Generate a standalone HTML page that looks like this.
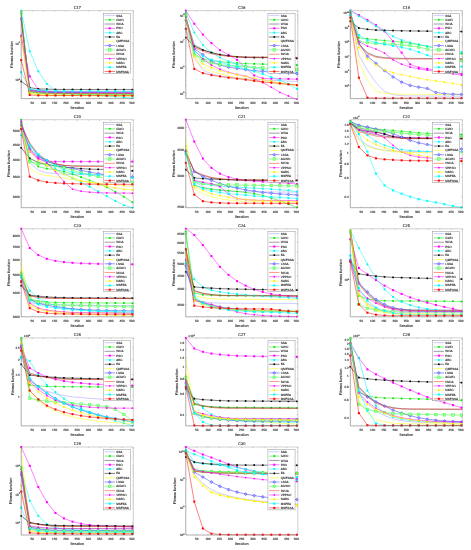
<!DOCTYPE html>
<html lang="en"><head><meta charset="utf-8"><title>Convergence curves C17-C30</title>
<style>html,body{margin:0;padding:0;background:#fff}svg{display:block}text{font-family:"Liberation Sans",sans-serif;stroke:#3a3a3a;stroke-width:0.13px;paint-order:stroke}</style></head>
<body>
<svg width="471" height="550" viewBox="0 0 471 550" font-family="Liberation Sans, sans-serif" text-rendering="geometricPrecision">
<rect width="471" height="550" fill="#fff"/>
<defs><marker id="mGWO" markerUnits="userSpaceOnUse" markerWidth="5" markerHeight="5" refX="2.5" refY="2.5" viewBox="0 0 5 5"><circle cx="2.5" cy="2.5" r="1.01" fill="#00e800"/></marker><marker id="mPSO" markerUnits="userSpaceOnUse" markerWidth="5" markerHeight="5" refX="2.5" refY="2.5" viewBox="0 0 5 5"><rect x="1.49" y="1.49" width="2.02" height="2.02" fill="#ff00ff"/></marker><marker id="mABC" markerUnits="userSpaceOnUse" markerWidth="5" markerHeight="5" refX="2.5" refY="2.5" viewBox="0 0 5 5"><circle cx="2.5" cy="2.5" r="1.06" fill="#00f4f4"/></marker><marker id="mFA" markerUnits="userSpaceOnUse" markerWidth="5" markerHeight="5" refX="2.5" refY="2.5" viewBox="0 0 5 5"><rect x="1.66" y="1.66" width="1.67" height="1.67" fill="#000000"/></marker><marker id="mLSSA" markerUnits="userSpaceOnUse" markerWidth="5" markerHeight="5" refX="2.5" refY="2.5" viewBox="0 0 5 5"><path d="M0.96 2.5L2.5 0.96L4.04 2.5L2.5 4.04Z" fill="#9a9aff" stroke="#3535ff" stroke-width="0.4"/></marker><marker id="mAGWO" markerUnits="userSpaceOnUse" markerWidth="5" markerHeight="5" refX="2.5" refY="2.5" viewBox="0 0 5 5"><rect x="1.22" y="1.22" width="2.55" height="2.55" fill="#9dff9d" stroke="#2cff2c" stroke-width="0.4"/></marker><marker id="mVPPSO" markerUnits="userSpaceOnUse" markerWidth="5" markerHeight="5" refX="2.5" refY="2.5" viewBox="0 0 5 5"><circle cx="2.5" cy="2.5" r="0.88" fill="#ff00ff"/></marker><marker id="mNABC" markerUnits="userSpaceOnUse" markerWidth="5" markerHeight="5" refX="2.5" refY="2.5" viewBox="0 0 5 5"><circle cx="2.5" cy="2.5" r="1.01" fill="#ffee00"/></marker><marker id="mMSEFA" markerUnits="userSpaceOnUse" markerWidth="5" markerHeight="5" refX="2.5" refY="2.5" viewBox="0 0 5 5"><rect x="1.44" y="1.44" width="2.11" height="2.11" fill="#00ffff"/></marker><marker id="mMSESSA" markerUnits="userSpaceOnUse" markerWidth="5" markerHeight="5" refX="2.5" refY="2.5" viewBox="0 0 5 5"><rect x="1.49" y="1.49" width="2.02" height="2.02" fill="#ff0000"/></marker></defs>
<g>
<clipPath id="c0"><rect x="19.9" y="9.3" width="114.7" height="90.6"/></clipPath>
<g clip-path="url(#c0)" fill="none" stroke-width="0.5" stroke-linejoin="round"><path d="M21.2 17.53L29.75 90.18L38.31 91.68L46.86 92.18L55.42 92.44L63.97 92.52L72.52 92.6L81.08 92.69L89.63 92.77L98.18 92.85L106.74 92.94L115.29 93.02L123.85 93.1L132.4 93.19L133.3 93.2" stroke="#9a9aff"/><path d="M21.2 13.77L29.75 91.43L38.31 92.69L46.86 93.19L55.42 93.44L63.97 93.52L72.52 93.6L81.08 93.69L89.63 93.77L98.18 93.85L106.74 93.94L115.29 94.02L123.85 94.11L132.4 94.19L133.3 94.2" stroke="#00e800"/><path d="M21.2 13.77L29.75 91.43L38.31 92.69L46.86 93.19L55.42 93.44L63.97 93.52L72.52 93.6L81.08 93.69L89.63 93.77L98.18 93.85L106.74 93.94L115.29 94.02L123.85 94.11L132.4 94.19" stroke="none" marker-start="url(#mGWO)" marker-mid="url(#mGWO)" marker-end="url(#mGWO)"/><path d="M21.2 16.27L29.75 89.68L38.31 90.93L46.86 91.43L55.42 91.68L63.97 91.74L72.52 91.79L81.08 91.85L89.63 91.91L98.18 91.96L106.74 92.02L115.29 92.07L123.85 92.13L132.4 92.18L133.3 92.19" stroke="#3a3a4a"/><path d="M21.2 37.07L29.75 76.4L38.31 89.68L46.86 91.68L55.42 92.44L63.97 92.55L72.52 92.66L81.08 92.77L89.63 92.88L98.18 92.99L106.74 93.1L115.29 93.21L123.85 93.33L132.4 93.44L133.3 93.45" stroke="#ff00ff"/><path d="M21.2 37.07L29.75 76.4L38.31 89.68L46.86 91.68L55.42 92.44L63.97 92.55L72.52 92.66L81.08 92.77L89.63 92.88L98.18 92.99L106.74 93.1L115.29 93.21L123.85 93.33L132.4 93.44" stroke="none" marker-start="url(#mPSO)" marker-mid="url(#mPSO)" marker-end="url(#mPSO)"/><path d="M21.2 10.51L29.75 51.35L38.31 71.39L46.86 83.92L55.42 90.18L63.97 92.69L72.52 93.94L81.08 94.69L89.63 95.19L98.18 95.69L106.74 96.19L115.29 96.69L123.85 97.2L132.4 98.2L133.3 98.3" stroke="#00f4f4"/><path d="M21.2 10.51L29.75 51.35L38.31 71.39L46.86 83.92L55.42 90.18L63.97 92.69L72.52 93.94L81.08 94.69L89.63 95.19L98.18 95.69L106.74 96.19L115.29 96.69L123.85 97.2L132.4 98.2" stroke="none" marker-start="url(#mABC)" marker-mid="url(#mABC)" marker-end="url(#mABC)"/><path d="M21.2 81.41L29.75 87.68L38.31 88.93L46.86 89.18L55.42 89.43L63.97 89.46L72.52 89.48L81.08 89.51L89.63 89.54L98.18 89.57L106.74 89.6L115.29 89.62L123.85 89.65L132.4 89.68L133.3 89.68" stroke="#000000"/><path d="M21.2 81.41L29.75 87.68L38.31 88.93L46.86 89.18L55.42 89.43L63.97 89.46L72.52 89.48L81.08 89.51L89.63 89.54L98.18 89.57L106.74 89.6L115.29 89.62L123.85 89.65L132.4 89.68" stroke="none" marker-start="url(#mFA)" marker-mid="url(#mFA)" marker-end="url(#mFA)"/><path d="M21.2 36.32L29.75 92.69L38.31 94.44L46.86 94.94L55.42 95.19L63.97 95.22L72.52 95.25L81.08 95.27L89.63 95.3L98.18 95.33L106.74 95.36L115.29 95.39L123.85 95.41L132.4 95.44L133.3 95.44" stroke="#ffff00"/><path d="M21.2 18.78L29.75 90.68L38.31 91.93L46.86 92.44L55.42 92.69L63.97 92.74L72.52 92.8L81.08 92.85L89.63 92.91L98.18 92.96L106.74 93.02L115.29 93.08L123.85 93.13L132.4 93.19L133.3 93.19" stroke="#3535ff"/><path d="M21.2 18.78L29.75 90.68L38.31 91.93L46.86 92.44L55.42 92.69L63.97 92.74L72.52 92.8L81.08 92.85L89.63 92.91L98.18 92.96L106.74 93.02L115.29 93.08L123.85 93.13L132.4 93.19" stroke="none" marker-start="url(#mLSSA)" marker-mid="url(#mLSSA)" marker-end="url(#mLSSA)"/><path d="M21.2 12.52L29.75 92.18L38.31 93.19L46.86 93.69L55.42 93.94L63.97 94.02L72.52 94.11L81.08 94.19L89.63 94.27L98.18 94.36L106.74 94.44L115.29 94.52L123.85 94.61L132.4 94.69L133.3 94.7" stroke="#2cff2c"/><path d="M21.2 12.52L29.75 92.18L38.31 93.19L46.86 93.69L55.42 93.94L63.97 94.02L72.52 94.11L81.08 94.19L89.63 94.27L98.18 94.36L106.74 94.44L115.29 94.52L123.85 94.61L132.4 94.69" stroke="none" marker-start="url(#mAGWO)" marker-mid="url(#mAGWO)" marker-end="url(#mAGWO)"/><path d="M21.2 20.03L29.75 91.43L38.31 92.69L46.86 93.19L55.42 93.44L63.97 93.47L72.52 93.49L81.08 93.52L89.63 93.55L98.18 93.58L106.74 93.6L115.29 93.63L123.85 93.66L132.4 93.69L133.3 93.69" stroke="#ff3010"/><path d="M21.2 35.06L29.75 89.68L38.31 90.93L46.86 91.43L55.42 91.68L63.97 91.74L72.52 91.79L81.08 91.85L89.63 91.91L98.18 91.96L106.74 92.02L115.29 92.07L123.85 92.13L132.4 92.18L133.3 92.19" stroke="#ff00ff"/><path d="M21.2 35.06L29.75 89.68L38.31 90.93L46.86 91.43L55.42 91.68L63.97 91.74L72.52 91.79L81.08 91.85L89.63 91.91L98.18 91.96L106.74 92.02L115.29 92.07L123.85 92.13L132.4 92.18" stroke="none" marker-start="url(#mVPPSO)" marker-mid="url(#mVPPSO)" marker-end="url(#mVPPSO)"/><path d="M21.2 37.57L29.75 93.19L38.31 94.69L46.86 95.19L55.42 95.44L63.97 95.5L72.52 95.55L81.08 95.61L89.63 95.66L98.18 95.72L106.74 95.78L115.29 95.83L123.85 95.89L132.4 95.94L133.3 95.95" stroke="#ffee00"/><path d="M21.2 37.57L29.75 93.19L38.31 94.69L46.86 95.19L55.42 95.44L63.97 95.5L72.52 95.55L81.08 95.61L89.63 95.66L98.18 95.72L106.74 95.78L115.29 95.83L123.85 95.89L132.4 95.94" stroke="none" marker-start="url(#mNABC)" marker-mid="url(#mNABC)" marker-end="url(#mNABC)"/><path d="M21.2 72.14L29.75 88.93L38.31 90.18L46.86 90.68L55.42 90.93L63.97 90.99L72.52 91.04L81.08 91.1L89.63 91.15L98.18 91.21L106.74 91.27L115.29 91.32L123.85 91.38L132.4 91.43L133.3 91.44" stroke="#00ffff"/><path d="M21.2 72.14L29.75 88.93L38.31 90.18L46.86 90.68L55.42 90.93L63.97 90.99L72.52 91.04L81.08 91.1L89.63 91.15L98.18 91.21L106.74 91.27L115.29 91.32L123.85 91.38L132.4 91.43" stroke="none" marker-start="url(#mMSEFA)" marker-mid="url(#mMSEFA)" marker-end="url(#mMSEFA)"/><path d="M21.2 60.12L29.75 94.94L38.31 95.44L46.86 95.44L55.42 95.44L63.97 95.47L72.52 95.5L81.08 95.53L89.63 95.55L98.18 95.58L106.74 95.61L115.29 95.64L123.85 95.66L132.4 95.69L133.3 95.69" stroke="#ff0000"/><path d="M21.2 60.12L29.75 94.94L38.31 95.44L46.86 95.44L55.42 95.44L63.97 95.47L72.52 95.5L81.08 95.53L89.63 95.55L98.18 95.58L106.74 95.61L115.29 95.64L123.85 95.66L132.4 95.69" stroke="none" marker-start="url(#mMSESSA)" marker-mid="url(#mMSESSA)" marker-end="url(#mMSESSA)"/></g>
<path d="M21.2 10.6V98.6H133.3" fill="none" stroke="#6a6a6a" stroke-width="0.55"/>
<path d="M21.2 10.6H133.3V98.6" fill="none" stroke="#999" stroke-width="0.45"/>
<path d="M32.21 98.6v-1.1M32.21 10.6v1.1M43.44 98.6v-1.1M43.44 10.6v1.1M54.67 98.6v-1.1M54.67 10.6v1.1M65.91 98.6v-1.1M65.91 10.6v1.1M77.14 98.6v-1.1M77.14 10.6v1.1M88.37 98.6v-1.1M88.37 10.6v1.1M99.6 98.6v-1.1M99.6 10.6v1.1M110.84 98.6v-1.1M110.84 10.6v1.1M122.07 98.6v-1.1M122.07 10.6v1.1M133.3 98.6v-1.1M133.3 10.6v1.1M21.2 43.2h1.1M133.3 43.2h-1.1M21.2 79.5h1.1M133.3 79.5h-1.1M21.2 32.27h0.6M133.3 32.27h-0.6M21.2 25.88h0.6M133.3 25.88h-0.6M21.2 21.35h0.6M133.3 21.35h-0.6M21.2 17.83h0.6M133.3 17.83h-0.6M21.2 14.95h0.6M133.3 14.95h-0.6M21.2 12.52h0.6M133.3 12.52h-0.6M21.2 68.57h0.6M133.3 68.57h-0.6M21.2 62.18h0.6M133.3 62.18h-0.6M21.2 57.65h0.6M133.3 57.65h-0.6M21.2 54.13h0.6M133.3 54.13h-0.6M21.2 51.25h0.6M133.3 51.25h-0.6M21.2 48.82h0.6M133.3 48.82h-0.6M21.2 46.72h0.6M133.3 46.72h-0.6M21.2 44.86h0.6M133.3 44.86h-0.6M21.2 93.95h0.6M133.3 93.95h-0.6M21.2 90.43h0.6M133.3 90.43h-0.6M21.2 87.55h0.6M133.3 87.55h-0.6M21.2 85.12h0.6M133.3 85.12h-0.6M21.2 83.02h0.6M133.3 83.02h-0.6M21.2 81.16h0.6M133.3 81.16h-0.6" stroke="#777" stroke-width="0.35" fill="none"/>
<g font-size="3.1" fill="#333" text-anchor="middle"><text x="32.21" y="103.7">50</text><text x="43.44" y="103.7">100</text><text x="54.67" y="103.7">150</text><text x="65.91" y="103.7">200</text><text x="77.14" y="103.7">250</text><text x="88.37" y="103.7">300</text><text x="99.6" y="103.7">350</text><text x="110.84" y="103.7">400</text><text x="122.07" y="103.7">450</text><text x="131.8" y="103.7">500</text></g>
<g font-size="3.1" fill="#333" text-anchor="end"><text x="20" y="44.7">10<tspan font-size="2.2" dy="-1.3">5</tspan></text><text x="20" y="81">10<tspan font-size="2.2" dy="-1.3">4</tspan></text></g>
<text x="77.25" y="109" font-size="3.75" fill="#333" text-anchor="middle">Iteration</text>
<text transform="translate(12.5 54.6) rotate(-90)" font-size="3.8" fill="#333" text-anchor="middle">Fitness function</text>
<text x="77.25" y="8.6" font-size="3.9" fill="#333" text-anchor="middle">C17</text>
<rect x="103.4" y="13.4" width="27.1" height="60.1" fill="#fff" stroke="#777" stroke-width="0.4"/><g font-size="3.05" fill="#333"><path d="M104.5 15.4h10.5" stroke="#9a9aff" stroke-width="0.5"/><text x="116.2" y="16.5">SSA</text><path d="M104.5 19.72h10.5" stroke="#00e800" stroke-width="0.5"/><circle cx="109.75" cy="19.72" r="1.01" fill="#00e800"/><text x="116.2" y="20.82">GWO</text><path d="M104.5 24.03h10.5" stroke="#3a3a4a" stroke-width="0.5"/><text x="116.2" y="25.13">WOA</text><path d="M104.5 28.35h10.5" stroke="#ff00ff" stroke-width="0.5"/><rect x="108.74" y="27.33" width="2.02" height="2.02" fill="#ff00ff"/><text x="116.2" y="29.45">PSO</text><path d="M104.5 32.66h10.5" stroke="#00f4f4" stroke-width="0.5"/><circle cx="109.75" cy="32.66" r="1.06" fill="#00f4f4"/><text x="116.2" y="33.76">ABC</text><path d="M104.5 36.98h10.5" stroke="#000000" stroke-width="0.5"/><rect x="108.91" y="36.14" width="1.67" height="1.67" fill="#000000"/><text x="116.2" y="38.08">FA</text><path d="M104.5 41.29h10.5" stroke="#ffff00" stroke-width="0.5"/><text x="116.2" y="42.39">QMESSA</text><path d="M104.5 45.61h10.5" stroke="#3535ff" stroke-width="0.5"/><path d="M108.21 45.61L109.75 44.07L111.29 45.61L109.75 47.15Z" fill="#9a9aff" stroke="#3535ff" stroke-width="0.4"/><text x="116.2" y="46.71">LSSA</text><path d="M104.5 49.92h10.5" stroke="#2cff2c" stroke-width="0.5"/><rect x="108.47" y="48.65" width="2.55" height="2.55" fill="#9dff9d" stroke="#2cff2c" stroke-width="0.4"/><text x="116.2" y="51.02">AGWO</text><path d="M104.5 54.24h10.5" stroke="#ff3010" stroke-width="0.5"/><text x="116.2" y="55.34">IWOA</text><path d="M104.5 58.55h10.5" stroke="#ff00ff" stroke-width="0.5"/><circle cx="109.75" cy="58.55" r="0.88" fill="#ff00ff"/><text x="116.2" y="59.65">VPPSO</text><path d="M104.5 62.87h10.5" stroke="#ffee00" stroke-width="0.5"/><circle cx="109.75" cy="62.87" r="1.01" fill="#ffee00"/><text x="116.2" y="63.97">NABC</text><path d="M104.5 67.18h10.5" stroke="#00ffff" stroke-width="0.5"/><rect x="108.69" y="66.13" width="2.11" height="2.11" fill="#00ffff"/><text x="116.2" y="68.28">MSEFA</text><path d="M104.5 71.5h10.5" stroke="#ff0000" stroke-width="0.5"/><rect x="108.74" y="70.49" width="2.02" height="2.02" fill="#ff0000"/><text x="116.2" y="72.6">MSESSA</text></g>
</g>
<g>
<clipPath id="c1"><rect x="184.45" y="9.3" width="114.7" height="90.6"/></clipPath>
<g clip-path="url(#c1)" fill="none" stroke-width="0.5" stroke-linejoin="round"><path d="M185.75 20.03L194.3 57.61L202.86 70.14L211.41 73.9L219.97 75.9L228.52 77.15L237.07 78.15L245.63 78.91L254.18 79.41L262.73 79.91L271.29 80.41L279.84 80.66L288.4 81.16L296.95 81.41L297.85 81.44" stroke="#9a9aff"/><path d="M185.75 16.27L194.3 53.85L202.86 58.86L211.41 60.62L219.97 61.62L228.52 62.62L237.07 63.12L245.63 63.62L254.18 63.87L262.73 64.13L271.29 64.38L279.84 64.63L288.4 64.88L296.95 65.13L297.85 65.15" stroke="#00e800"/><path d="M185.75 16.27L194.3 53.85L202.86 58.86L211.41 60.62L219.97 61.62L228.52 62.62L237.07 63.12L245.63 63.62L254.18 63.87L262.73 64.13L271.29 64.38L279.84 64.63L288.4 64.88L296.95 65.13" stroke="none" marker-start="url(#mGWO)" marker-mid="url(#mGWO)" marker-end="url(#mGWO)"/><path d="M185.75 17.53L194.3 45.08L202.86 49.59L211.41 52.6L219.97 54.61L228.52 55.86L237.07 56.61L245.63 57.11L254.18 57.15L262.73 57.19L271.29 57.24L279.84 57.28L288.4 57.32L296.95 57.36L297.85 57.37" stroke="#3a3a4a"/><path d="M185.75 10.51L194.3 23.79L202.86 34.56L211.41 43.08L219.97 50.1L228.52 54.86L237.07 59.87L245.63 67.63L254.18 75.4L262.73 78.41L271.29 78.66L279.84 78.91L288.4 78.91L296.95 79.16L297.85 79.18" stroke="#ff00ff"/><path d="M185.75 10.51L194.3 23.79L202.86 34.56L211.41 43.08L219.97 50.1L228.52 54.86L237.07 59.87L245.63 67.63L254.18 75.4L262.73 78.41L271.29 78.66L279.84 78.91L288.4 78.91L296.95 79.16" stroke="none" marker-start="url(#mPSO)" marker-mid="url(#mPSO)" marker-end="url(#mPSO)"/><path d="M185.75 12.52L194.3 32.56L202.86 45.08L211.41 52.6L219.97 57.61L228.52 61.37L237.07 64.38L245.63 66.38L254.18 68.13L262.73 69.64L271.29 70.64L279.84 71.39L288.4 71.89L296.95 72.64L297.85 72.72" stroke="#00f4f4"/><path d="M185.75 12.52L194.3 32.56L202.86 45.08L211.41 52.6L219.97 57.61L228.52 61.37L237.07 64.38L245.63 66.38L254.18 68.13L262.73 69.64L271.29 70.64L279.84 71.39L288.4 71.89L296.95 72.64" stroke="none" marker-start="url(#mABC)" marker-mid="url(#mABC)" marker-end="url(#mABC)"/><path d="M185.75 37.57L194.3 46.34L202.86 50.1L211.41 52.6L219.97 54.61L228.52 55.86L237.07 56.86L245.63 57.36L254.18 57.61L262.73 57.61L271.29 57.61L279.84 57.61L288.4 57.61L296.95 58.36L297.85 58.44" stroke="#000000"/><path d="M185.75 37.57L194.3 46.34L202.86 50.1L211.41 52.6L219.97 54.61L228.52 55.86L237.07 56.86L245.63 57.36L254.18 57.61L262.73 57.61L271.29 57.61L279.84 57.61L288.4 57.61L296.95 58.36" stroke="none" marker-start="url(#mFA)" marker-mid="url(#mFA)" marker-end="url(#mFA)"/><path d="M185.75 17.53L194.3 58.86L202.86 67.63L211.41 71.39L219.97 73.9L228.52 75.9L237.07 77.65L245.63 79.16L254.18 80.41L262.73 81.66L271.29 82.66L279.84 83.67L288.4 84.42L296.95 85.17L297.85 85.25" stroke="#ffff00"/><path d="M185.75 20.03L194.3 48.84L202.86 54.61L211.41 61.37L219.97 65.13L228.52 67.13L237.07 68.38L245.63 69.64L254.18 70.64L262.73 71.39L271.29 72.14L279.84 72.64L288.4 73.14L296.95 73.65L297.85 73.7" stroke="#3535ff"/><path d="M185.75 20.03L194.3 48.84L202.86 54.61L211.41 61.37L219.97 65.13L228.52 67.13L237.07 68.38L245.63 69.64L254.18 70.64L262.73 71.39L271.29 72.14L279.84 72.64L288.4 73.14L296.95 73.65" stroke="none" marker-start="url(#mLSSA)" marker-mid="url(#mLSSA)" marker-end="url(#mLSSA)"/><path d="M185.75 15.02L194.3 55.11L202.86 60.62L211.41 63.12L219.97 64.63L228.52 65.63L237.07 66.38L245.63 66.88L254.18 67.38L262.73 67.88L271.29 68.38L279.84 68.89L288.4 69.39L296.95 69.64L297.85 69.66" stroke="#2cff2c"/><path d="M185.75 15.02L194.3 55.11L202.86 60.62L211.41 63.12L219.97 64.63L228.52 65.63L237.07 66.38L245.63 66.88L254.18 67.38L262.73 67.88L271.29 68.38L279.84 68.89L288.4 69.39L296.95 69.64" stroke="none" marker-start="url(#mAGWO)" marker-mid="url(#mAGWO)" marker-end="url(#mAGWO)"/><path d="M185.75 20.03L194.3 47.59L202.86 51.35L211.41 53.85L219.97 55.36L228.52 56.36L237.07 56.86L245.63 57.11L254.18 57.19L262.73 57.28L271.29 57.36L279.84 57.44L288.4 57.53L296.95 57.61L297.85 57.62" stroke="#ff3010"/><path d="M185.75 17.53L194.3 50.1L202.86 58.86L211.41 65.13L219.97 69.14L228.52 72.39L237.07 74.4L245.63 76.15L254.18 78.91L262.73 82.66L271.29 87.17L279.84 92.44L288.4 95.94L296.95 99.7L297.85 100.08" stroke="#ff00ff"/><path d="M185.75 17.53L194.3 50.1L202.86 58.86L211.41 65.13L219.97 69.14L228.52 72.39L237.07 74.4L245.63 76.15L254.18 78.91L262.73 82.66L271.29 87.17L279.84 92.44L288.4 95.94L296.95 99.7" stroke="none" marker-start="url(#mVPPSO)" marker-mid="url(#mVPPSO)" marker-end="url(#mVPPSO)"/><path d="M185.75 18.78L194.3 56.36L202.86 63.87L211.41 67.63L219.97 70.64L228.52 72.64L237.07 74.65L245.63 76.4L254.18 78.15L262.73 79.66L271.29 81.16L279.84 82.66L288.4 83.92L296.95 85.17L297.85 85.3" stroke="#ffee00"/><path d="M185.75 18.78L194.3 56.36L202.86 63.87L211.41 67.63L219.97 70.64L228.52 72.64L237.07 74.65L245.63 76.4L254.18 78.15L262.73 79.66L271.29 81.16L279.84 82.66L288.4 83.92L296.95 85.17" stroke="none" marker-start="url(#mNABC)" marker-mid="url(#mNABC)" marker-end="url(#mNABC)"/><path d="M185.75 28.8L194.3 51.35L202.86 56.36L211.41 59.62L219.97 62.12L228.52 64.63L237.07 66.88L245.63 69.14L254.18 71.39L262.73 73.9L271.29 77.15L279.84 80.16L288.4 83.92L296.95 88.93L297.85 89.43" stroke="#00ffff"/><path d="M185.75 28.8L194.3 51.35L202.86 56.36L211.41 59.62L219.97 62.12L228.52 64.63L237.07 66.88L245.63 69.14L254.18 71.39L262.73 73.9L271.29 77.15L279.84 80.16L288.4 83.92L296.95 88.93" stroke="none" marker-start="url(#mMSEFA)" marker-mid="url(#mMSEFA)" marker-end="url(#mMSEFA)"/><path d="M185.75 28.8L194.3 68.89L202.86 73.14L211.41 75.15L219.97 76.4L228.52 77.65L237.07 78.66L245.63 79.66L254.18 80.91L262.73 81.91L271.29 82.66L279.84 83.42L288.4 84.42L296.95 85.17L297.85 85.25" stroke="#ff0000"/><path d="M185.75 28.8L194.3 68.89L202.86 73.14L211.41 75.15L219.97 76.4L228.52 77.65L237.07 78.66L245.63 79.66L254.18 80.91L262.73 81.91L271.29 82.66L279.84 83.42L288.4 84.42L296.95 85.17" stroke="none" marker-start="url(#mMSESSA)" marker-mid="url(#mMSESSA)" marker-end="url(#mMSESSA)"/></g>
<path d="M185.75 10.6V98.6H297.85" fill="none" stroke="#6a6a6a" stroke-width="0.55"/>
<path d="M185.75 10.6H297.85V98.6" fill="none" stroke="#999" stroke-width="0.45"/>
<path d="M196.76 98.6v-1.1M196.76 10.6v1.1M207.99 98.6v-1.1M207.99 10.6v1.1M219.22 98.6v-1.1M219.22 10.6v1.1M230.46 98.6v-1.1M230.46 10.6v1.1M241.69 98.6v-1.1M241.69 10.6v1.1M252.92 98.6v-1.1M252.92 10.6v1.1M264.15 98.6v-1.1M264.15 10.6v1.1M275.39 98.6v-1.1M275.39 10.6v1.1M286.62 98.6v-1.1M286.62 10.6v1.1M297.85 98.6v-1.1M297.85 10.6v1.1M185.75 15h1.1M297.85 15h-1.1M185.75 41h1.1M297.85 41h-1.1M185.75 67h1.1M297.85 67h-1.1M185.75 93h1.1M297.85 93h-1.1M185.75 33.17h0.6M297.85 33.17h-0.6M185.75 28.59h0.6M297.85 28.59h-0.6M185.75 25.35h0.6M297.85 25.35h-0.6M185.75 22.83h0.6M297.85 22.83h-0.6M185.75 20.77h0.6M297.85 20.77h-0.6M185.75 19.03h0.6M297.85 19.03h-0.6M185.75 17.52h0.6M297.85 17.52h-0.6M185.75 16.19h0.6M297.85 16.19h-0.6M185.75 59.17h0.6M297.85 59.17h-0.6M185.75 54.59h0.6M297.85 54.59h-0.6M185.75 51.35h0.6M297.85 51.35h-0.6M185.75 48.83h0.6M297.85 48.83h-0.6M185.75 46.77h0.6M297.85 46.77h-0.6M185.75 45.03h0.6M297.85 45.03h-0.6M185.75 43.52h0.6M297.85 43.52h-0.6M185.75 42.19h0.6M297.85 42.19h-0.6M185.75 85.17h0.6M297.85 85.17h-0.6M185.75 80.59h0.6M297.85 80.59h-0.6M185.75 77.35h0.6M297.85 77.35h-0.6M185.75 74.83h0.6M297.85 74.83h-0.6M185.75 72.77h0.6M297.85 72.77h-0.6M185.75 71.03h0.6M297.85 71.03h-0.6M185.75 69.52h0.6M297.85 69.52h-0.6M185.75 68.19h0.6M297.85 68.19h-0.6M185.75 97.03h0.6M297.85 97.03h-0.6M185.75 95.52h0.6M297.85 95.52h-0.6M185.75 94.19h0.6M297.85 94.19h-0.6" stroke="#777" stroke-width="0.35" fill="none"/>
<g font-size="3.1" fill="#333" text-anchor="middle"><text x="196.76" y="103.7">50</text><text x="207.99" y="103.7">100</text><text x="219.22" y="103.7">150</text><text x="230.46" y="103.7">200</text><text x="241.69" y="103.7">250</text><text x="252.92" y="103.7">300</text><text x="264.15" y="103.7">350</text><text x="275.39" y="103.7">400</text><text x="286.62" y="103.7">450</text><text x="296.35" y="103.7">500</text></g>
<g font-size="3.1" fill="#333" text-anchor="end"><text x="184.55" y="16.5">10<tspan font-size="2.2" dy="-1.3">8</tspan></text><text x="184.55" y="42.5">10<tspan font-size="2.2" dy="-1.3">7</tspan></text><text x="184.55" y="68.5">10<tspan font-size="2.2" dy="-1.3">6</tspan></text><text x="184.55" y="94.5">10<tspan font-size="2.2" dy="-1.3">5</tspan></text></g>
<text x="241.8" y="109" font-size="3.75" fill="#333" text-anchor="middle">Iteration</text>
<text transform="translate(174.95 54.6) rotate(-90)" font-size="3.8" fill="#333" text-anchor="middle">Fitness function</text>
<text x="241.8" y="8.6" font-size="3.9" fill="#333" text-anchor="middle">C18</text>
<rect x="267.95" y="13.4" width="27.1" height="60.1" fill="#fff" stroke="#777" stroke-width="0.4"/><g font-size="3.05" fill="#333"><path d="M269.05 15.4h10.5" stroke="#9a9aff" stroke-width="0.5"/><text x="280.75" y="16.5">SSA</text><path d="M269.05 19.72h10.5" stroke="#00e800" stroke-width="0.5"/><circle cx="274.3" cy="19.72" r="1.01" fill="#00e800"/><text x="280.75" y="20.82">GWO</text><path d="M269.05 24.03h10.5" stroke="#3a3a4a" stroke-width="0.5"/><text x="280.75" y="25.13">WOA</text><path d="M269.05 28.35h10.5" stroke="#ff00ff" stroke-width="0.5"/><rect x="273.29" y="27.33" width="2.02" height="2.02" fill="#ff00ff"/><text x="280.75" y="29.45">PSO</text><path d="M269.05 32.66h10.5" stroke="#00f4f4" stroke-width="0.5"/><circle cx="274.3" cy="32.66" r="1.06" fill="#00f4f4"/><text x="280.75" y="33.76">ABC</text><path d="M269.05 36.98h10.5" stroke="#000000" stroke-width="0.5"/><rect x="273.46" y="36.14" width="1.67" height="1.67" fill="#000000"/><text x="280.75" y="38.08">FA</text><path d="M269.05 41.29h10.5" stroke="#ffff00" stroke-width="0.5"/><text x="280.75" y="42.39">QMESSA</text><path d="M269.05 45.61h10.5" stroke="#3535ff" stroke-width="0.5"/><path d="M272.76 45.61L274.3 44.07L275.84 45.61L274.3 47.15Z" fill="#9a9aff" stroke="#3535ff" stroke-width="0.4"/><text x="280.75" y="46.71">LSSA</text><path d="M269.05 49.92h10.5" stroke="#2cff2c" stroke-width="0.5"/><rect x="273.02" y="48.65" width="2.55" height="2.55" fill="#9dff9d" stroke="#2cff2c" stroke-width="0.4"/><text x="280.75" y="51.02">AGWO</text><path d="M269.05 54.24h10.5" stroke="#ff3010" stroke-width="0.5"/><text x="280.75" y="55.34">IWOA</text><path d="M269.05 58.55h10.5" stroke="#ff00ff" stroke-width="0.5"/><circle cx="274.3" cy="58.55" r="0.88" fill="#ff00ff"/><text x="280.75" y="59.65">VPPSO</text><path d="M269.05 62.87h10.5" stroke="#ffee00" stroke-width="0.5"/><circle cx="274.3" cy="62.87" r="1.01" fill="#ffee00"/><text x="280.75" y="63.97">NABC</text><path d="M269.05 67.18h10.5" stroke="#00ffff" stroke-width="0.5"/><rect x="273.24" y="66.13" width="2.11" height="2.11" fill="#00ffff"/><text x="280.75" y="68.28">MSEFA</text><path d="M269.05 71.5h10.5" stroke="#ff0000" stroke-width="0.5"/><rect x="273.29" y="70.49" width="2.02" height="2.02" fill="#ff0000"/><text x="280.75" y="72.6">MSESSA</text></g>
</g>
<g>
<clipPath id="c2"><rect x="349" y="9.3" width="114.7" height="90.6"/></clipPath>
<g clip-path="url(#c2)" fill="none" stroke-width="0.5" stroke-linejoin="round"><path d="M350.3 15.02L358.85 55.11L367.41 70.14L375.96 82.66L384.52 91.43L393.07 94.69L401.62 95.69L410.18 95.94L418.73 95.98L427.28 96.03L435.84 96.07L444.39 96.11L452.95 96.15L461.5 96.19L462.4 96.2" stroke="#9a9aff"/><path d="M350.3 12.52L358.85 37.82L367.41 38.82L375.96 39.82L384.52 40.58L393.07 41.33L401.62 42.08L410.18 43.08L418.73 44.58L427.28 46.34L435.84 48.09L444.39 50.1L452.95 52.1L461.5 53.85L462.4 54.03" stroke="#00e800"/><path d="M350.3 12.52L358.85 37.82L367.41 38.82L375.96 39.82L384.52 40.58L393.07 41.33L401.62 42.08L410.18 43.08L418.73 44.58L427.28 46.34L435.84 48.09L444.39 50.1L452.95 52.1L461.5 53.85" stroke="none" marker-start="url(#mGWO)" marker-mid="url(#mGWO)" marker-end="url(#mGWO)"/><path d="M350.3 15.02L358.85 43.83L367.41 52.6L375.96 56.36L384.52 57.61L393.07 58.11L401.62 58.36L410.18 58.4L418.73 58.43L427.28 58.47L435.84 58.51L444.39 58.54L452.95 58.58L461.5 58.61L462.4 58.62" stroke="#3a3a4a"/><path d="M350.3 10.51L358.85 15.02L367.41 20.03L375.96 25.04L384.52 31.31L393.07 41.33L401.62 52.6L410.18 64.38L418.73 67.63L427.28 68.89L435.84 69.89L444.39 70.89L452.95 72.14L461.5 73.9L462.4 74.07" stroke="#ff00ff"/><path d="M350.3 10.51L358.85 15.02L367.41 20.03L375.96 25.04L384.52 31.31L393.07 41.33L401.62 52.6L410.18 64.38L418.73 67.63L427.28 68.89L435.84 69.89L444.39 70.89L452.95 72.14L461.5 73.9" stroke="none" marker-start="url(#mPSO)" marker-mid="url(#mPSO)" marker-end="url(#mPSO)"/><path d="M350.3 10.51L358.85 16.27L367.41 21.28L375.96 26.3L384.52 31.31L393.07 36.32L401.62 40.07L410.18 42.58L418.73 44.58L427.28 46.34L435.84 48.09L444.39 49.59L452.95 50.85L461.5 52.1L462.4 52.23" stroke="#00f4f4"/><path d="M350.3 10.51L358.85 16.27L367.41 21.28L375.96 26.3L384.52 31.31L393.07 36.32L401.62 40.07L410.18 42.58L418.73 44.58L427.28 46.34L435.84 48.09L444.39 49.59L452.95 50.85L461.5 52.1" stroke="none" marker-start="url(#mABC)" marker-mid="url(#mABC)" marker-end="url(#mABC)"/><path d="M350.3 21.28L358.85 28.05L367.41 29.3L375.96 30.05L384.52 30.3L393.07 30.55L401.62 30.8L410.18 30.91L418.73 31.02L427.28 31.13L435.84 31.23L444.39 31.34L452.95 31.45L461.5 31.56L462.4 31.57" stroke="#000000"/><path d="M350.3 21.28L358.85 28.05L367.41 29.3L375.96 30.05L384.52 30.3L393.07 30.55L401.62 30.8L410.18 30.91L418.73 31.02L427.28 31.13L435.84 31.23L444.39 31.34L452.95 31.45L461.5 31.56" stroke="none" marker-start="url(#mFA)" marker-mid="url(#mFA)" marker-end="url(#mFA)"/><path d="M350.3 15.02L358.85 62.62L367.41 80.16L375.96 91.43L384.52 93.19L393.07 93.94L401.62 94.19L410.18 94.26L418.73 94.33L427.28 94.4L435.84 94.48L444.39 94.55L452.95 94.62L461.5 94.69L462.4 94.7" stroke="#ffff00"/><path d="M350.3 13.77L358.85 42.58L367.41 56.36L375.96 63.37L384.52 70.64L393.07 76.9L401.62 82.16L410.18 85.42L418.73 87.17L427.28 88.43L435.84 92.44L444.39 93.69L452.95 94.19L461.5 94.44L462.4 94.46" stroke="#3535ff"/><path d="M350.3 13.77L358.85 42.58L367.41 56.36L375.96 63.37L384.52 70.64L393.07 76.9L401.62 82.16L410.18 85.42L418.73 87.17L427.28 88.43L435.84 92.44L444.39 93.69L452.95 94.19L461.5 94.44" stroke="none" marker-start="url(#mLSSA)" marker-mid="url(#mLSSA)" marker-end="url(#mLSSA)"/><path d="M350.3 12.52L358.85 41.58L367.41 42.58L375.96 43.33L384.52 43.83L393.07 44.33L401.62 44.83L410.18 45.59L418.73 47.09L427.28 49.09L435.84 51.6L444.39 54.61L452.95 57.61L461.5 60.62L462.4 60.92" stroke="#2cff2c"/><path d="M350.3 12.52L358.85 41.58L367.41 42.58L375.96 43.33L384.52 43.83L393.07 44.33L401.62 44.83L410.18 45.59L418.73 47.09L427.28 49.09L435.84 51.6L444.39 54.61L452.95 57.61L461.5 60.62" stroke="none" marker-start="url(#mAGWO)" marker-mid="url(#mAGWO)" marker-end="url(#mAGWO)"/><path d="M350.3 15.02L358.85 45.08L367.41 53.85L375.96 57.11L384.52 58.36L393.07 58.86L401.62 58.93L410.18 58.99L418.73 59.05L427.28 59.11L435.84 59.18L444.39 59.24L452.95 59.3L461.5 59.37L462.4 59.37" stroke="#ff3010"/><path d="M350.3 12.52L358.85 41.58L367.41 46.09L375.96 49.09L384.52 53.1L393.07 59.87L401.62 64.13L410.18 67.13L418.73 68.89L427.28 70.14L435.84 71.39L444.39 72.64L452.95 73.9L461.5 75.15L462.4 75.27" stroke="#ff00ff"/><path d="M350.3 12.52L358.85 41.58L367.41 46.09L375.96 49.09L384.52 53.1L393.07 59.87L401.62 64.13L410.18 67.13L418.73 68.89L427.28 70.14L435.84 71.39L444.39 72.64L452.95 73.9L461.5 75.15" stroke="none" marker-start="url(#mVPPSO)" marker-mid="url(#mVPPSO)" marker-end="url(#mVPPSO)"/><path d="M350.3 15.02L358.85 47.59L367.41 58.86L375.96 65.13L384.52 70.14L393.07 72.64L401.62 74.65L410.18 76.4L418.73 78.15L427.28 79.66L435.84 80.91L444.39 82.16L452.95 83.42L461.5 84.67L462.4 84.79" stroke="#ffee00"/><path d="M350.3 15.02L358.85 47.59L367.41 58.86L375.96 65.13L384.52 70.14L393.07 72.64L401.62 74.65L410.18 76.4L418.73 78.15L427.28 79.66L435.84 80.91L444.39 82.16L452.95 83.42L461.5 84.67" stroke="none" marker-start="url(#mNABC)" marker-mid="url(#mNABC)" marker-end="url(#mNABC)"/><path d="M350.3 15.02L358.85 35.06L367.41 40.07L375.96 42.58L384.52 44.33L393.07 45.84L401.62 47.34L410.18 49.34L418.73 52.1L427.28 55.11L435.84 58.11L444.39 61.12L452.95 63.87L461.5 66.63L462.4 66.91" stroke="#00ffff"/><path d="M350.3 15.02L358.85 35.06L367.41 40.07L375.96 42.58L384.52 44.33L393.07 45.84L401.62 47.34L410.18 49.34L418.73 52.1L427.28 55.11L435.84 58.11L444.39 61.12L452.95 63.87L461.5 66.63" stroke="none" marker-start="url(#mMSEFA)" marker-mid="url(#mMSEFA)" marker-end="url(#mMSEFA)"/><path d="M350.3 17.53L358.85 77.65L367.41 97.7L375.96 98.2L384.52 98.2L393.07 98.2L401.62 98.2L410.18 98.2L418.73 98.2L427.28 98.2L435.84 98.2L444.39 98.2L452.95 98.2L461.5 98.2L462.4 98.2" stroke="#ff0000"/><path d="M350.3 17.53L358.85 77.65L367.41 97.7L375.96 98.2L384.52 98.2L393.07 98.2L401.62 98.2L410.18 98.2L418.73 98.2L427.28 98.2L435.84 98.2L444.39 98.2L452.95 98.2L461.5 98.2" stroke="none" marker-start="url(#mMSESSA)" marker-mid="url(#mMSESSA)" marker-end="url(#mMSESSA)"/></g>
<path d="M350.3 10.6V98.6H462.4" fill="none" stroke="#6a6a6a" stroke-width="0.55"/>
<path d="M350.3 10.6H462.4V98.6" fill="none" stroke="#999" stroke-width="0.45"/>
<path d="M361.31 98.6v-1.1M361.31 10.6v1.1M372.54 98.6v-1.1M372.54 10.6v1.1M383.77 98.6v-1.1M383.77 10.6v1.1M395.01 98.6v-1.1M395.01 10.6v1.1M406.24 98.6v-1.1M406.24 10.6v1.1M417.47 98.6v-1.1M417.47 10.6v1.1M428.7 98.6v-1.1M428.7 10.6v1.1M439.94 98.6v-1.1M439.94 10.6v1.1M451.17 98.6v-1.1M451.17 10.6v1.1M462.4 98.6v-1.1M462.4 10.6v1.1M350.3 12.6h1.1M462.4 12.6h-1.1M350.3 27.2h1.1M462.4 27.2h-1.1M350.3 41.8h1.1M462.4 41.8h-1.1M350.3 56.4h1.1M462.4 56.4h-1.1M350.3 71h1.1M462.4 71h-1.1M350.3 85.6h1.1M462.4 85.6h-1.1M350.3 22.8h0.6M462.4 22.8h-0.6M350.3 20.23h0.6M462.4 20.23h-0.6M350.3 18.41h0.6M462.4 18.41h-0.6M350.3 17h0.6M462.4 17h-0.6M350.3 15.84h0.6M462.4 15.84h-0.6M350.3 14.86h0.6M462.4 14.86h-0.6M350.3 14.01h0.6M462.4 14.01h-0.6M350.3 13.27h0.6M462.4 13.27h-0.6M350.3 37.4h0.6M462.4 37.4h-0.6M350.3 34.83h0.6M462.4 34.83h-0.6M350.3 33.01h0.6M462.4 33.01h-0.6M350.3 31.6h0.6M462.4 31.6h-0.6M350.3 30.44h0.6M462.4 30.44h-0.6M350.3 29.46h0.6M462.4 29.46h-0.6M350.3 28.61h0.6M462.4 28.61h-0.6M350.3 27.87h0.6M462.4 27.87h-0.6M350.3 52h0.6M462.4 52h-0.6M350.3 49.43h0.6M462.4 49.43h-0.6M350.3 47.61h0.6M462.4 47.61h-0.6M350.3 46.2h0.6M462.4 46.2h-0.6M350.3 45.04h0.6M462.4 45.04h-0.6M350.3 44.06h0.6M462.4 44.06h-0.6M350.3 43.21h0.6M462.4 43.21h-0.6M350.3 42.47h0.6M462.4 42.47h-0.6M350.3 66.6h0.6M462.4 66.6h-0.6M350.3 64.03h0.6M462.4 64.03h-0.6M350.3 62.21h0.6M462.4 62.21h-0.6M350.3 60.8h0.6M462.4 60.8h-0.6M350.3 59.64h0.6M462.4 59.64h-0.6M350.3 58.66h0.6M462.4 58.66h-0.6M350.3 57.81h0.6M462.4 57.81h-0.6M350.3 57.07h0.6M462.4 57.07h-0.6M350.3 81.2h0.6M462.4 81.2h-0.6M350.3 78.63h0.6M462.4 78.63h-0.6M350.3 76.81h0.6M462.4 76.81h-0.6M350.3 75.4h0.6M462.4 75.4h-0.6M350.3 74.24h0.6M462.4 74.24h-0.6M350.3 73.26h0.6M462.4 73.26h-0.6M350.3 72.41h0.6M462.4 72.41h-0.6M350.3 71.67h0.6M462.4 71.67h-0.6M350.3 95.8h0.6M462.4 95.8h-0.6M350.3 93.23h0.6M462.4 93.23h-0.6M350.3 91.41h0.6M462.4 91.41h-0.6M350.3 90h0.6M462.4 90h-0.6M350.3 88.84h0.6M462.4 88.84h-0.6M350.3 87.86h0.6M462.4 87.86h-0.6M350.3 87.01h0.6M462.4 87.01h-0.6M350.3 86.27h0.6M462.4 86.27h-0.6" stroke="#777" stroke-width="0.35" fill="none"/>
<g font-size="3.1" fill="#333" text-anchor="middle"><text x="361.31" y="103.7">50</text><text x="372.54" y="103.7">100</text><text x="383.77" y="103.7">150</text><text x="395.01" y="103.7">200</text><text x="406.24" y="103.7">250</text><text x="417.47" y="103.7">300</text><text x="428.7" y="103.7">350</text><text x="439.94" y="103.7">400</text><text x="451.17" y="103.7">450</text><text x="460.9" y="103.7">500</text></g>
<g font-size="3.1" fill="#333" text-anchor="end"><text x="349.1" y="14.1">10<tspan font-size="2.2" dy="-1.3">10</tspan></text><text x="349.1" y="28.7">10<tspan font-size="2.2" dy="-1.3">9</tspan></text><text x="349.1" y="43.3">10<tspan font-size="2.2" dy="-1.3">8</tspan></text><text x="349.1" y="57.9">10<tspan font-size="2.2" dy="-1.3">7</tspan></text><text x="349.1" y="72.5">10<tspan font-size="2.2" dy="-1.3">6</tspan></text><text x="349.1" y="87.1">10<tspan font-size="2.2" dy="-1.3">5</tspan></text></g>
<text x="406.35" y="109" font-size="3.75" fill="#333" text-anchor="middle">Iteration</text>
<text transform="translate(339.9 54.6) rotate(-90)" font-size="3.8" fill="#333" text-anchor="middle">Fitness function</text>
<text x="406.35" y="8.6" font-size="3.9" fill="#333" text-anchor="middle">C19</text>
<rect x="432.5" y="13.4" width="27.1" height="60.1" fill="#fff" stroke="#777" stroke-width="0.4"/><g font-size="3.05" fill="#333"><path d="M433.6 15.4h10.5" stroke="#9a9aff" stroke-width="0.5"/><text x="445.3" y="16.5">SSA</text><path d="M433.6 19.72h10.5" stroke="#00e800" stroke-width="0.5"/><circle cx="438.85" cy="19.72" r="1.01" fill="#00e800"/><text x="445.3" y="20.82">GWO</text><path d="M433.6 24.03h10.5" stroke="#3a3a4a" stroke-width="0.5"/><text x="445.3" y="25.13">WOA</text><path d="M433.6 28.35h10.5" stroke="#ff00ff" stroke-width="0.5"/><rect x="437.84" y="27.33" width="2.02" height="2.02" fill="#ff00ff"/><text x="445.3" y="29.45">PSO</text><path d="M433.6 32.66h10.5" stroke="#00f4f4" stroke-width="0.5"/><circle cx="438.85" cy="32.66" r="1.06" fill="#00f4f4"/><text x="445.3" y="33.76">ABC</text><path d="M433.6 36.98h10.5" stroke="#000000" stroke-width="0.5"/><rect x="438.01" y="36.14" width="1.67" height="1.67" fill="#000000"/><text x="445.3" y="38.08">FA</text><path d="M433.6 41.29h10.5" stroke="#ffff00" stroke-width="0.5"/><text x="445.3" y="42.39">QMESSA</text><path d="M433.6 45.61h10.5" stroke="#3535ff" stroke-width="0.5"/><path d="M437.31 45.61L438.85 44.07L440.39 45.61L438.85 47.15Z" fill="#9a9aff" stroke="#3535ff" stroke-width="0.4"/><text x="445.3" y="46.71">LSSA</text><path d="M433.6 49.92h10.5" stroke="#2cff2c" stroke-width="0.5"/><rect x="437.57" y="48.65" width="2.55" height="2.55" fill="#9dff9d" stroke="#2cff2c" stroke-width="0.4"/><text x="445.3" y="51.02">AGWO</text><path d="M433.6 54.24h10.5" stroke="#ff3010" stroke-width="0.5"/><text x="445.3" y="55.34">IWOA</text><path d="M433.6 58.55h10.5" stroke="#ff00ff" stroke-width="0.5"/><circle cx="438.85" cy="58.55" r="0.88" fill="#ff00ff"/><text x="445.3" y="59.65">VPPSO</text><path d="M433.6 62.87h10.5" stroke="#ffee00" stroke-width="0.5"/><circle cx="438.85" cy="62.87" r="1.01" fill="#ffee00"/><text x="445.3" y="63.97">NABC</text><path d="M433.6 67.18h10.5" stroke="#00ffff" stroke-width="0.5"/><rect x="437.79" y="66.13" width="2.11" height="2.11" fill="#00ffff"/><text x="445.3" y="68.28">MSEFA</text><path d="M433.6 71.5h10.5" stroke="#ff0000" stroke-width="0.5"/><rect x="437.84" y="70.49" width="2.02" height="2.02" fill="#ff0000"/><text x="445.3" y="72.6">MSESSA</text></g>
</g>
<g>
<clipPath id="c3"><rect x="19.9" y="118.4" width="114.7" height="90.6"/></clipPath>
<g clip-path="url(#c3)" fill="none" stroke-width="0.5" stroke-linejoin="round"><path d="M21.2 126.53L29.75 162.85L38.31 170.37L46.86 172.87L55.42 173.63L63.97 174.13L72.52 174.38L81.08 174.45L89.63 174.52L98.18 174.59L106.74 174.66L115.29 174.74L123.85 174.81L132.4 174.88L133.3 174.89" stroke="#9a9aff"/><path d="M21.2 119.51L29.75 160.35L38.31 166.61L46.86 168.62L55.42 169.62L63.97 171.62L72.52 174.13L81.08 177.13L89.63 180.39L98.18 183.65L106.74 187.15L115.29 191.66L123.85 196.68L132.4 202.19L133.3 202.74" stroke="#00e800"/><path d="M21.2 119.51L29.75 160.35L38.31 166.61L46.86 168.62L55.42 169.62L63.97 171.62L72.52 174.13L81.08 177.13L89.63 180.39L98.18 183.65L106.74 187.15L115.29 191.66L123.85 196.68L132.4 202.19" stroke="none" marker-start="url(#mGWO)" marker-mid="url(#mGWO)" marker-end="url(#mGWO)"/><path d="M21.2 124.02L29.75 144.06L38.31 155.34L46.86 161.6L55.42 164.11L63.97 165.36L72.52 165.86L81.08 165.9L89.63 165.93L98.18 165.97L106.74 166L115.29 166.04L123.85 166.07L132.4 166.11L133.3 166.11" stroke="#3a3a4a"/><path d="M21.2 121.52L29.75 151.58L38.31 159.1L46.86 161.1L55.42 161.6L63.97 161.6L72.52 161.6L81.08 161.6L89.63 161.6L98.18 161.6L106.74 161.6L115.29 161.6L123.85 161.6L132.4 161.6L133.3 161.6" stroke="#ff00ff"/><path d="M21.2 121.52L29.75 151.58L38.31 159.1L46.86 161.1L55.42 161.6L63.97 161.6L72.52 161.6L81.08 161.6L89.63 161.6L98.18 161.6L106.74 161.6L115.29 161.6L123.85 161.6L132.4 161.6" stroke="none" marker-start="url(#mPSO)" marker-mid="url(#mPSO)" marker-end="url(#mPSO)"/><path d="M21.2 135.3L29.75 146.57L38.31 155.34L46.86 163.35L55.42 169.12L63.97 173.88L72.52 178.14L81.08 182.39L89.63 186.65L98.18 191.41L106.74 196.17L115.29 200.93L123.85 205.19L132.4 207.7L133.3 207.95" stroke="#00f4f4"/><path d="M21.2 135.3L29.75 146.57L38.31 155.34L46.86 163.35L55.42 169.12L63.97 173.88L72.52 178.14L81.08 182.39L89.63 186.65L98.18 191.41L106.74 196.17L115.29 200.93L123.85 205.19L132.4 207.7" stroke="none" marker-start="url(#mABC)" marker-mid="url(#mABC)" marker-end="url(#mABC)"/><path d="M21.2 147.82L29.75 158.34L38.31 162.6L46.86 164.36L55.42 165.86L63.97 167.11L72.52 167.86L81.08 168.62L89.63 169.12L98.18 169.37L106.74 169.37L115.29 169.62L123.85 169.87L132.4 170.87L133.3 170.97" stroke="#000000"/><path d="M21.2 147.82L29.75 158.34L38.31 162.6L46.86 164.36L55.42 165.86L63.97 167.11L72.52 167.86L81.08 168.62L89.63 169.12L98.18 169.37L106.74 169.37L115.29 169.62L123.85 169.87L132.4 170.87" stroke="none" marker-start="url(#mFA)" marker-mid="url(#mFA)" marker-end="url(#mFA)"/><path d="M21.2 126.53L29.75 167.86L38.31 174.13L46.86 175.38L55.42 176.63L63.97 177.89L72.52 179.64L81.08 181.14L89.63 182.14L98.18 183.15L106.74 184.15L115.29 184.9L123.85 185.65L132.4 186.65L133.3 186.75" stroke="#ffff00"/><path d="M21.2 125.27L29.75 149.07L38.31 156.59L46.86 160.35L55.42 164.11L63.97 166.61L72.52 168.62L81.08 170.37L89.63 172.12L98.18 173.63L106.74 174.88L115.29 175.63L123.85 176.38L132.4 177.13L133.3 177.21" stroke="#3535ff"/><path d="M21.2 125.27L29.75 149.07L38.31 156.59L46.86 160.35L55.42 164.11L63.97 166.61L72.52 168.62L81.08 170.37L89.63 172.12L98.18 173.63L106.74 174.88L115.29 175.63L123.85 176.38L132.4 177.13" stroke="none" marker-start="url(#mLSSA)" marker-mid="url(#mLSSA)" marker-end="url(#mLSSA)"/><path d="M21.2 124.02L29.75 161.6L38.31 163.61L46.86 164.86L55.42 166.11L63.97 167.86L72.52 170.37L81.08 172.87L89.63 174.88L98.18 176.63L106.74 178.14L115.29 179.64L123.85 181.14L132.4 182.14L133.3 182.24" stroke="#2cff2c"/><path d="M21.2 124.02L29.75 161.6L38.31 163.61L46.86 164.86L55.42 166.11L63.97 167.86L72.52 170.37L81.08 172.87L89.63 174.88L98.18 176.63L106.74 178.14L115.29 179.64L123.85 181.14L132.4 182.14" stroke="none" marker-start="url(#mAGWO)" marker-mid="url(#mAGWO)" marker-end="url(#mAGWO)"/><path d="M21.2 126.53L29.75 142.81L38.31 154.08L46.86 160.35L55.42 163.61L63.97 165.36L72.52 166.11L81.08 166.36L89.63 166.4L98.18 166.44L106.74 166.49L115.29 166.53L123.85 166.57L132.4 166.61L133.3 166.62" stroke="#ff3010"/><path d="M21.2 124.02L29.75 150.33L38.31 157.84L46.86 162.85L55.42 171.62L63.97 181.64L72.52 189.16L81.08 191.16L89.63 192.17L98.18 192.67L106.74 192.92L115.29 193L123.85 193.08L132.4 193.17L133.3 193.18" stroke="#ff00ff"/><path d="M21.2 124.02L29.75 150.33L38.31 157.84L46.86 162.85L55.42 171.62L63.97 181.64L72.52 189.16L81.08 191.16L89.63 192.17L98.18 192.67L106.74 192.92L115.29 193L123.85 193.08L132.4 193.17" stroke="none" marker-start="url(#mVPPSO)" marker-mid="url(#mVPPSO)" marker-end="url(#mVPPSO)"/><path d="M21.2 127.78L29.75 151.58L38.31 160.35L46.86 165.36L55.42 170.37L63.97 174.38L72.52 177.63L81.08 180.64L89.63 182.39L98.18 184.4L106.74 186.15L115.29 187.91L123.85 189.16L132.4 189.91L133.3 189.99" stroke="#ffee00"/><path d="M21.2 127.78L29.75 151.58L38.31 160.35L46.86 165.36L55.42 170.37L63.97 174.38L72.52 177.63L81.08 180.64L89.63 182.39L98.18 184.4L106.74 186.15L115.29 187.91L123.85 189.16L132.4 189.91" stroke="none" marker-start="url(#mNABC)" marker-mid="url(#mNABC)" marker-end="url(#mNABC)"/><path d="M21.2 129.03L29.75 145.32L38.31 154.08L46.86 160.35L55.42 165.36L63.97 169.62L72.52 172.37L81.08 173.63L89.63 174.38L98.18 175.13L106.74 175.88L115.29 176.63L123.85 177.13L132.4 177.63L133.3 177.68" stroke="#00ffff"/><path d="M21.2 129.03L29.75 145.32L38.31 154.08L46.86 160.35L55.42 165.36L63.97 169.62L72.52 172.37L81.08 173.63L89.63 174.38L98.18 175.13L106.74 175.88L115.29 176.63L123.85 177.13L132.4 177.63" stroke="none" marker-start="url(#mMSEFA)" marker-mid="url(#mMSEFA)" marker-end="url(#mMSEFA)"/><path d="M21.2 129.03L29.75 176.63L38.31 180.39L46.86 182.14L55.42 182.9L63.97 183.4L72.52 183.65L81.08 183.9L89.63 184.15L98.18 184.2L106.74 184.25L115.29 184.3L123.85 184.35L132.4 184.4L133.3 184.4" stroke="#ff0000"/><path d="M21.2 129.03L29.75 176.63L38.31 180.39L46.86 182.14L55.42 182.9L63.97 183.4L72.52 183.65L81.08 183.9L89.63 184.15L98.18 184.2L106.74 184.25L115.29 184.3L123.85 184.35L132.4 184.4" stroke="none" marker-start="url(#mMSESSA)" marker-mid="url(#mMSESSA)" marker-end="url(#mMSESSA)"/></g>
<path d="M21.2 119.7V207.7H133.3" fill="none" stroke="#6a6a6a" stroke-width="0.55"/>
<path d="M21.2 119.7H133.3V207.7" fill="none" stroke="#999" stroke-width="0.45"/>
<path d="M32.21 207.7v-1.1M32.21 119.7v1.1M43.44 207.7v-1.1M43.44 119.7v1.1M54.67 207.7v-1.1M54.67 119.7v1.1M65.91 207.7v-1.1M65.91 119.7v1.1M77.14 207.7v-1.1M77.14 119.7v1.1M88.37 207.7v-1.1M88.37 119.7v1.1M99.6 207.7v-1.1M99.6 119.7v1.1M110.84 207.7v-1.1M110.84 119.7v1.1M122.07 207.7v-1.1M122.07 119.7v1.1M133.3 207.7v-1.1M133.3 119.7v1.1M21.2 130.2h1.1M133.3 130.2h-1.1M21.2 144.2h1.1M133.3 144.2h-1.1M21.2 159.2h1.1M133.3 159.2h-1.1M21.2 176.5h1.1M133.3 176.5h-1.1M21.2 196.3h1.1M133.3 196.3h-1.1" stroke="#777" stroke-width="0.35" fill="none"/>
<g font-size="3.1" fill="#333" text-anchor="middle"><text x="32.21" y="212.8">50</text><text x="43.44" y="212.8">100</text><text x="54.67" y="212.8">150</text><text x="65.91" y="212.8">200</text><text x="77.14" y="212.8">250</text><text x="88.37" y="212.8">300</text><text x="99.6" y="212.8">350</text><text x="110.84" y="212.8">400</text><text x="122.07" y="212.8">450</text><text x="131.8" y="212.8">500</text></g>
<g font-size="3.1" fill="#333" text-anchor="end"><text x="19.7" y="131.65">5000</text><text x="19.7" y="145.65">4500</text><text x="19.7" y="160.65">4000</text><text x="19.7" y="177.95">3500</text><text x="19.7" y="197.75">3000</text></g>
<text x="77.25" y="218.1" font-size="3.75" fill="#333" text-anchor="middle">Iteration</text>
<text transform="translate(10.3 163.7) rotate(-90)" font-size="3.8" fill="#333" text-anchor="middle">Fitness function</text>
<text x="77.25" y="117.7" font-size="3.9" fill="#333" text-anchor="middle">C20</text>
<rect x="103.4" y="122.5" width="27.1" height="60.1" fill="#fff" stroke="#777" stroke-width="0.4"/><g font-size="3.05" fill="#333"><path d="M104.5 124.5h10.5" stroke="#9a9aff" stroke-width="0.5"/><text x="116.2" y="125.6">SSA</text><path d="M104.5 128.82h10.5" stroke="#00e800" stroke-width="0.5"/><circle cx="109.75" cy="128.82" r="1.01" fill="#00e800"/><text x="116.2" y="129.92">GWO</text><path d="M104.5 133.13h10.5" stroke="#3a3a4a" stroke-width="0.5"/><text x="116.2" y="134.23">WOA</text><path d="M104.5 137.45h10.5" stroke="#ff00ff" stroke-width="0.5"/><rect x="108.74" y="136.43" width="2.02" height="2.02" fill="#ff00ff"/><text x="116.2" y="138.55">PSO</text><path d="M104.5 141.76h10.5" stroke="#00f4f4" stroke-width="0.5"/><circle cx="109.75" cy="141.76" r="1.06" fill="#00f4f4"/><text x="116.2" y="142.86">ABC</text><path d="M104.5 146.08h10.5" stroke="#000000" stroke-width="0.5"/><rect x="108.91" y="145.24" width="1.67" height="1.67" fill="#000000"/><text x="116.2" y="147.18">FA</text><path d="M104.5 150.39h10.5" stroke="#ffff00" stroke-width="0.5"/><text x="116.2" y="151.49">QMESSA</text><path d="M104.5 154.71h10.5" stroke="#3535ff" stroke-width="0.5"/><path d="M108.21 154.71L109.75 153.17L111.29 154.71L109.75 156.25Z" fill="#9a9aff" stroke="#3535ff" stroke-width="0.4"/><text x="116.2" y="155.81">LSSA</text><path d="M104.5 159.02h10.5" stroke="#2cff2c" stroke-width="0.5"/><rect x="108.47" y="157.75" width="2.55" height="2.55" fill="#9dff9d" stroke="#2cff2c" stroke-width="0.4"/><text x="116.2" y="160.12">AGWO</text><path d="M104.5 163.34h10.5" stroke="#ff3010" stroke-width="0.5"/><text x="116.2" y="164.44">IWOA</text><path d="M104.5 167.65h10.5" stroke="#ff00ff" stroke-width="0.5"/><circle cx="109.75" cy="167.65" r="0.88" fill="#ff00ff"/><text x="116.2" y="168.75">VPPSO</text><path d="M104.5 171.97h10.5" stroke="#ffee00" stroke-width="0.5"/><circle cx="109.75" cy="171.97" r="1.01" fill="#ffee00"/><text x="116.2" y="173.07">NABC</text><path d="M104.5 176.28h10.5" stroke="#00ffff" stroke-width="0.5"/><rect x="108.69" y="175.23" width="2.11" height="2.11" fill="#00ffff"/><text x="116.2" y="177.38">MSEFA</text><path d="M104.5 180.6h10.5" stroke="#ff0000" stroke-width="0.5"/><rect x="108.74" y="179.59" width="2.02" height="2.02" fill="#ff0000"/><text x="116.2" y="181.7">MSESSA</text></g>
</g>
<g>
<clipPath id="c4"><rect x="184.45" y="118.4" width="114.7" height="90.6"/></clipPath>
<g clip-path="url(#c4)" fill="none" stroke-width="0.5" stroke-linejoin="round"><path d="M185.75 151.58L194.3 181.64L202.86 186.65L211.41 189.16L219.97 190.41L228.52 191.16L237.07 191.66L245.63 191.74L254.18 191.81L262.73 191.88L271.29 191.95L279.84 192.02L288.4 192.09L296.95 192.17L297.85 192.17" stroke="#9a9aff"/><path d="M185.75 150.33L194.3 185.4L202.86 187.91L211.41 189.16L219.97 189.91L228.52 190.66L237.07 191.41L245.63 192.42L254.18 193.67L262.73 195.42L271.29 197.93L279.84 200.68L288.4 204.19L296.95 207.45L297.85 207.77" stroke="#00e800"/><path d="M185.75 150.33L194.3 185.4L202.86 187.91L211.41 189.16L219.97 189.91L228.52 190.66L237.07 191.41L245.63 192.42L254.18 193.67L262.73 195.42L271.29 197.93L279.84 200.68L288.4 204.19L296.95 207.45" stroke="none" marker-start="url(#mGWO)" marker-mid="url(#mGWO)" marker-end="url(#mGWO)"/><path d="M185.75 151.58L194.3 171.62L202.86 175.38L211.41 177.89L219.97 179.14L228.52 179.64L237.07 180.14L245.63 180.39L254.18 180.43L262.73 180.47L271.29 180.52L279.84 180.56L288.4 180.6L296.95 180.64L297.85 180.65" stroke="#3a3a4a"/><path d="M185.75 119.51L194.3 141.56L202.86 158.59L211.41 167.86L219.97 173.63L228.52 177.13L237.07 179.14L245.63 180.39L254.18 181.14L262.73 181.64L271.29 182.14L279.84 182.65L288.4 183.15L296.95 184.15L297.85 184.25" stroke="#ff00ff"/><path d="M185.75 119.51L194.3 141.56L202.86 158.59L211.41 167.86L219.97 173.63L228.52 177.13L237.07 179.14L245.63 180.39L254.18 181.14L262.73 181.64L271.29 182.14L279.84 182.65L288.4 183.15L296.95 184.15" stroke="none" marker-start="url(#mPSO)" marker-mid="url(#mPSO)" marker-end="url(#mPSO)"/><path d="M185.75 151.58L194.3 180.39L202.86 183.65L211.41 185.4L219.97 186.15L228.52 186.65L237.07 187.15L245.63 187.66L254.18 188.16L262.73 188.66L271.29 189.16L279.84 189.66L288.4 190.41L296.95 191.66L297.85 191.79" stroke="#00f4f4"/><path d="M185.75 151.58L194.3 180.39L202.86 183.65L211.41 185.4L219.97 186.15L228.52 186.65L237.07 187.15L245.63 187.66L254.18 188.16L262.73 188.66L271.29 189.16L279.84 189.66L288.4 190.41L296.95 191.66" stroke="none" marker-start="url(#mABC)" marker-mid="url(#mABC)" marker-end="url(#mABC)"/><path d="M185.75 169.62L194.3 177.89L202.86 178.64L211.41 179.14L219.97 179.39L228.52 179.64L237.07 179.89L245.63 179.96L254.18 180.03L262.73 180.1L271.29 180.18L279.84 180.25L288.4 180.32L296.95 180.39L297.85 180.4" stroke="#000000"/><path d="M185.75 169.62L194.3 177.89L202.86 178.64L211.41 179.14L219.97 179.39L228.52 179.64L237.07 179.89L245.63 179.96L254.18 180.03L262.73 180.1L271.29 180.18L279.84 180.25L288.4 180.32L296.95 180.39" stroke="none" marker-start="url(#mFA)" marker-mid="url(#mFA)" marker-end="url(#mFA)"/><path d="M185.75 139.05L194.3 189.16L202.86 193.67L211.41 196.68L219.97 198.68L228.52 199.93L237.07 200.93L245.63 201.69L254.18 201.77L262.73 201.85L271.29 201.94L279.84 202.02L288.4 202.1L296.95 202.19L297.85 202.2" stroke="#ffff00"/><path d="M185.75 151.58L194.3 171.62L202.86 176.63L211.41 180.39L219.97 183.65L228.52 186.15L237.07 188.16L245.63 189.91L254.18 191.16L262.73 192.42L271.29 193.17L279.84 193.92L288.4 194.42L296.95 194.92L297.85 194.97" stroke="#3535ff"/><path d="M185.75 151.58L194.3 171.62L202.86 176.63L211.41 180.39L219.97 183.65L228.52 186.15L237.07 188.16L245.63 189.91L254.18 191.16L262.73 192.42L271.29 193.17L279.84 193.92L288.4 194.42L296.95 194.92" stroke="none" marker-start="url(#mLSSA)" marker-mid="url(#mLSSA)" marker-end="url(#mLSSA)"/><path d="M185.75 152.83L194.3 182.14L202.86 183.65L211.41 184.4L219.97 184.65L228.52 184.9L237.07 185.03L245.63 185.15L254.18 185.28L262.73 185.4L271.29 185.53L279.84 185.65L288.4 185.78L296.95 185.9L297.85 185.91" stroke="#2cff2c"/><path d="M185.75 152.83L194.3 182.14L202.86 183.65L211.41 184.4L219.97 184.65L228.52 184.9L237.07 185.03L245.63 185.15L254.18 185.28L262.73 185.4L271.29 185.53L279.84 185.65L288.4 185.78L296.95 185.9" stroke="none" marker-start="url(#mAGWO)" marker-mid="url(#mAGWO)" marker-end="url(#mAGWO)"/><path d="M185.75 152.83L194.3 171.12L202.86 174.88L211.41 177.38L219.97 178.64L228.52 179.39L237.07 179.89L245.63 179.93L254.18 179.96L262.73 180L271.29 180.03L279.84 180.07L288.4 180.1L296.95 180.14L297.85 180.14" stroke="#ff3010"/><path d="M185.75 151.58L194.3 180.39L202.86 182.14L211.41 183.65L219.97 186.65L228.52 194.17L237.07 198.68L245.63 199.68L254.18 200.18L262.73 200.43L271.29 200.5L279.84 200.56L288.4 200.62L296.95 200.68L297.85 200.69" stroke="#ff00ff"/><path d="M185.75 151.58L194.3 180.39L202.86 182.14L211.41 183.65L219.97 186.65L228.52 194.17L237.07 198.68L245.63 199.68L254.18 200.18L262.73 200.43L271.29 200.5L279.84 200.56L288.4 200.62L296.95 200.68" stroke="none" marker-start="url(#mVPPSO)" marker-mid="url(#mVPPSO)" marker-end="url(#mVPPSO)"/><path d="M185.75 146.57L194.3 186.65L202.86 190.41L211.41 193.67L219.97 195.67L228.52 197.18L237.07 198.43L245.63 199.43L254.18 200.18L262.73 200.68L271.29 200.93L279.84 201.18L288.4 201.44L296.95 201.69L297.85 201.71" stroke="#ffee00"/><path d="M185.75 146.57L194.3 186.65L202.86 190.41L211.41 193.67L219.97 195.67L228.52 197.18L237.07 198.43L245.63 199.43L254.18 200.18L262.73 200.68L271.29 200.93L279.84 201.18L288.4 201.44L296.95 201.69" stroke="none" marker-start="url(#mNABC)" marker-mid="url(#mNABC)" marker-end="url(#mNABC)"/><path d="M185.75 154.08L194.3 184.15L202.86 188.66L211.41 191.16L219.97 192.42L228.52 193.67L237.07 194.42L245.63 195.17L254.18 195.92L262.73 196.42L271.29 196.93L279.84 197.43L288.4 197.93L296.95 198.68L297.85 198.75" stroke="#00ffff"/><path d="M185.75 154.08L194.3 184.15L202.86 188.66L211.41 191.16L219.97 192.42L228.52 193.67L237.07 194.42L245.63 195.17L254.18 195.92L262.73 196.42L271.29 196.93L279.84 197.43L288.4 197.93L296.95 198.68" stroke="none" marker-start="url(#mMSEFA)" marker-mid="url(#mMSEFA)" marker-end="url(#mMSEFA)"/><path d="M185.75 162.85L194.3 194.67L202.86 201.18L211.41 202.44L219.97 202.94L228.52 203.19L237.07 203.22L245.63 203.25L254.18 203.28L262.73 203.31L271.29 203.35L279.84 203.38L288.4 203.41L296.95 203.44L297.85 203.44" stroke="#ff0000"/><path d="M185.75 162.85L194.3 194.67L202.86 201.18L211.41 202.44L219.97 202.94L228.52 203.19L237.07 203.22L245.63 203.25L254.18 203.28L262.73 203.31L271.29 203.35L279.84 203.38L288.4 203.41L296.95 203.44" stroke="none" marker-start="url(#mMSESSA)" marker-mid="url(#mMSESSA)" marker-end="url(#mMSESSA)"/></g>
<path d="M185.75 119.7V207.7H297.85" fill="none" stroke="#6a6a6a" stroke-width="0.55"/>
<path d="M185.75 119.7H297.85V207.7" fill="none" stroke="#999" stroke-width="0.45"/>
<path d="M196.76 207.7v-1.1M196.76 119.7v1.1M207.99 207.7v-1.1M207.99 119.7v1.1M219.22 207.7v-1.1M219.22 119.7v1.1M230.46 207.7v-1.1M230.46 119.7v1.1M241.69 207.7v-1.1M241.69 119.7v1.1M252.92 207.7v-1.1M252.92 119.7v1.1M264.15 207.7v-1.1M264.15 119.7v1.1M275.39 207.7v-1.1M275.39 119.7v1.1M286.62 207.7v-1.1M286.62 119.7v1.1M297.85 207.7v-1.1M297.85 119.7v1.1M185.75 127.4h1.1M297.85 127.4h-1.1M185.75 149.8h1.1M297.85 149.8h-1.1M185.75 175.8h1.1M297.85 175.8h-1.1M185.75 206.6h1.1M297.85 206.6h-1.1" stroke="#777" stroke-width="0.35" fill="none"/>
<g font-size="3.1" fill="#333" text-anchor="middle"><text x="196.76" y="212.8">50</text><text x="207.99" y="212.8">100</text><text x="219.22" y="212.8">150</text><text x="230.46" y="212.8">200</text><text x="241.69" y="212.8">250</text><text x="252.92" y="212.8">300</text><text x="264.15" y="212.8">350</text><text x="275.39" y="212.8">400</text><text x="286.62" y="212.8">450</text><text x="296.35" y="212.8">500</text></g>
<g font-size="3.1" fill="#333" text-anchor="end"><text x="184.25" y="128.85">4000</text><text x="184.25" y="151.25">3500</text><text x="184.25" y="177.25">3000</text><text x="184.25" y="208.05">2500</text></g>
<text x="241.8" y="218.1" font-size="3.75" fill="#333" text-anchor="middle">Iteration</text>
<text transform="translate(174.9 163.7) rotate(-90)" font-size="3.8" fill="#333" text-anchor="middle">Fitness function</text>
<text x="241.8" y="117.7" font-size="3.9" fill="#333" text-anchor="middle">C21</text>
<rect x="267.95" y="122.5" width="27.1" height="60.1" fill="#fff" stroke="#777" stroke-width="0.4"/><g font-size="3.05" fill="#333"><path d="M269.05 124.5h10.5" stroke="#9a9aff" stroke-width="0.5"/><text x="280.75" y="125.6">SSA</text><path d="M269.05 128.82h10.5" stroke="#00e800" stroke-width="0.5"/><circle cx="274.3" cy="128.82" r="1.01" fill="#00e800"/><text x="280.75" y="129.92">GWO</text><path d="M269.05 133.13h10.5" stroke="#3a3a4a" stroke-width="0.5"/><text x="280.75" y="134.23">WOA</text><path d="M269.05 137.45h10.5" stroke="#ff00ff" stroke-width="0.5"/><rect x="273.29" y="136.43" width="2.02" height="2.02" fill="#ff00ff"/><text x="280.75" y="138.55">PSO</text><path d="M269.05 141.76h10.5" stroke="#00f4f4" stroke-width="0.5"/><circle cx="274.3" cy="141.76" r="1.06" fill="#00f4f4"/><text x="280.75" y="142.86">ABC</text><path d="M269.05 146.08h10.5" stroke="#000000" stroke-width="0.5"/><rect x="273.46" y="145.24" width="1.67" height="1.67" fill="#000000"/><text x="280.75" y="147.18">FA</text><path d="M269.05 150.39h10.5" stroke="#ffff00" stroke-width="0.5"/><text x="280.75" y="151.49">QMESSA</text><path d="M269.05 154.71h10.5" stroke="#3535ff" stroke-width="0.5"/><path d="M272.76 154.71L274.3 153.17L275.84 154.71L274.3 156.25Z" fill="#9a9aff" stroke="#3535ff" stroke-width="0.4"/><text x="280.75" y="155.81">LSSA</text><path d="M269.05 159.02h10.5" stroke="#2cff2c" stroke-width="0.5"/><rect x="273.02" y="157.75" width="2.55" height="2.55" fill="#9dff9d" stroke="#2cff2c" stroke-width="0.4"/><text x="280.75" y="160.12">AGWO</text><path d="M269.05 163.34h10.5" stroke="#ff3010" stroke-width="0.5"/><text x="280.75" y="164.44">IWOA</text><path d="M269.05 167.65h10.5" stroke="#ff00ff" stroke-width="0.5"/><circle cx="274.3" cy="167.65" r="0.88" fill="#ff00ff"/><text x="280.75" y="168.75">VPPSO</text><path d="M269.05 171.97h10.5" stroke="#ffee00" stroke-width="0.5"/><circle cx="274.3" cy="171.97" r="1.01" fill="#ffee00"/><text x="280.75" y="173.07">NABC</text><path d="M269.05 176.28h10.5" stroke="#00ffff" stroke-width="0.5"/><rect x="273.24" y="175.23" width="2.11" height="2.11" fill="#00ffff"/><text x="280.75" y="177.38">MSEFA</text><path d="M269.05 180.6h10.5" stroke="#ff0000" stroke-width="0.5"/><rect x="273.29" y="179.59" width="2.02" height="2.02" fill="#ff0000"/><text x="280.75" y="181.7">MSESSA</text></g>
</g>
<g>
<clipPath id="c5"><rect x="349" y="118.4" width="114.7" height="90.6"/></clipPath>
<g clip-path="url(#c5)" fill="none" stroke-width="0.5" stroke-linejoin="round"><path d="M350.3 124.02L358.85 139.05L367.41 145.32L375.96 148.57L384.52 150.33L393.07 151.08L401.62 151.58L410.18 151.62L418.73 151.65L427.28 151.69L435.84 151.72L444.39 151.76L452.95 151.79L461.5 151.83L462.4 151.83" stroke="#9a9aff"/><path d="M350.3 121.52L358.85 126.03L367.41 127.78L375.96 129.03L384.52 129.78L393.07 130.54L401.62 131.29L410.18 132.04L418.73 132.79L427.28 133.29L435.84 133.54L444.39 133.79L452.95 134.04L461.5 134.54L462.4 134.59" stroke="#00e800"/><path d="M350.3 121.52L358.85 126.03L367.41 127.78L375.96 129.03L384.52 129.78L393.07 130.54L401.62 131.29L410.18 132.04L418.73 132.79L427.28 133.29L435.84 133.54L444.39 133.79L452.95 134.04L461.5 134.54" stroke="none" marker-start="url(#mGWO)" marker-mid="url(#mGWO)" marker-end="url(#mGWO)"/><path d="M350.3 122.77L358.85 130.28L367.41 132.79L375.96 134.54L384.52 136.05L393.07 137.05L401.62 137.8L410.18 138.3L418.73 138.34L427.28 138.38L435.84 138.43L444.39 138.47L452.95 138.51L461.5 138.55L462.4 138.56" stroke="#3a3a4a"/><path d="M350.3 122.77L358.85 127.78L367.41 129.78L375.96 131.54L384.52 134.04L393.07 136.55L401.62 137.3L410.18 137.8L418.73 137.84L427.28 137.88L435.84 137.93L444.39 137.97L452.95 138.01L461.5 138.05L462.4 138.06" stroke="#ff00ff"/><path d="M350.3 122.77L358.85 127.78L367.41 129.78L375.96 131.54L384.52 134.04L393.07 136.55L401.62 137.3L410.18 137.8L418.73 137.84L427.28 137.88L435.84 137.93L444.39 137.97L452.95 138.01L461.5 138.05" stroke="none" marker-start="url(#mPSO)" marker-mid="url(#mPSO)" marker-end="url(#mPSO)"/><path d="M350.3 121.52L358.85 129.03L367.41 135.3L375.96 141.56L384.52 145.32L393.07 147.82L401.62 149.58L410.18 150.58L418.73 151.08L427.28 151.58L435.84 151.64L444.39 151.7L452.95 151.77L461.5 151.83L462.4 151.84" stroke="#00f4f4"/><path d="M350.3 121.52L358.85 129.03L367.41 135.3L375.96 141.56L384.52 145.32L393.07 147.82L401.62 149.58L410.18 150.58L418.73 151.08L427.28 151.58L435.84 151.64L444.39 151.7L452.95 151.77L461.5 151.83" stroke="none" marker-start="url(#mABC)" marker-mid="url(#mABC)" marker-end="url(#mABC)"/><path d="M350.3 122.77L358.85 129.53L367.41 131.04L375.96 132.29L384.52 134.04L393.07 136.55L401.62 137.55L410.18 138.05L418.73 138.3L427.28 138.35L435.84 138.4L444.39 138.45L452.95 138.5L461.5 138.55L462.4 138.56" stroke="#000000"/><path d="M350.3 122.77L358.85 129.53L367.41 131.04L375.96 132.29L384.52 134.04L393.07 136.55L401.62 137.55L410.18 138.05L418.73 138.3L427.28 138.35L435.84 138.4L444.39 138.45L452.95 138.5L461.5 138.55" stroke="none" marker-start="url(#mFA)" marker-mid="url(#mFA)" marker-end="url(#mFA)"/><path d="M350.3 124.02L358.85 141.56L367.41 146.57L375.96 149.07L384.52 150.58L393.07 151.58L401.62 152.33L410.18 152.44L418.73 152.55L427.28 152.65L435.84 152.76L444.39 152.87L452.95 152.98L461.5 153.08L462.4 153.09" stroke="#ffff00"/><path d="M350.3 121.52L358.85 125.27L367.41 127.03L375.96 129.03L384.52 131.04L393.07 133.54L401.62 137.05L410.18 140.31L418.73 142.81L427.28 144.56L435.84 146.07L444.39 147.32L452.95 148.32L461.5 149.07L462.4 149.15" stroke="#3535ff"/><path d="M350.3 121.52L358.85 125.27L367.41 127.03L375.96 129.03L384.52 131.04L393.07 133.54L401.62 137.05L410.18 140.31L418.73 142.81L427.28 144.56L435.84 146.07L444.39 147.32L452.95 148.32L461.5 149.07" stroke="none" marker-start="url(#mLSSA)" marker-mid="url(#mLSSA)" marker-end="url(#mLSSA)"/><path d="M350.3 122.02L358.85 127.78L367.41 129.53L375.96 130.54L384.52 131.54L393.07 132.29L401.62 133.04L410.18 133.79L418.73 134.54L427.28 135.04L435.84 135.55L444.39 135.8L452.95 136.05L461.5 136.55L462.4 136.6" stroke="#2cff2c"/><path d="M350.3 122.02L358.85 127.78L367.41 129.53L375.96 130.54L384.52 131.54L393.07 132.29L401.62 133.04L410.18 133.79L418.73 134.54L427.28 135.04L435.84 135.55L444.39 135.8L452.95 136.05L461.5 136.55" stroke="none" marker-start="url(#mAGWO)" marker-mid="url(#mAGWO)" marker-end="url(#mAGWO)"/><path d="M350.3 123.52L358.85 131.54L367.41 134.04L375.96 136.05L384.52 137.05L393.07 137.8L401.62 138.55L410.18 138.59L418.73 138.62L427.28 138.66L435.84 138.7L444.39 138.73L452.95 138.77L461.5 138.8L462.4 138.81" stroke="#ff3010"/><path d="M350.3 124.02L358.85 129.53L367.41 131.54L375.96 133.54L384.52 137.8L393.07 145.32L401.62 152.08L410.18 155.34L418.73 157.09L427.28 157.84L435.84 158.34L444.39 158.43L452.95 158.51L461.5 158.59L462.4 158.6" stroke="#ff00ff"/><path d="M350.3 124.02L358.85 129.53L367.41 131.54L375.96 133.54L384.52 137.8L393.07 145.32L401.62 152.08L410.18 155.34L418.73 157.09L427.28 157.84L435.84 158.34L444.39 158.43L452.95 158.51L461.5 158.59" stroke="none" marker-start="url(#mVPPSO)" marker-mid="url(#mVPPSO)" marker-end="url(#mVPPSO)"/><path d="M350.3 122.77L358.85 132.79L367.41 140.31L375.96 144.56L384.52 147.82L393.07 150.33L401.62 152.08L410.18 153.58L418.73 155.34L427.28 156.59L435.84 157.84L444.39 159.1L452.95 159.85L461.5 160.6L462.4 160.67" stroke="#ffee00"/><path d="M350.3 122.77L358.85 132.79L367.41 140.31L375.96 144.56L384.52 147.82L393.07 150.33L401.62 152.08L410.18 153.58L418.73 155.34L427.28 156.59L435.84 157.84L444.39 159.1L452.95 159.85L461.5 160.6" stroke="none" marker-start="url(#mNABC)" marker-mid="url(#mNABC)" marker-end="url(#mNABC)"/><path d="M350.3 122.77L358.85 134.04L367.41 151.58L375.96 173.63L384.52 185.4L393.07 190.41L401.62 193.67L410.18 196.68L418.73 199.18L427.28 200.93L435.84 202.44L444.39 204.19L452.95 205.94L461.5 207.45L462.4 207.6" stroke="#00ffff"/><path d="M350.3 122.77L358.85 134.04L367.41 151.58L375.96 173.63L384.52 185.4L393.07 190.41L401.62 193.67L410.18 196.68L418.73 199.18L427.28 200.93L435.84 202.44L444.39 204.19L452.95 205.94L461.5 207.45" stroke="none" marker-start="url(#mMSEFA)" marker-mid="url(#mMSEFA)" marker-end="url(#mMSEFA)"/><path d="M350.3 124.02L358.85 147.07L367.41 155.34L375.96 158.34L384.52 159.35L393.07 159.85L401.62 160.35L410.18 160.6L418.73 160.68L427.28 160.77L435.84 160.85L444.39 160.93L452.95 161.02L461.5 161.1L462.4 161.11" stroke="#ff0000"/><path d="M350.3 124.02L358.85 147.07L367.41 155.34L375.96 158.34L384.52 159.35L393.07 159.85L401.62 160.35L410.18 160.6L418.73 160.68L427.28 160.77L435.84 160.85L444.39 160.93L452.95 161.02L461.5 161.1" stroke="none" marker-start="url(#mMSESSA)" marker-mid="url(#mMSESSA)" marker-end="url(#mMSESSA)"/></g>
<path d="M350.3 119.7V207.7H462.4" fill="none" stroke="#6a6a6a" stroke-width="0.55"/>
<path d="M350.3 119.7H462.4V207.7" fill="none" stroke="#999" stroke-width="0.45"/>
<path d="M361.31 207.7v-1.1M361.31 119.7v1.1M372.54 207.7v-1.1M372.54 119.7v1.1M383.77 207.7v-1.1M383.77 119.7v1.1M395.01 207.7v-1.1M395.01 119.7v1.1M406.24 207.7v-1.1M406.24 119.7v1.1M417.47 207.7v-1.1M417.47 119.7v1.1M428.7 207.7v-1.1M428.7 119.7v1.1M439.94 207.7v-1.1M439.94 119.7v1.1M451.17 207.7v-1.1M451.17 119.7v1.1M462.4 207.7v-1.1M462.4 119.7v1.1M350.3 124.8h1.1M462.4 124.8h-1.1M350.3 130.2h1.1M462.4 130.2h-1.1M350.3 136.4h1.1M462.4 136.4h-1.1M350.3 143.8h1.1M462.4 143.8h-1.1M350.3 152.4h1.1M462.4 152.4h-1.1M350.3 163.4h1.1M462.4 163.4h-1.1M350.3 177.2h1.1M462.4 177.2h-1.1M350.3 196.8h1.1M462.4 196.8h-1.1" stroke="#777" stroke-width="0.35" fill="none"/>
<g font-size="3.1" fill="#333" text-anchor="middle"><text x="361.31" y="212.8">50</text><text x="372.54" y="212.8">100</text><text x="383.77" y="212.8">150</text><text x="395.01" y="212.8">200</text><text x="406.24" y="212.8">250</text><text x="417.47" y="212.8">300</text><text x="428.7" y="212.8">350</text><text x="439.94" y="212.8">400</text><text x="451.17" y="212.8">450</text><text x="460.9" y="212.8">500</text></g>
<g font-size="3.1" fill="#333" text-anchor="end"><text x="348.8" y="126.25">1.8</text><text x="348.8" y="131.65">1.6</text><text x="348.8" y="137.85">1.4</text><text x="348.8" y="145.25">1.2</text><text x="348.8" y="153.85">1</text><text x="348.8" y="164.85">0.8</text><text x="348.8" y="178.65">0.6</text><text x="348.8" y="198.25">0.4</text></g>
<text x="352.9" y="118.7" font-size="3.1" fill="#333">×10<tspan font-size="2.2" dy="-1.3">4</tspan></text>
<text x="406.35" y="218.1" font-size="3.75" fill="#333" text-anchor="middle">Iteration</text>
<text transform="translate(341.9 163.7) rotate(-90)" font-size="3.8" fill="#333" text-anchor="middle">Fitness function</text>
<text x="406.35" y="117.7" font-size="3.9" fill="#333" text-anchor="middle">C22</text>
<rect x="432.5" y="122.5" width="27.1" height="60.1" fill="#fff" stroke="#777" stroke-width="0.4"/><g font-size="3.05" fill="#333"><path d="M433.6 124.5h10.5" stroke="#9a9aff" stroke-width="0.5"/><text x="445.3" y="125.6">SSA</text><path d="M433.6 128.82h10.5" stroke="#00e800" stroke-width="0.5"/><circle cx="438.85" cy="128.82" r="1.01" fill="#00e800"/><text x="445.3" y="129.92">GWO</text><path d="M433.6 133.13h10.5" stroke="#3a3a4a" stroke-width="0.5"/><text x="445.3" y="134.23">WOA</text><path d="M433.6 137.45h10.5" stroke="#ff00ff" stroke-width="0.5"/><rect x="437.84" y="136.43" width="2.02" height="2.02" fill="#ff00ff"/><text x="445.3" y="138.55">PSO</text><path d="M433.6 141.76h10.5" stroke="#00f4f4" stroke-width="0.5"/><circle cx="438.85" cy="141.76" r="1.06" fill="#00f4f4"/><text x="445.3" y="142.86">ABC</text><path d="M433.6 146.08h10.5" stroke="#000000" stroke-width="0.5"/><rect x="438.01" y="145.24" width="1.67" height="1.67" fill="#000000"/><text x="445.3" y="147.18">FA</text><path d="M433.6 150.39h10.5" stroke="#ffff00" stroke-width="0.5"/><text x="445.3" y="151.49">QMESSA</text><path d="M433.6 154.71h10.5" stroke="#3535ff" stroke-width="0.5"/><path d="M437.31 154.71L438.85 153.17L440.39 154.71L438.85 156.25Z" fill="#9a9aff" stroke="#3535ff" stroke-width="0.4"/><text x="445.3" y="155.81">LSSA</text><path d="M433.6 159.02h10.5" stroke="#2cff2c" stroke-width="0.5"/><rect x="437.57" y="157.75" width="2.55" height="2.55" fill="#9dff9d" stroke="#2cff2c" stroke-width="0.4"/><text x="445.3" y="160.12">AGWO</text><path d="M433.6 163.34h10.5" stroke="#ff3010" stroke-width="0.5"/><text x="445.3" y="164.44">IWOA</text><path d="M433.6 167.65h10.5" stroke="#ff00ff" stroke-width="0.5"/><circle cx="438.85" cy="167.65" r="0.88" fill="#ff00ff"/><text x="445.3" y="168.75">VPPSO</text><path d="M433.6 171.97h10.5" stroke="#ffee00" stroke-width="0.5"/><circle cx="438.85" cy="171.97" r="1.01" fill="#ffee00"/><text x="445.3" y="173.07">NABC</text><path d="M433.6 176.28h10.5" stroke="#00ffff" stroke-width="0.5"/><rect x="437.79" y="175.23" width="2.11" height="2.11" fill="#00ffff"/><text x="445.3" y="177.38">MSEFA</text><path d="M433.6 180.6h10.5" stroke="#ff0000" stroke-width="0.5"/><rect x="437.84" y="179.59" width="2.02" height="2.02" fill="#ff0000"/><text x="445.3" y="181.7">MSESSA</text></g>
</g>
<g>
<clipPath id="c6"><rect x="19.9" y="227.5" width="114.7" height="90.6"/></clipPath>
<g clip-path="url(#c6)" fill="none" stroke-width="0.5" stroke-linejoin="round"><path d="M21.2 276.86L29.75 302.67L38.31 303.67L46.86 304.42L55.42 304.92L63.97 305.01L72.52 305.09L81.08 305.17L89.63 305.26L98.18 305.34L106.74 305.42L115.29 305.51L123.85 305.59L132.4 305.68L133.3 305.68" stroke="#9a9aff"/><path d="M21.2 273.11L29.75 299.41L38.31 301.17L46.86 301.92L55.42 302.42L63.97 302.67L72.52 302.73L81.08 302.79L89.63 302.86L98.18 302.92L106.74 302.98L115.29 303.04L123.85 303.11L132.4 303.17L133.3 303.18" stroke="#00e800"/><path d="M21.2 273.11L29.75 299.41L38.31 301.17L46.86 301.92L55.42 302.42L63.97 302.67L72.52 302.73L81.08 302.79L89.63 302.86L98.18 302.92L106.74 302.98L115.29 303.04L123.85 303.11L132.4 303.17" stroke="none" marker-start="url(#mGWO)" marker-mid="url(#mGWO)" marker-end="url(#mGWO)"/><path d="M21.2 276.86L29.75 295.65L38.31 297.16L46.86 297.91L55.42 298.16L63.97 298.19L72.52 298.21L81.08 298.24L89.63 298.27L98.18 298.3L106.74 298.33L115.29 298.35L123.85 298.38L132.4 298.41L133.3 298.41" stroke="#3a3a4a"/><path d="M21.2 228.51L29.75 248.05L38.31 255.07L46.86 258.83L55.42 260.83L63.97 262.08L72.52 262.83L81.08 263.34L89.63 263.59L98.18 263.84L106.74 264.09L115.29 264.17L123.85 264.25L132.4 264.34L133.3 264.35" stroke="#ff00ff"/><path d="M21.2 228.51L29.75 248.05L38.31 255.07L46.86 258.83L55.42 260.83L63.97 262.08L72.52 262.83L81.08 263.34L89.63 263.59L98.18 263.84L106.74 264.09L115.29 264.17L123.85 264.25L132.4 264.34" stroke="none" marker-start="url(#mPSO)" marker-mid="url(#mPSO)" marker-end="url(#mPSO)"/><path d="M21.2 273.11L29.75 290.64L38.31 298.16L46.86 302.67L55.42 305.68L63.97 307.68L72.52 308.93L81.08 309.93L89.63 310.69L98.18 311.19L106.74 311.69L115.29 312.19L123.85 312.69L132.4 313.19L133.3 313.24" stroke="#00f4f4"/><path d="M21.2 273.11L29.75 290.64L38.31 298.16L46.86 302.67L55.42 305.68L63.97 307.68L72.52 308.93L81.08 309.93L89.63 310.69L98.18 311.19L106.74 311.69L115.29 312.19L123.85 312.69L132.4 313.19" stroke="none" marker-start="url(#mABC)" marker-mid="url(#mABC)" marker-end="url(#mABC)"/><path d="M21.2 285.63L29.75 295.15L38.31 296.15L46.86 296.91L55.42 297.41L63.97 297.66L72.52 297.91L81.08 297.94L89.63 297.98L98.18 298.02L106.74 298.05L115.29 298.09L123.85 298.12L132.4 298.16L133.3 298.16" stroke="#000000"/><path d="M21.2 285.63L29.75 295.15L38.31 296.15L46.86 296.91L55.42 297.41L63.97 297.66L72.52 297.91L81.08 297.94L89.63 297.98L98.18 298.02L106.74 298.05L115.29 298.09L123.85 298.12L132.4 298.16" stroke="none" marker-start="url(#mFA)" marker-mid="url(#mFA)" marker-end="url(#mFA)"/><path d="M21.2 260.58L29.75 304.42L38.31 308.18L46.86 310.18L55.42 311.19L63.97 311.94L72.52 312.44L81.08 312.51L89.63 312.58L98.18 312.65L106.74 312.73L115.29 312.8L123.85 312.87L132.4 312.94L133.3 312.95" stroke="#ffff00"/><path d="M21.2 275.61L29.75 299.41L38.31 303.17L46.86 305.17L55.42 306.93L63.97 308.18L72.52 308.93L81.08 309.43L89.63 309.93L98.18 310.18L106.74 310.44L115.29 310.69L123.85 310.69L132.4 310.94L133.3 310.96" stroke="#3535ff"/><path d="M21.2 275.61L29.75 299.41L38.31 303.17L46.86 305.17L55.42 306.93L63.97 308.18L72.52 308.93L81.08 309.43L89.63 309.93L98.18 310.18L106.74 310.44L115.29 310.69L123.85 310.69L132.4 310.94" stroke="none" marker-start="url(#mLSSA)" marker-mid="url(#mLSSA)" marker-end="url(#mLSSA)"/><path d="M21.2 274.36L29.75 298.16L38.31 301.92L46.86 303.67L55.42 304.67L63.97 305.17L72.52 305.39L81.08 305.61L89.63 305.83L98.18 306.05L106.74 306.27L115.29 306.49L123.85 306.71L132.4 306.93L133.3 306.95" stroke="#2cff2c"/><path d="M21.2 274.36L29.75 298.16L38.31 301.92L46.86 303.67L55.42 304.67L63.97 305.17L72.52 305.39L81.08 305.61L89.63 305.83L98.18 306.05L106.74 306.27L115.29 306.49L123.85 306.71L132.4 306.93" stroke="none" marker-start="url(#mAGWO)" marker-mid="url(#mAGWO)" marker-end="url(#mAGWO)"/><path d="M21.2 278.12L29.75 296.15L38.31 297.41L46.86 298.16L55.42 298.41L63.97 298.44L72.52 298.47L81.08 298.49L89.63 298.52L98.18 298.55L106.74 298.58L115.29 298.6L123.85 298.63L132.4 298.66L133.3 298.66" stroke="#ff3010"/><path d="M21.2 280.62L29.75 303.17L38.31 308.18L46.86 310.18L55.42 311.19L63.97 311.94L72.52 312.44L81.08 312.55L89.63 312.65L98.18 312.76L106.74 312.87L115.29 312.98L123.85 313.08L132.4 313.19L133.3 313.2" stroke="#ff00ff"/><path d="M21.2 280.62L29.75 303.17L38.31 308.18L46.86 310.18L55.42 311.19L63.97 311.94L72.52 312.44L81.08 312.55L89.63 312.65L98.18 312.76L106.74 312.87L115.29 312.98L123.85 313.08L132.4 313.19" stroke="none" marker-start="url(#mVPPSO)" marker-mid="url(#mVPPSO)" marker-end="url(#mVPPSO)"/><path d="M21.2 271.85L29.75 305.68L38.31 309.43L46.86 311.19L55.42 312.19L63.97 313.19L72.52 313.69L81.08 314.19L89.63 314.44L98.18 314.69L106.74 314.94L115.29 315.2L123.85 315.7L132.4 316.2L133.3 316.25" stroke="#ffee00"/><path d="M21.2 271.85L29.75 305.68L38.31 309.43L46.86 311.19L55.42 312.19L63.97 313.19L72.52 313.69L81.08 314.19L89.63 314.44L98.18 314.69L106.74 314.94L115.29 315.2L123.85 315.7L132.4 316.2" stroke="none" marker-start="url(#mNABC)" marker-mid="url(#mNABC)" marker-end="url(#mNABC)"/><path d="M21.2 276.86L29.75 300.66L38.31 304.42L46.86 306.93L55.42 308.18L63.97 309.18L72.52 309.93L81.08 310.44L89.63 310.69L98.18 310.94L106.74 311.19L115.29 311.44L123.85 311.69L132.4 311.94L133.3 311.96" stroke="#00ffff"/><path d="M21.2 276.86L29.75 300.66L38.31 304.42L46.86 306.93L55.42 308.18L63.97 309.18L72.52 309.93L81.08 310.44L89.63 310.69L98.18 310.94L106.74 311.19L115.29 311.44L123.85 311.69L132.4 311.94" stroke="none" marker-start="url(#mMSEFA)" marker-mid="url(#mMSEFA)" marker-end="url(#mMSEFA)"/><path d="M21.2 281.87L29.75 308.18L38.31 311.94L46.86 313.19L55.42 313.69L63.97 313.94L72.52 314.01L81.08 314.07L89.63 314.13L98.18 314.19L106.74 314.26L115.29 314.32L123.85 314.38L132.4 314.44L133.3 314.45" stroke="#ff0000"/><path d="M21.2 281.87L29.75 308.18L38.31 311.94L46.86 313.19L55.42 313.69L63.97 313.94L72.52 314.01L81.08 314.07L89.63 314.13L98.18 314.19L106.74 314.26L115.29 314.32L123.85 314.38L132.4 314.44" stroke="none" marker-start="url(#mMSESSA)" marker-mid="url(#mMSESSA)" marker-end="url(#mMSESSA)"/></g>
<path d="M21.2 228.8V316.8H133.3" fill="none" stroke="#6a6a6a" stroke-width="0.55"/>
<path d="M21.2 228.8H133.3V316.8" fill="none" stroke="#999" stroke-width="0.45"/>
<path d="M32.21 316.8v-1.1M32.21 228.8v1.1M43.44 316.8v-1.1M43.44 228.8v1.1M54.67 316.8v-1.1M54.67 228.8v1.1M65.91 316.8v-1.1M65.91 228.8v1.1M77.14 316.8v-1.1M77.14 228.8v1.1M88.37 316.8v-1.1M88.37 228.8v1.1M99.6 316.8v-1.1M99.6 228.8v1.1M110.84 316.8v-1.1M110.84 228.8v1.1M122.07 316.8v-1.1M122.07 228.8v1.1M133.3 316.8v-1.1M133.3 228.8v1.1M21.2 235.4h1.1M133.3 235.4h-1.1M21.2 246.4h1.1M133.3 246.4h-1.1M21.2 259.2h1.1M133.3 259.2h-1.1M21.2 274.2h1.1M133.3 274.2h-1.1M21.2 292.8h1.1M133.3 292.8h-1.1M21.2 316.4h1.1M133.3 316.4h-1.1" stroke="#777" stroke-width="0.35" fill="none"/>
<g font-size="3.1" fill="#333" text-anchor="middle"><text x="32.21" y="321.9">50</text><text x="43.44" y="321.9">100</text><text x="54.67" y="321.9">150</text><text x="65.91" y="321.9">200</text><text x="77.14" y="321.9">250</text><text x="88.37" y="321.9">300</text><text x="99.6" y="321.9">350</text><text x="110.84" y="321.9">400</text><text x="122.07" y="321.9">450</text><text x="131.8" y="321.9">500</text></g>
<g font-size="3.1" fill="#333" text-anchor="end"><text x="19.7" y="236.85">8000</text><text x="19.7" y="247.85">7000</text><text x="19.7" y="260.65">6000</text><text x="19.7" y="275.65">5000</text><text x="19.7" y="294.25">4000</text><text x="19.7" y="317.85">3000</text></g>
<text x="77.25" y="327.2" font-size="3.75" fill="#333" text-anchor="middle">Iteration</text>
<text transform="translate(10.3 272.8) rotate(-90)" font-size="3.8" fill="#333" text-anchor="middle">Fitness function</text>
<text x="77.25" y="226.8" font-size="3.9" fill="#333" text-anchor="middle">C23</text>
<rect x="103.4" y="231.6" width="27.1" height="60.1" fill="#fff" stroke="#777" stroke-width="0.4"/><g font-size="3.05" fill="#333"><path d="M104.5 233.6h10.5" stroke="#9a9aff" stroke-width="0.5"/><text x="116.2" y="234.7">SSA</text><path d="M104.5 237.92h10.5" stroke="#00e800" stroke-width="0.5"/><circle cx="109.75" cy="237.92" r="1.01" fill="#00e800"/><text x="116.2" y="239.02">GWO</text><path d="M104.5 242.23h10.5" stroke="#3a3a4a" stroke-width="0.5"/><text x="116.2" y="243.33">WOA</text><path d="M104.5 246.55h10.5" stroke="#ff00ff" stroke-width="0.5"/><rect x="108.74" y="245.53" width="2.02" height="2.02" fill="#ff00ff"/><text x="116.2" y="247.65">PSO</text><path d="M104.5 250.86h10.5" stroke="#00f4f4" stroke-width="0.5"/><circle cx="109.75" cy="250.86" r="1.06" fill="#00f4f4"/><text x="116.2" y="251.96">ABC</text><path d="M104.5 255.18h10.5" stroke="#000000" stroke-width="0.5"/><rect x="108.91" y="254.34" width="1.67" height="1.67" fill="#000000"/><text x="116.2" y="256.28">FA</text><path d="M104.5 259.49h10.5" stroke="#ffff00" stroke-width="0.5"/><text x="116.2" y="260.59">QMESSA</text><path d="M104.5 263.81h10.5" stroke="#3535ff" stroke-width="0.5"/><path d="M108.21 263.81L109.75 262.27L111.29 263.81L109.75 265.35Z" fill="#9a9aff" stroke="#3535ff" stroke-width="0.4"/><text x="116.2" y="264.91">LSSA</text><path d="M104.5 268.12h10.5" stroke="#2cff2c" stroke-width="0.5"/><rect x="108.47" y="266.85" width="2.55" height="2.55" fill="#9dff9d" stroke="#2cff2c" stroke-width="0.4"/><text x="116.2" y="269.22">AGWO</text><path d="M104.5 272.44h10.5" stroke="#ff3010" stroke-width="0.5"/><text x="116.2" y="273.54">IWOA</text><path d="M104.5 276.75h10.5" stroke="#ff00ff" stroke-width="0.5"/><circle cx="109.75" cy="276.75" r="0.88" fill="#ff00ff"/><text x="116.2" y="277.85">VPPSO</text><path d="M104.5 281.07h10.5" stroke="#ffee00" stroke-width="0.5"/><circle cx="109.75" cy="281.07" r="1.01" fill="#ffee00"/><text x="116.2" y="282.17">NABC</text><path d="M104.5 285.38h10.5" stroke="#00ffff" stroke-width="0.5"/><rect x="108.69" y="284.33" width="2.11" height="2.11" fill="#00ffff"/><text x="116.2" y="286.48">MSEFA</text><path d="M104.5 289.7h10.5" stroke="#ff0000" stroke-width="0.5"/><rect x="108.74" y="288.69" width="2.02" height="2.02" fill="#ff0000"/><text x="116.2" y="290.8">MSESSA</text></g>
</g>
<g>
<clipPath id="c7"><rect x="184.45" y="227.5" width="114.7" height="90.6"/></clipPath>
<g clip-path="url(#c7)" fill="none" stroke-width="0.5" stroke-linejoin="round"><path d="M185.75 266.84L194.3 299.41L202.86 301.92L211.41 302.67L219.97 303.17L228.52 303.2L237.07 303.23L245.63 303.25L254.18 303.28L262.73 303.31L271.29 303.34L279.84 303.36L288.4 303.39L296.95 303.42L297.85 303.42" stroke="#9a9aff"/><path d="M185.75 231.77L194.3 293.15L202.86 294.65L211.41 295.15L219.97 295.4L228.52 295.65L237.07 295.72L245.63 295.78L254.18 295.84L262.73 295.9L271.29 295.97L279.84 296.03L288.4 296.09L296.95 296.15L297.85 296.16" stroke="#00e800"/><path d="M185.75 231.77L194.3 293.15L202.86 294.65L211.41 295.15L219.97 295.4L228.52 295.65L237.07 295.72L245.63 295.78L254.18 295.84L262.73 295.9L271.29 295.97L279.84 296.03L288.4 296.09L296.95 296.15" stroke="none" marker-start="url(#mGWO)" marker-mid="url(#mGWO)" marker-end="url(#mGWO)"/><path d="M185.75 248.05L194.3 290.64L202.86 293.15L211.41 294.4L219.97 295.15L228.52 295.4L237.07 295.43L245.63 295.47L254.18 295.5L262.73 295.53L271.29 295.56L279.84 295.59L288.4 295.62L296.95 295.65L297.85 295.66" stroke="#3a3a4a"/><path d="M185.75 228.51L194.3 235.03L202.86 245.05L211.41 256.07L219.97 266.84L228.52 274.86L237.07 281.12L245.63 285.63L254.18 289.39L262.73 291.9L271.29 293.9L279.84 295.15L288.4 296.15L296.95 297.16L297.85 297.26" stroke="#ff00ff"/><path d="M185.75 228.51L194.3 235.03L202.86 245.05L211.41 256.07L219.97 266.84L228.52 274.86L237.07 281.12L245.63 285.63L254.18 289.39L262.73 291.9L271.29 293.9L279.84 295.15L288.4 296.15L296.95 297.16" stroke="none" marker-start="url(#mPSO)" marker-mid="url(#mPSO)" marker-end="url(#mPSO)"/><path d="M185.75 260.58L194.3 279.37L202.86 286.89L211.41 290.14L219.97 291.9L228.52 293.15L237.07 294.15L245.63 294.9L254.18 295.65L262.73 296.15L271.29 296.66L279.84 297.16L288.4 297.66L296.95 298.16L297.85 298.21" stroke="#00f4f4"/><path d="M185.75 260.58L194.3 279.37L202.86 286.89L211.41 290.14L219.97 291.9L228.52 293.15L237.07 294.15L245.63 294.9L254.18 295.65L262.73 296.15L271.29 296.66L279.84 297.16L288.4 297.66L296.95 298.16" stroke="none" marker-start="url(#mABC)" marker-mid="url(#mABC)" marker-end="url(#mABC)"/><path d="M185.75 271.85L194.3 286.89L202.86 287.64L211.41 288.14L219.97 288.64L228.52 288.89L237.07 289.14L245.63 289.28L254.18 289.43L262.73 289.57L271.29 289.71L279.84 289.86L288.4 290L296.95 290.14L297.85 290.16" stroke="#000000"/><path d="M185.75 271.85L194.3 286.89L202.86 287.64L211.41 288.14L219.97 288.64L228.52 288.89L237.07 289.14L245.63 289.28L254.18 289.43L262.73 289.57L271.29 289.71L279.84 289.86L288.4 290L296.95 290.14" stroke="none" marker-start="url(#mFA)" marker-mid="url(#mFA)" marker-end="url(#mFA)"/><path d="M185.75 253.06L194.3 295.65L202.86 297.66L211.41 298.66L219.97 299.16L228.52 299.22L237.07 299.27L245.63 299.33L254.18 299.38L262.73 299.44L271.29 299.5L279.84 299.55L288.4 299.61L296.95 299.66L297.85 299.67" stroke="#ffff00"/><path d="M185.75 265.59L194.3 299.41L202.86 302.67L211.41 305.17L219.97 306.93L228.52 308.18L237.07 309.18L245.63 309.93L254.18 310.44L262.73 310.69L271.29 310.94L279.84 311.19L288.4 311.19L296.95 311.44L297.85 311.46" stroke="#3535ff"/><path d="M185.75 265.59L194.3 299.41L202.86 302.67L211.41 305.17L219.97 306.93L228.52 308.18L237.07 309.18L245.63 309.93L254.18 310.44L262.73 310.69L271.29 310.94L279.84 311.19L288.4 311.19L296.95 311.44" stroke="none" marker-start="url(#mLSSA)" marker-mid="url(#mLSSA)" marker-end="url(#mLSSA)"/><path d="M185.75 233.02L194.3 298.16L202.86 303.17L211.41 305.68L219.97 307.68L228.52 308.93L237.07 309.93L245.63 310.69L254.18 310.94L262.73 311.04L271.29 311.14L279.84 311.24L288.4 311.34L296.95 311.44L297.85 311.45" stroke="#2cff2c"/><path d="M185.75 233.02L194.3 298.16L202.86 303.17L211.41 305.68L219.97 307.68L228.52 308.93L237.07 309.93L245.63 310.69L254.18 310.94L262.73 311.04L271.29 311.14L279.84 311.24L288.4 311.34L296.95 311.44" stroke="none" marker-start="url(#mAGWO)" marker-mid="url(#mAGWO)" marker-end="url(#mAGWO)"/><path d="M185.75 249.31L194.3 291.14L202.86 293.65L211.41 294.9L219.97 295.65L228.52 295.68L237.07 295.71L245.63 295.74L254.18 295.77L262.73 295.79L271.29 295.82L279.84 295.85L288.4 295.88L296.95 295.9L297.85 295.91" stroke="#ff3010"/><path d="M185.75 259.33L194.3 300.66L202.86 302.67L211.41 304.42L219.97 306.93L228.52 309.43L237.07 311.94L245.63 313.69L254.18 314.69L262.73 315.45L271.29 315.95L279.84 316.2L288.4 316.45L296.95 316.7L297.85 316.72" stroke="#ff00ff"/><path d="M185.75 259.33L194.3 300.66L202.86 302.67L211.41 304.42L219.97 306.93L228.52 309.43L237.07 311.94L245.63 313.69L254.18 314.69L262.73 315.45L271.29 315.95L279.84 316.2L288.4 316.45L296.95 316.7" stroke="none" marker-start="url(#mVPPSO)" marker-mid="url(#mVPPSO)" marker-end="url(#mVPPSO)"/><path d="M185.75 254.32L194.3 300.66L202.86 304.42L211.41 306.93L219.97 308.18L228.52 309.43L237.07 310.18L245.63 310.33L254.18 310.47L262.73 310.61L271.29 310.76L279.84 310.9L288.4 311.04L296.95 311.19L297.85 311.2" stroke="#ffee00"/><path d="M185.75 254.32L194.3 300.66L202.86 304.42L211.41 306.93L219.97 308.18L228.52 309.43L237.07 310.18L245.63 310.33L254.18 310.47L262.73 310.61L271.29 310.76L279.84 310.9L288.4 311.04L296.95 311.19" stroke="none" marker-start="url(#mNABC)" marker-mid="url(#mNABC)" marker-end="url(#mNABC)"/><path d="M185.75 263.08L194.3 295.65L202.86 303.17L211.41 306.93L219.97 308.68L228.52 309.93L237.07 310.69L245.63 311.19L254.18 311.69L262.73 311.99L271.29 312.29L279.84 312.59L288.4 312.89L296.95 313.19L297.85 313.22" stroke="#00ffff"/><path d="M185.75 263.08L194.3 295.65L202.86 303.17L211.41 306.93L219.97 308.68L228.52 309.93L237.07 310.69L245.63 311.19L254.18 311.69L262.73 311.99L271.29 312.29L279.84 312.59L288.4 312.89L296.95 313.19" stroke="none" marker-start="url(#mMSEFA)" marker-mid="url(#mMSEFA)" marker-end="url(#mMSEFA)"/><path d="M185.75 249.31L194.3 305.68L202.86 306.93L211.41 307.68L219.97 308.18L228.52 308.43L237.07 308.68L245.63 308.68L254.18 308.93L262.73 308.93L271.29 309.18L279.84 310.18L288.4 311.19L296.95 311.69L297.85 311.74" stroke="#ff0000"/><path d="M185.75 249.31L194.3 305.68L202.86 306.93L211.41 307.68L219.97 308.18L228.52 308.43L237.07 308.68L245.63 308.68L254.18 308.93L262.73 308.93L271.29 309.18L279.84 310.18L288.4 311.19L296.95 311.69" stroke="none" marker-start="url(#mMSESSA)" marker-mid="url(#mMSESSA)" marker-end="url(#mMSESSA)"/></g>
<path d="M185.75 228.8V316.8H297.85" fill="none" stroke="#6a6a6a" stroke-width="0.55"/>
<path d="M185.75 228.8H297.85V316.8" fill="none" stroke="#999" stroke-width="0.45"/>
<path d="M196.76 316.8v-1.1M196.76 228.8v1.1M207.99 316.8v-1.1M207.99 228.8v1.1M219.22 316.8v-1.1M219.22 228.8v1.1M230.46 316.8v-1.1M230.46 228.8v1.1M241.69 316.8v-1.1M241.69 228.8v1.1M252.92 316.8v-1.1M252.92 228.8v1.1M264.15 316.8v-1.1M264.15 228.8v1.1M275.39 316.8v-1.1M275.39 228.8v1.1M286.62 316.8v-1.1M286.62 228.8v1.1M297.85 316.8v-1.1M297.85 228.8v1.1M185.75 233.4h1.1M297.85 233.4h-1.1M185.75 242.4h1.1M297.85 242.4h-1.1M185.75 252.2h1.1M297.85 252.2h-1.1M185.75 263.4h1.1M297.85 263.4h-1.1M185.75 275.8h1.1M297.85 275.8h-1.1M185.75 288.8h1.1M297.85 288.8h-1.1M185.75 304.4h1.1M297.85 304.4h-1.1" stroke="#777" stroke-width="0.35" fill="none"/>
<g font-size="3.1" fill="#333" text-anchor="middle"><text x="196.76" y="321.9">50</text><text x="207.99" y="321.9">100</text><text x="219.22" y="321.9">150</text><text x="230.46" y="321.9">200</text><text x="241.69" y="321.9">250</text><text x="252.92" y="321.9">300</text><text x="264.15" y="321.9">350</text><text x="275.39" y="321.9">400</text><text x="286.62" y="321.9">450</text><text x="296.35" y="321.9">500</text></g>
<g font-size="3.1" fill="#333" text-anchor="end"><text x="184.25" y="234.85">6500</text><text x="184.25" y="243.85">6000</text><text x="184.25" y="253.65">5500</text><text x="184.25" y="264.85">5000</text><text x="184.25" y="277.25">4500</text><text x="184.25" y="290.25">4000</text><text x="184.25" y="305.85">3500</text></g>
<text x="241.8" y="327.2" font-size="3.75" fill="#333" text-anchor="middle">Iteration</text>
<text transform="translate(174.9 272.8) rotate(-90)" font-size="3.8" fill="#333" text-anchor="middle">Fitness function</text>
<text x="241.8" y="226.8" font-size="3.9" fill="#333" text-anchor="middle">C24</text>
<rect x="267.95" y="231.6" width="27.1" height="60.1" fill="#fff" stroke="#777" stroke-width="0.4"/><g font-size="3.05" fill="#333"><path d="M269.05 233.6h10.5" stroke="#9a9aff" stroke-width="0.5"/><text x="280.75" y="234.7">SSA</text><path d="M269.05 237.92h10.5" stroke="#00e800" stroke-width="0.5"/><circle cx="274.3" cy="237.92" r="1.01" fill="#00e800"/><text x="280.75" y="239.02">GWO</text><path d="M269.05 242.23h10.5" stroke="#3a3a4a" stroke-width="0.5"/><text x="280.75" y="243.33">WOA</text><path d="M269.05 246.55h10.5" stroke="#ff00ff" stroke-width="0.5"/><rect x="273.29" y="245.53" width="2.02" height="2.02" fill="#ff00ff"/><text x="280.75" y="247.65">PSO</text><path d="M269.05 250.86h10.5" stroke="#00f4f4" stroke-width="0.5"/><circle cx="274.3" cy="250.86" r="1.06" fill="#00f4f4"/><text x="280.75" y="251.96">ABC</text><path d="M269.05 255.18h10.5" stroke="#000000" stroke-width="0.5"/><rect x="273.46" y="254.34" width="1.67" height="1.67" fill="#000000"/><text x="280.75" y="256.28">FA</text><path d="M269.05 259.49h10.5" stroke="#ffff00" stroke-width="0.5"/><text x="280.75" y="260.59">QMESSA</text><path d="M269.05 263.81h10.5" stroke="#3535ff" stroke-width="0.5"/><path d="M272.76 263.81L274.3 262.27L275.84 263.81L274.3 265.35Z" fill="#9a9aff" stroke="#3535ff" stroke-width="0.4"/><text x="280.75" y="264.91">LSSA</text><path d="M269.05 268.12h10.5" stroke="#2cff2c" stroke-width="0.5"/><rect x="273.02" y="266.85" width="2.55" height="2.55" fill="#9dff9d" stroke="#2cff2c" stroke-width="0.4"/><text x="280.75" y="269.22">AGWO</text><path d="M269.05 272.44h10.5" stroke="#ff3010" stroke-width="0.5"/><text x="280.75" y="273.54">IWOA</text><path d="M269.05 276.75h10.5" stroke="#ff00ff" stroke-width="0.5"/><circle cx="274.3" cy="276.75" r="0.88" fill="#ff00ff"/><text x="280.75" y="277.85">VPPSO</text><path d="M269.05 281.07h10.5" stroke="#ffee00" stroke-width="0.5"/><circle cx="274.3" cy="281.07" r="1.01" fill="#ffee00"/><text x="280.75" y="282.17">NABC</text><path d="M269.05 285.38h10.5" stroke="#00ffff" stroke-width="0.5"/><rect x="273.24" y="284.33" width="2.11" height="2.11" fill="#00ffff"/><text x="280.75" y="286.48">MSEFA</text><path d="M269.05 289.7h10.5" stroke="#ff0000" stroke-width="0.5"/><rect x="273.29" y="288.69" width="2.02" height="2.02" fill="#ff0000"/><text x="280.75" y="290.8">MSESSA</text></g>
</g>
<g>
<clipPath id="c8"><rect x="349" y="227.5" width="114.7" height="90.6"/></clipPath>
<g clip-path="url(#c8)" fill="none" stroke-width="0.5" stroke-linejoin="round"><path d="M350.3 259.33L358.85 293.15L367.41 303.17L375.96 308.18L384.52 310.69L393.07 311.94L401.62 312.44L410.18 312.48L418.73 312.51L427.28 312.55L435.84 312.58L444.39 312.62L452.95 312.65L461.5 312.69L462.4 312.69" stroke="#9a9aff"/><path d="M350.3 230.52L358.85 295.65L367.41 298.91L375.96 300.16L384.52 300.66L393.07 300.92L401.62 300.98L410.18 301.04L418.73 301.1L427.28 301.17L435.84 301.23L444.39 301.29L452.95 301.35L461.5 301.42L462.4 301.42" stroke="#00e800"/><path d="M350.3 230.52L358.85 295.65L367.41 298.91L375.96 300.16L384.52 300.66L393.07 300.92L401.62 300.98L410.18 301.04L418.73 301.1L427.28 301.17L435.84 301.23L444.39 301.29L452.95 301.35L461.5 301.42" stroke="none" marker-start="url(#mGWO)" marker-mid="url(#mGWO)" marker-end="url(#mGWO)"/><path d="M350.3 229.26L358.85 283.13L367.41 293.15L375.96 300.66L384.52 305.68L393.07 308.18L401.62 309.43L410.18 309.93L418.73 309.98L427.28 310.02L435.84 310.06L444.39 310.1L452.95 310.14L461.5 310.18L462.4 310.19" stroke="#3a3a4a"/><path d="M350.3 239.28L358.85 268.1L367.41 274.36L375.96 280.12L384.52 285.63L393.07 290.14L401.62 293.9L410.18 297.41L418.73 300.16L427.28 302.67L435.84 304.92L444.39 306.93L452.95 308.68L461.5 311.19L462.4 311.44" stroke="#ff00ff"/><path d="M350.3 239.28L358.85 268.1L367.41 274.36L375.96 280.12L384.52 285.63L393.07 290.14L401.62 293.9L410.18 297.41L418.73 300.16L427.28 302.67L435.84 304.92L444.39 306.93L452.95 308.68L461.5 311.19" stroke="none" marker-start="url(#mPSO)" marker-mid="url(#mPSO)" marker-end="url(#mPSO)"/><path d="M350.3 230.52L358.85 248.05L367.41 264.34L375.96 278.12L384.52 289.39L393.07 296.91L401.62 301.92L410.18 305.17L418.73 307.43L427.28 308.93L435.84 309.93L444.39 310.69L452.95 311.19L461.5 311.69L462.4 311.74" stroke="#00f4f4"/><path d="M350.3 230.52L358.85 248.05L367.41 264.34L375.96 278.12L384.52 289.39L393.07 296.91L401.62 301.92L410.18 305.17L418.73 307.43L427.28 308.93L435.84 309.93L444.39 310.69L452.95 311.19L461.5 311.69" stroke="none" marker-start="url(#mABC)" marker-mid="url(#mABC)" marker-end="url(#mABC)"/><path d="M350.3 260.58L358.85 273.86L367.41 275.11L375.96 276.11L384.52 276.86L393.07 277.37L401.62 277.62L410.18 277.87L418.73 278.12L427.28 278.32L435.84 278.52L444.39 278.72L452.95 278.92L461.5 279.12L462.4 279.14" stroke="#000000"/><path d="M350.3 260.58L358.85 273.86L367.41 275.11L375.96 276.11L384.52 276.86L393.07 277.37L401.62 277.62L410.18 277.87L418.73 278.12L427.28 278.32L435.84 278.52L444.39 278.72L452.95 278.92L461.5 279.12" stroke="none" marker-start="url(#mFA)" marker-mid="url(#mFA)" marker-end="url(#mFA)"/><path d="M350.3 229.26L358.85 295.65L367.41 305.68L375.96 310.69L384.52 312.69L393.07 313.69L401.62 314.19L410.18 314.23L418.73 314.26L427.28 314.3L435.84 314.34L444.39 314.37L452.95 314.41L461.5 314.44L462.4 314.45" stroke="#ffff00"/><path d="M350.3 260.08L358.85 283.13L367.41 291.9L375.96 299.41L384.52 304.42L393.07 307.68L401.62 309.43L410.18 310.44L418.73 310.94L427.28 311.19L435.84 311.44L444.39 311.44L452.95 311.44L461.5 311.44L462.4 311.44" stroke="#3535ff"/><path d="M350.3 260.08L358.85 283.13L367.41 291.9L375.96 299.41L384.52 304.42L393.07 307.68L401.62 309.43L410.18 310.44L418.73 310.94L427.28 311.19L435.84 311.44L444.39 311.44L452.95 311.44L461.5 311.44" stroke="none" marker-start="url(#mLSSA)" marker-mid="url(#mLSSA)" marker-end="url(#mLSSA)"/><path d="M350.3 231.77L358.85 304.42L367.41 308.43L375.96 309.93L384.52 310.69L393.07 311.19L401.62 311.28L410.18 311.37L418.73 311.47L427.28 311.56L435.84 311.66L444.39 311.75L452.95 311.84L461.5 311.94L462.4 311.95" stroke="#2cff2c"/><path d="M350.3 231.77L358.85 304.42L367.41 308.43L375.96 309.93L384.52 310.69L393.07 311.19L401.62 311.28L410.18 311.37L418.73 311.47L427.28 311.56L435.84 311.66L444.39 311.75L452.95 311.84L461.5 311.94" stroke="none" marker-start="url(#mAGWO)" marker-mid="url(#mAGWO)" marker-end="url(#mAGWO)"/><path d="M350.3 230.01L358.85 284.38L367.41 294.4L375.96 301.92L384.52 306.43L393.07 308.93L401.62 309.93L410.18 310.44L418.73 310.48L427.28 310.52L435.84 310.56L444.39 310.6L452.95 310.64L461.5 310.69L462.4 310.69" stroke="#ff3010"/><path d="M350.3 260.58L358.85 290.64L367.41 298.16L375.96 303.17L384.52 306.93L393.07 309.43L401.62 310.69L410.18 311.19L418.73 311.23L427.28 311.27L435.84 311.31L444.39 311.35L452.95 311.4L461.5 311.44L462.4 311.44" stroke="#ff00ff"/><path d="M350.3 260.58L358.85 290.64L367.41 298.16L375.96 303.17L384.52 306.93L393.07 309.43L401.62 310.69L410.18 311.19L418.73 311.23L427.28 311.27L435.84 311.31L444.39 311.35L452.95 311.4L461.5 311.44" stroke="none" marker-start="url(#mVPPSO)" marker-mid="url(#mVPPSO)" marker-end="url(#mVPPSO)"/><path d="M350.3 230.52L358.85 294.4L367.41 304.42L375.96 309.43L384.52 311.94L393.07 313.19L401.62 313.69L410.18 313.84L418.73 313.98L427.28 314.12L435.84 314.26L444.39 314.41L452.95 314.55L461.5 314.69L462.4 314.71" stroke="#ffee00"/><path d="M350.3 230.52L358.85 294.4L367.41 304.42L375.96 309.43L384.52 311.94L393.07 313.19L401.62 313.69L410.18 313.84L418.73 313.98L427.28 314.12L435.84 314.26L444.39 314.41L452.95 314.55L461.5 314.69" stroke="none" marker-start="url(#mNABC)" marker-mid="url(#mNABC)" marker-end="url(#mNABC)"/><path d="M350.3 255.57L358.85 288.14L367.41 300.66L375.96 307.68L384.52 311.19L393.07 313.19L401.62 314.19L410.18 314.69L418.73 314.74L427.28 314.78L435.84 314.82L444.39 314.86L452.95 314.9L461.5 314.94L462.4 314.95" stroke="#00ffff"/><path d="M350.3 255.57L358.85 288.14L367.41 300.66L375.96 307.68L384.52 311.19L393.07 313.19L401.62 314.19L410.18 314.69L418.73 314.74L427.28 314.78L435.84 314.82L444.39 314.86L452.95 314.9L461.5 314.94" stroke="none" marker-start="url(#mMSEFA)" marker-mid="url(#mMSEFA)" marker-end="url(#mMSEFA)"/><path d="M350.3 261.83L358.85 304.42L367.41 312.69L375.96 314.69L384.52 315.45L393.07 315.7L401.62 315.7L410.18 315.7L418.73 315.7L427.28 315.7L435.84 315.7L444.39 315.7L452.95 315.7L461.5 315.7L462.4 315.7" stroke="#ff0000"/><path d="M350.3 261.83L358.85 304.42L367.41 312.69L375.96 314.69L384.52 315.45L393.07 315.7L401.62 315.7L410.18 315.7L418.73 315.7L427.28 315.7L435.84 315.7L444.39 315.7L452.95 315.7L461.5 315.7" stroke="none" marker-start="url(#mMSESSA)" marker-mid="url(#mMSESSA)" marker-end="url(#mMSESSA)"/></g>
<path d="M350.3 228.8V316.8H462.4" fill="none" stroke="#6a6a6a" stroke-width="0.55"/>
<path d="M350.3 228.8H462.4V316.8" fill="none" stroke="#999" stroke-width="0.45"/>
<path d="M361.31 316.8v-1.1M361.31 228.8v1.1M372.54 316.8v-1.1M372.54 228.8v1.1M383.77 316.8v-1.1M383.77 228.8v1.1M395.01 316.8v-1.1M395.01 228.8v1.1M406.24 316.8v-1.1M406.24 228.8v1.1M417.47 316.8v-1.1M417.47 228.8v1.1M428.7 316.8v-1.1M428.7 228.8v1.1M439.94 316.8v-1.1M439.94 228.8v1.1M451.17 316.8v-1.1M451.17 228.8v1.1M462.4 316.8v-1.1M462.4 228.8v1.1M350.3 279.8h1.1M462.4 279.8h-1.1" stroke="#777" stroke-width="0.35" fill="none"/>
<g font-size="3.1" fill="#333" text-anchor="middle"><text x="361.31" y="321.9">50</text><text x="372.54" y="321.9">100</text><text x="383.77" y="321.9">150</text><text x="395.01" y="321.9">200</text><text x="406.24" y="321.9">250</text><text x="417.47" y="321.9">300</text><text x="428.7" y="321.9">350</text><text x="439.94" y="321.9">400</text><text x="451.17" y="321.9">450</text><text x="460.9" y="321.9">500</text></g>
<g font-size="3.1" fill="#333" text-anchor="end"><text x="349.1" y="281.3">10<tspan font-size="2.2" dy="-1.3">4</tspan></text></g>
<text x="406.35" y="327.2" font-size="3.75" fill="#333" text-anchor="middle">Iteration</text>
<text transform="translate(342.3 272.8) rotate(-90)" font-size="3.8" fill="#333" text-anchor="middle">Fitness function</text>
<text x="406.35" y="226.8" font-size="3.9" fill="#333" text-anchor="middle">C25</text>
<rect x="432.5" y="231.6" width="27.1" height="60.1" fill="#fff" stroke="#777" stroke-width="0.4"/><g font-size="3.05" fill="#333"><path d="M433.6 233.6h10.5" stroke="#9a9aff" stroke-width="0.5"/><text x="445.3" y="234.7">SSA</text><path d="M433.6 237.92h10.5" stroke="#00e800" stroke-width="0.5"/><circle cx="438.85" cy="237.92" r="1.01" fill="#00e800"/><text x="445.3" y="239.02">GWO</text><path d="M433.6 242.23h10.5" stroke="#3a3a4a" stroke-width="0.5"/><text x="445.3" y="243.33">WOA</text><path d="M433.6 246.55h10.5" stroke="#ff00ff" stroke-width="0.5"/><rect x="437.84" y="245.53" width="2.02" height="2.02" fill="#ff00ff"/><text x="445.3" y="247.65">PSO</text><path d="M433.6 250.86h10.5" stroke="#00f4f4" stroke-width="0.5"/><circle cx="438.85" cy="250.86" r="1.06" fill="#00f4f4"/><text x="445.3" y="251.96">ABC</text><path d="M433.6 255.18h10.5" stroke="#000000" stroke-width="0.5"/><rect x="438.01" y="254.34" width="1.67" height="1.67" fill="#000000"/><text x="445.3" y="256.28">FA</text><path d="M433.6 259.49h10.5" stroke="#ffff00" stroke-width="0.5"/><text x="445.3" y="260.59">QMESSA</text><path d="M433.6 263.81h10.5" stroke="#3535ff" stroke-width="0.5"/><path d="M437.31 263.81L438.85 262.27L440.39 263.81L438.85 265.35Z" fill="#9a9aff" stroke="#3535ff" stroke-width="0.4"/><text x="445.3" y="264.91">LSSA</text><path d="M433.6 268.12h10.5" stroke="#2cff2c" stroke-width="0.5"/><rect x="437.57" y="266.85" width="2.55" height="2.55" fill="#9dff9d" stroke="#2cff2c" stroke-width="0.4"/><text x="445.3" y="269.22">AGWO</text><path d="M433.6 272.44h10.5" stroke="#ff3010" stroke-width="0.5"/><text x="445.3" y="273.54">IWOA</text><path d="M433.6 276.75h10.5" stroke="#ff00ff" stroke-width="0.5"/><circle cx="438.85" cy="276.75" r="0.88" fill="#ff00ff"/><text x="445.3" y="277.85">VPPSO</text><path d="M433.6 281.07h10.5" stroke="#ffee00" stroke-width="0.5"/><circle cx="438.85" cy="281.07" r="1.01" fill="#ffee00"/><text x="445.3" y="282.17">NABC</text><path d="M433.6 285.38h10.5" stroke="#00ffff" stroke-width="0.5"/><rect x="437.79" y="284.33" width="2.11" height="2.11" fill="#00ffff"/><text x="445.3" y="286.48">MSEFA</text><path d="M433.6 289.7h10.5" stroke="#ff0000" stroke-width="0.5"/><rect x="437.84" y="288.69" width="2.02" height="2.02" fill="#ff0000"/><text x="445.3" y="290.8">MSESSA</text></g>
</g>
<g>
<clipPath id="c9"><rect x="19.9" y="336.6" width="114.7" height="90.6"/></clipPath>
<g clip-path="url(#c9)" fill="none" stroke-width="0.5" stroke-linejoin="round"><path d="M21.2 345.53L29.75 380.6L38.31 386.86L46.86 391.12L55.42 393.88L63.97 395.63L72.52 396.89L81.08 397.64L89.63 398.39L98.18 398.89L106.74 399.39L115.29 399.89L123.85 400.39L132.4 400.89L133.3 400.94" stroke="#9a9aff"/><path d="M21.2 338.01L29.75 385.11L38.31 386.11L46.86 386.36L55.42 386.61L63.97 386.67L72.52 386.72L81.08 386.78L89.63 386.84L98.18 386.89L106.74 386.95L115.29 387L123.85 387.06L132.4 387.11L133.3 387.12" stroke="#00e800"/><path d="M21.2 338.01L29.75 385.11L38.31 386.11L46.86 386.36L55.42 386.61L63.97 386.67L72.52 386.72L81.08 386.78L89.63 386.84L98.18 386.89L106.74 386.95L115.29 387L123.85 387.06L132.4 387.11" stroke="none" marker-start="url(#mGWO)" marker-mid="url(#mGWO)" marker-end="url(#mGWO)"/><path d="M21.2 348.03L29.75 373.08L38.31 375.59L46.86 377.09L55.42 378.1L63.97 378.6L72.52 379.1L81.08 379.13L89.63 379.17L98.18 379.21L106.74 379.24L115.29 379.28L123.85 379.31L132.4 379.35L133.3 379.35" stroke="#3a3a4a"/><path d="M21.2 346.78L29.75 368.07L38.31 373.08L46.86 376.84L55.42 379.35L63.97 381.1L72.52 382.35L81.08 383.11L89.63 383.86L98.18 384.36L106.74 384.86L115.29 385.11L123.85 385.36L132.4 385.61L133.3 385.64" stroke="#ff00ff"/><path d="M21.2 346.78L29.75 368.07L38.31 373.08L46.86 376.84L55.42 379.35L63.97 381.1L72.52 382.35L81.08 383.11L89.63 383.86L98.18 384.36L106.74 384.86L115.29 385.11L123.85 385.36L132.4 385.61" stroke="none" marker-start="url(#mPSO)" marker-mid="url(#mPSO)" marker-end="url(#mPSO)"/><path d="M21.2 356.55L29.75 361.06L38.31 375.09L46.86 384.86L55.42 392.13L63.97 398.64L72.52 403.9L81.08 408.16L89.63 411.92L98.18 415.17L106.74 418.18L115.29 420.69L123.85 423.19L132.4 425.7L133.3 425.95" stroke="#00f4f4"/><path d="M21.2 356.55L29.75 361.06L38.31 375.09L46.86 384.86L55.42 392.13L63.97 398.64L72.52 403.9L81.08 408.16L89.63 411.92L98.18 415.17L106.74 418.18L115.29 420.69L123.85 423.19L132.4 425.7" stroke="none" marker-start="url(#mABC)" marker-mid="url(#mABC)" marker-end="url(#mABC)"/><path d="M21.2 364.32L29.75 375.09L38.31 376.09L46.86 376.84L55.42 377.34L63.97 377.85L72.52 378.1L81.08 378.35L89.63 378.6L98.18 378.75L106.74 378.9L115.29 379.05L123.85 379.2L132.4 379.35L133.3 379.36" stroke="#000000"/><path d="M21.2 364.32L29.75 375.09L38.31 376.09L46.86 376.84L55.42 377.34L63.97 377.85L72.52 378.1L81.08 378.35L89.63 378.6L98.18 378.75L106.74 378.9L115.29 379.05L123.85 379.2L132.4 379.35" stroke="none" marker-start="url(#mFA)" marker-mid="url(#mFA)" marker-end="url(#mFA)"/><path d="M21.2 340.52L29.75 390.62L38.31 400.64L46.86 406.91L55.42 411.17L63.97 414.42L72.52 416.93L81.08 418.68L89.63 420.18L98.18 421.19L106.74 421.94L115.29 422.69L123.85 423.19L132.4 423.69L133.3 423.74" stroke="#ffff00"/><path d="M21.2 345.53L29.75 379.35L38.31 386.86L46.86 393.13L55.42 398.64L63.97 403.15L72.52 406.91L81.08 410.16L89.63 412.67L98.18 414.92L106.74 416.93L115.29 418.68L123.85 420.18L132.4 421.69L133.3 421.84" stroke="#3535ff"/><path d="M21.2 345.53L29.75 379.35L38.31 386.86L46.86 393.13L55.42 398.64L63.97 403.15L72.52 406.91L81.08 410.16L89.63 412.67L98.18 414.92L106.74 416.93L115.29 418.68L123.85 420.18L132.4 421.69" stroke="none" marker-start="url(#mLSSA)" marker-mid="url(#mLSSA)" marker-end="url(#mLSSA)"/><path d="M21.2 339.26L29.75 398.14L38.31 400.14L46.86 401.14L55.42 401.9L63.97 402.65L72.52 403.4L81.08 404.15L89.63 404.9L98.18 405.65L106.74 406.91L115.29 409.41L123.85 414.42L132.4 420.69L133.3 421.31" stroke="#2cff2c"/><path d="M21.2 339.26L29.75 398.14L38.31 400.14L46.86 401.14L55.42 401.9L63.97 402.65L72.52 403.4L81.08 404.15L89.63 404.9L98.18 405.65L106.74 406.91L115.29 409.41L123.85 414.42L132.4 420.69" stroke="none" marker-start="url(#mAGWO)" marker-mid="url(#mAGWO)" marker-end="url(#mAGWO)"/><path d="M21.2 349.28L29.75 374.34L38.31 376.34L46.86 377.59L55.42 378.6L63.97 379.35L72.52 379.41L81.08 379.47L89.63 379.54L98.18 379.6L106.74 379.66L115.29 379.72L123.85 379.79L132.4 379.85L133.3 379.86" stroke="#ff3010"/><path d="M21.2 348.03L29.75 381.85L38.31 389.37L46.86 395.63L55.42 400.14L63.97 403.15L72.52 405.15L81.08 406.41L89.63 407.16L98.18 407.66L106.74 407.91L115.29 408.16L123.85 408.16L132.4 408.16L133.3 408.16" stroke="#ff00ff"/><path d="M21.2 348.03L29.75 381.85L38.31 389.37L46.86 395.63L55.42 400.14L63.97 403.15L72.52 405.15L81.08 406.41L89.63 407.16L98.18 407.66L106.74 407.91L115.29 408.16L123.85 408.16L132.4 408.16" stroke="none" marker-start="url(#mVPPSO)" marker-mid="url(#mVPPSO)" marker-end="url(#mVPPSO)"/><path d="M21.2 343.02L29.75 383.11L38.31 391.87L46.86 398.14L55.42 403.15L63.97 406.91L72.52 410.16L81.08 412.67L89.63 414.92L98.18 416.68L106.74 418.18L115.29 419.43L123.85 420.69L132.4 421.69L133.3 421.79" stroke="#ffee00"/><path d="M21.2 343.02L29.75 383.11L38.31 391.87L46.86 398.14L55.42 403.15L63.97 406.91L72.52 410.16L81.08 412.67L89.63 414.92L98.18 416.68L106.74 418.18L115.29 419.43L123.85 420.69L132.4 421.69" stroke="none" marker-start="url(#mNABC)" marker-mid="url(#mNABC)" marker-end="url(#mNABC)"/><path d="M21.2 358.05L29.75 378.1L38.31 386.86L46.86 393.13L55.42 398.64L63.97 403.15L72.52 406.91L81.08 409.91L89.63 412.67L98.18 414.92L106.74 416.93L115.29 418.68L123.85 420.44L132.4 422.19L133.3 422.36" stroke="#00ffff"/><path d="M21.2 358.05L29.75 378.1L38.31 386.86L46.86 393.13L55.42 398.64L63.97 403.15L72.52 406.91L81.08 409.91L89.63 412.67L98.18 414.92L106.74 416.93L115.29 418.68L123.85 420.44L132.4 422.19" stroke="none" marker-start="url(#mMSEFA)" marker-mid="url(#mMSEFA)" marker-end="url(#mMSEFA)"/><path d="M21.2 350.54L29.75 390.62L38.31 399.39L46.86 405.65L55.42 409.41L63.97 412.17L72.52 414.17L81.08 415.68L89.63 416.93L98.18 417.68L106.74 418.43L115.29 418.93L123.85 419.43L132.4 419.93L133.3 419.98" stroke="#ff0000"/><path d="M21.2 350.54L29.75 390.62L38.31 399.39L46.86 405.65L55.42 409.41L63.97 412.17L72.52 414.17L81.08 415.68L89.63 416.93L98.18 417.68L106.74 418.43L115.29 418.93L123.85 419.43L132.4 419.93" stroke="none" marker-start="url(#mMSESSA)" marker-mid="url(#mMSESSA)" marker-end="url(#mMSESSA)"/></g>
<path d="M21.2 337.9V425.9H133.3" fill="none" stroke="#6a6a6a" stroke-width="0.55"/>
<path d="M21.2 337.9H133.3V425.9" fill="none" stroke="#999" stroke-width="0.45"/>
<path d="M32.21 425.9v-1.1M32.21 337.9v1.1M43.44 425.9v-1.1M43.44 337.9v1.1M54.67 425.9v-1.1M54.67 337.9v1.1M65.91 425.9v-1.1M65.91 337.9v1.1M77.14 425.9v-1.1M77.14 337.9v1.1M88.37 425.9v-1.1M88.37 337.9v1.1M99.6 425.9v-1.1M99.6 337.9v1.1M110.84 425.9v-1.1M110.84 337.9v1.1M122.07 425.9v-1.1M122.07 337.9v1.1M133.3 425.9v-1.1M133.3 337.9v1.1M21.2 347.4h1.1M133.3 347.4h-1.1M21.2 359.8h1.1M133.3 359.8h-1.1M21.2 374.8h1.1M133.3 374.8h-1.1M21.2 396.2h1.1M133.3 396.2h-1.1" stroke="#777" stroke-width="0.35" fill="none"/>
<g font-size="3.1" fill="#333" text-anchor="middle"><text x="32.21" y="431">50</text><text x="43.44" y="431">100</text><text x="54.67" y="431">150</text><text x="65.91" y="431">200</text><text x="77.14" y="431">250</text><text x="88.37" y="431">300</text><text x="99.6" y="431">350</text><text x="110.84" y="431">400</text><text x="122.07" y="431">450</text><text x="131.8" y="431">500</text></g>
<g font-size="3.1" fill="#333" text-anchor="end"><text x="19.7" y="348.85">2.5</text><text x="19.7" y="361.25">2</text><text x="19.7" y="376.25">1.5</text><text x="19.7" y="397.65">1</text></g>
<text x="23.8" y="336.9" font-size="3.1" fill="#333">×10<tspan font-size="2.2" dy="-1.3">4</tspan></text>
<text x="77.25" y="436.3" font-size="3.75" fill="#333" text-anchor="middle">Iteration</text>
<text transform="translate(13.7 381.9) rotate(-90)" font-size="3.8" fill="#333" text-anchor="middle">Fitness function</text>
<text x="77.25" y="335.9" font-size="3.9" fill="#333" text-anchor="middle">C26</text>
<rect x="103.4" y="340.7" width="27.1" height="60.1" fill="#fff" stroke="#777" stroke-width="0.4"/><g font-size="3.05" fill="#333"><path d="M104.5 342.7h10.5" stroke="#9a9aff" stroke-width="0.5"/><text x="116.2" y="343.8">SSA</text><path d="M104.5 347.02h10.5" stroke="#00e800" stroke-width="0.5"/><circle cx="109.75" cy="347.02" r="1.01" fill="#00e800"/><text x="116.2" y="348.12">GWO</text><path d="M104.5 351.33h10.5" stroke="#3a3a4a" stroke-width="0.5"/><text x="116.2" y="352.43">WOA</text><path d="M104.5 355.65h10.5" stroke="#ff00ff" stroke-width="0.5"/><rect x="108.74" y="354.63" width="2.02" height="2.02" fill="#ff00ff"/><text x="116.2" y="356.75">PSO</text><path d="M104.5 359.96h10.5" stroke="#00f4f4" stroke-width="0.5"/><circle cx="109.75" cy="359.96" r="1.06" fill="#00f4f4"/><text x="116.2" y="361.06">ABC</text><path d="M104.5 364.28h10.5" stroke="#000000" stroke-width="0.5"/><rect x="108.91" y="363.44" width="1.67" height="1.67" fill="#000000"/><text x="116.2" y="365.38">FA</text><path d="M104.5 368.59h10.5" stroke="#ffff00" stroke-width="0.5"/><text x="116.2" y="369.69">QMESSA</text><path d="M104.5 372.91h10.5" stroke="#3535ff" stroke-width="0.5"/><path d="M108.21 372.91L109.75 371.37L111.29 372.91L109.75 374.45Z" fill="#9a9aff" stroke="#3535ff" stroke-width="0.4"/><text x="116.2" y="374.01">LSSA</text><path d="M104.5 377.22h10.5" stroke="#2cff2c" stroke-width="0.5"/><rect x="108.47" y="375.95" width="2.55" height="2.55" fill="#9dff9d" stroke="#2cff2c" stroke-width="0.4"/><text x="116.2" y="378.32">AGWO</text><path d="M104.5 381.54h10.5" stroke="#ff3010" stroke-width="0.5"/><text x="116.2" y="382.64">IWOA</text><path d="M104.5 385.85h10.5" stroke="#ff00ff" stroke-width="0.5"/><circle cx="109.75" cy="385.85" r="0.88" fill="#ff00ff"/><text x="116.2" y="386.95">VPPSO</text><path d="M104.5 390.17h10.5" stroke="#ffee00" stroke-width="0.5"/><circle cx="109.75" cy="390.17" r="1.01" fill="#ffee00"/><text x="116.2" y="391.27">NABC</text><path d="M104.5 394.48h10.5" stroke="#00ffff" stroke-width="0.5"/><rect x="108.69" y="393.43" width="2.11" height="2.11" fill="#00ffff"/><text x="116.2" y="395.58">MSEFA</text><path d="M104.5 398.8h10.5" stroke="#ff0000" stroke-width="0.5"/><rect x="108.74" y="397.79" width="2.02" height="2.02" fill="#ff0000"/><text x="116.2" y="399.9">MSESSA</text></g>
</g>
<g>
<clipPath id="c10"><rect x="184.45" y="336.6" width="114.7" height="90.6"/></clipPath>
<g clip-path="url(#c10)" fill="none" stroke-width="0.5" stroke-linejoin="round"><path d="M185.75 381.85L194.3 414.42L202.86 416.93L211.41 417.68L219.97 418.18L228.52 418.24L237.07 418.29L245.63 418.35L254.18 418.4L262.73 418.46L271.29 418.51L279.84 418.57L288.4 418.63L296.95 418.68L297.85 418.69" stroke="#9a9aff"/><path d="M185.75 376.84L194.3 404.4L202.86 406.15L211.41 406.91L219.97 407.16L228.52 407.41L237.07 407.47L245.63 407.53L254.18 407.6L262.73 407.66L271.29 407.72L279.84 407.78L288.4 407.85L296.95 407.91L297.85 407.91" stroke="#00e800"/><path d="M185.75 376.84L194.3 404.4L202.86 406.15L211.41 406.91L219.97 407.16L228.52 407.41L237.07 407.47L245.63 407.53L254.18 407.6L262.73 407.66L271.29 407.72L279.84 407.78L288.4 407.85L296.95 407.91" stroke="none" marker-start="url(#mGWO)" marker-mid="url(#mGWO)" marker-end="url(#mGWO)"/><path d="M185.75 378.1L194.3 403.15L202.86 405.65L211.41 406.91L219.97 407.41L228.52 407.91L237.07 407.94L245.63 407.97L254.18 408L262.73 408.03L271.29 408.07L279.84 408.1L288.4 408.13L296.95 408.16L297.85 408.16" stroke="#3a3a4a"/><path d="M185.75 338.01L194.3 348.53L202.86 351.79L211.41 353.54L219.97 354.55L228.52 355.3L237.07 355.8L245.63 356.05L254.18 356.3L262.73 356.4L271.29 356.5L279.84 356.6L288.4 356.7L296.95 356.8L297.85 356.81" stroke="#ff00ff"/><path d="M185.75 338.01L194.3 348.53L202.86 351.79L211.41 353.54L219.97 354.55L228.52 355.3L237.07 355.8L245.63 356.05L254.18 356.3L262.73 356.4L271.29 356.5L279.84 356.6L288.4 356.7L296.95 356.8" stroke="none" marker-start="url(#mPSO)" marker-mid="url(#mPSO)" marker-end="url(#mPSO)"/><path d="M185.75 379.35L194.3 399.39L202.86 408.16L211.41 414.42L219.97 417.68L228.52 419.43L237.07 420.44L245.63 421.19L254.18 421.69L262.73 421.94L271.29 422L279.84 422.06L288.4 422.13L296.95 422.19L297.85 422.2" stroke="#00f4f4"/><path d="M185.75 379.35L194.3 399.39L202.86 408.16L211.41 414.42L219.97 417.68L228.52 419.43L237.07 420.44L245.63 421.19L254.18 421.69L262.73 421.94L271.29 422L279.84 422.06L288.4 422.13L296.95 422.19" stroke="none" marker-start="url(#mABC)" marker-mid="url(#mABC)" marker-end="url(#mABC)"/><path d="M185.75 388.62L194.3 398.64L202.86 399.64L211.41 400.14L219.97 400.64L228.52 400.89L237.07 400.96L245.63 401.02L254.18 401.08L262.73 401.14L271.29 401.21L279.84 401.27L288.4 401.33L296.95 401.39L297.85 401.4" stroke="#000000"/><path d="M185.75 388.62L194.3 398.64L202.86 399.64L211.41 400.14L219.97 400.64L228.52 400.89L237.07 400.96L245.63 401.02L254.18 401.08L262.73 401.14L271.29 401.21L279.84 401.27L288.4 401.33L296.95 401.39" stroke="none" marker-start="url(#mFA)" marker-mid="url(#mFA)" marker-end="url(#mFA)"/><path d="M185.75 358.05L194.3 410.66L202.86 414.42L211.41 416.93L219.97 418.18L228.52 418.93L237.07 419.68L245.63 420.44L254.18 421.19L262.73 421.94L271.29 422.69L279.84 423.19L288.4 423.69L296.95 424.19L297.85 424.24" stroke="#ffff00"/><path d="M185.75 383.11L194.3 413.17L202.86 416.18L211.41 418.18L219.97 419.43L228.52 420.18L237.07 420.69L245.63 420.94L254.18 420.98L262.73 421.02L271.29 421.06L279.84 421.1L288.4 421.15L296.95 421.19L297.85 421.19" stroke="#3535ff"/><path d="M185.75 383.11L194.3 413.17L202.86 416.18L211.41 418.18L219.97 419.43L228.52 420.18L237.07 420.69L245.63 420.94L254.18 420.98L262.73 421.02L271.29 421.06L279.84 421.1L288.4 421.15L296.95 421.19" stroke="none" marker-start="url(#mLSSA)" marker-mid="url(#mLSSA)" marker-end="url(#mLSSA)"/><path d="M185.75 378.1L194.3 413.17L202.86 416.93L211.41 418.18L219.97 418.93L228.52 419.43L237.07 419.68L245.63 419.72L254.18 419.76L262.73 419.79L271.29 419.83L279.84 419.86L288.4 419.9L296.95 419.93L297.85 419.94" stroke="#2cff2c"/><path d="M185.75 378.1L194.3 413.17L202.86 416.93L211.41 418.18L219.97 418.93L228.52 419.43L237.07 419.68L245.63 419.72L254.18 419.76L262.73 419.79L271.29 419.83L279.84 419.86L288.4 419.9L296.95 419.93" stroke="none" marker-start="url(#mAGWO)" marker-mid="url(#mAGWO)" marker-end="url(#mAGWO)"/><path d="M185.75 379.35L194.3 403.9L202.86 406.15L211.41 407.41L219.97 408.16L228.52 408.19L237.07 408.21L245.63 408.24L254.18 408.27L262.73 408.3L271.29 408.33L279.84 408.35L288.4 408.38L296.95 408.41L297.85 408.41" stroke="#ff3010"/><path d="M185.75 380.6L194.3 411.92L202.86 413.67L211.41 415.68L219.97 417.18L228.52 418.18L237.07 418.68L245.63 418.72L254.18 418.75L262.73 418.79L271.29 418.82L279.84 418.86L288.4 418.9L296.95 418.93L297.85 418.94" stroke="#ff00ff"/><path d="M185.75 380.6L194.3 411.92L202.86 413.67L211.41 415.68L219.97 417.18L228.52 418.18L237.07 418.68L245.63 418.72L254.18 418.75L262.73 418.79L271.29 418.82L279.84 418.86L288.4 418.9L296.95 418.93" stroke="none" marker-start="url(#mVPPSO)" marker-mid="url(#mVPPSO)" marker-end="url(#mVPPSO)"/><path d="M185.75 375.59L194.3 411.92L202.86 415.17L211.41 416.93L219.97 418.18L228.52 418.93L237.07 419.09L245.63 419.25L254.18 419.4L262.73 419.56L271.29 419.71L279.84 419.87L288.4 420.03L296.95 420.18L297.85 420.2" stroke="#ffee00"/><path d="M185.75 375.59L194.3 411.92L202.86 415.17L211.41 416.93L219.97 418.18L228.52 418.93L237.07 419.09L245.63 419.25L254.18 419.4L262.73 419.56L271.29 419.71L279.84 419.87L288.4 420.03L296.95 420.18" stroke="none" marker-start="url(#mNABC)" marker-mid="url(#mNABC)" marker-end="url(#mNABC)"/><path d="M185.75 385.61L194.3 412.67L202.86 421.94L211.41 425.2L219.97 425.45L228.52 425.45L237.07 425.45L245.63 425.45L254.18 425.45L262.73 425.45L271.29 425.45L279.84 425.45L288.4 425.45L296.95 425.45L297.85 425.45" stroke="#00ffff"/><path d="M185.75 385.61L194.3 412.67L202.86 421.94L211.41 425.2L219.97 425.45L228.52 425.45L237.07 425.45L245.63 425.45L254.18 425.45L262.73 425.45L271.29 425.45L279.84 425.45L288.4 425.45L296.95 425.45" stroke="none" marker-start="url(#mMSEFA)" marker-mid="url(#mMSEFA)" marker-end="url(#mMSEFA)"/><path d="M185.75 386.86L194.3 425.45L202.86 425.7L211.41 425.7L219.97 425.7L228.52 425.7L237.07 425.7L245.63 425.7L254.18 425.7L262.73 425.7L271.29 425.7L279.84 425.7L288.4 425.7L296.95 425.7L297.85 425.7" stroke="#ff0000"/><path d="M185.75 386.86L194.3 425.45L202.86 425.7L211.41 425.7L219.97 425.7L228.52 425.7L237.07 425.7L245.63 425.7L254.18 425.7L262.73 425.7L271.29 425.7L279.84 425.7L288.4 425.7L296.95 425.7" stroke="none" marker-start="url(#mMSESSA)" marker-mid="url(#mMSESSA)" marker-end="url(#mMSESSA)"/></g>
<path d="M185.75 337.9V425.9H297.85" fill="none" stroke="#6a6a6a" stroke-width="0.55"/>
<path d="M185.75 337.9H297.85V425.9" fill="none" stroke="#999" stroke-width="0.45"/>
<path d="M196.76 425.9v-1.1M196.76 337.9v1.1M207.99 425.9v-1.1M207.99 337.9v1.1M219.22 425.9v-1.1M219.22 337.9v1.1M230.46 425.9v-1.1M230.46 337.9v1.1M241.69 425.9v-1.1M241.69 337.9v1.1M252.92 425.9v-1.1M252.92 337.9v1.1M264.15 425.9v-1.1M264.15 337.9v1.1M275.39 425.9v-1.1M275.39 337.9v1.1M286.62 425.9v-1.1M286.62 337.9v1.1M297.85 425.9v-1.1M297.85 337.9v1.1M185.75 342.8h1.1M297.85 342.8h-1.1M185.75 349.4h1.1M297.85 349.4h-1.1M185.75 357.8h1.1M297.85 357.8h-1.1M185.75 366.8h1.1M297.85 366.8h-1.1M185.75 378.8h1.1M297.85 378.8h-1.1M185.75 393.4h1.1M297.85 393.4h-1.1M185.75 414.8h1.1M297.85 414.8h-1.1" stroke="#777" stroke-width="0.35" fill="none"/>
<g font-size="3.1" fill="#333" text-anchor="middle"><text x="196.76" y="431">50</text><text x="207.99" y="431">100</text><text x="219.22" y="431">150</text><text x="230.46" y="431">200</text><text x="241.69" y="431">250</text><text x="252.92" y="431">300</text><text x="264.15" y="431">350</text><text x="275.39" y="431">400</text><text x="286.62" y="431">450</text><text x="296.35" y="431">500</text></g>
<g font-size="3.1" fill="#333" text-anchor="end"><text x="184.25" y="344.25">1.6</text><text x="184.25" y="350.85">1.4</text><text x="184.25" y="359.25">1.2</text><text x="184.25" y="368.25">1</text><text x="184.25" y="380.25">0.8</text><text x="184.25" y="394.85">0.6</text><text x="184.25" y="416.25">0.4</text></g>
<text x="188.35" y="336.9" font-size="3.1" fill="#333">×10<tspan font-size="2.2" dy="-1.3">4</tspan></text>
<text x="241.8" y="436.3" font-size="3.75" fill="#333" text-anchor="middle">Iteration</text>
<text transform="translate(177.7 381.9) rotate(-90)" font-size="3.8" fill="#333" text-anchor="middle">Fitness function</text>
<text x="241.8" y="335.9" font-size="3.9" fill="#333" text-anchor="middle">C27</text>
<rect x="267.95" y="340.7" width="27.1" height="60.1" fill="#fff" stroke="#777" stroke-width="0.4"/><g font-size="3.05" fill="#333"><path d="M269.05 342.7h10.5" stroke="#9a9aff" stroke-width="0.5"/><text x="280.75" y="343.8">SSA</text><path d="M269.05 347.02h10.5" stroke="#00e800" stroke-width="0.5"/><circle cx="274.3" cy="347.02" r="1.01" fill="#00e800"/><text x="280.75" y="348.12">GWO</text><path d="M269.05 351.33h10.5" stroke="#3a3a4a" stroke-width="0.5"/><text x="280.75" y="352.43">WOA</text><path d="M269.05 355.65h10.5" stroke="#ff00ff" stroke-width="0.5"/><rect x="273.29" y="354.63" width="2.02" height="2.02" fill="#ff00ff"/><text x="280.75" y="356.75">PSO</text><path d="M269.05 359.96h10.5" stroke="#00f4f4" stroke-width="0.5"/><circle cx="274.3" cy="359.96" r="1.06" fill="#00f4f4"/><text x="280.75" y="361.06">ABC</text><path d="M269.05 364.28h10.5" stroke="#000000" stroke-width="0.5"/><rect x="273.46" y="363.44" width="1.67" height="1.67" fill="#000000"/><text x="280.75" y="365.38">FA</text><path d="M269.05 368.59h10.5" stroke="#ffff00" stroke-width="0.5"/><text x="280.75" y="369.69">QMESSA</text><path d="M269.05 372.91h10.5" stroke="#3535ff" stroke-width="0.5"/><path d="M272.76 372.91L274.3 371.37L275.84 372.91L274.3 374.45Z" fill="#9a9aff" stroke="#3535ff" stroke-width="0.4"/><text x="280.75" y="374.01">LSSA</text><path d="M269.05 377.22h10.5" stroke="#2cff2c" stroke-width="0.5"/><rect x="273.02" y="375.95" width="2.55" height="2.55" fill="#9dff9d" stroke="#2cff2c" stroke-width="0.4"/><text x="280.75" y="378.32">AGWO</text><path d="M269.05 381.54h10.5" stroke="#ff3010" stroke-width="0.5"/><text x="280.75" y="382.64">IWOA</text><path d="M269.05 385.85h10.5" stroke="#ff00ff" stroke-width="0.5"/><circle cx="274.3" cy="385.85" r="0.88" fill="#ff00ff"/><text x="280.75" y="386.95">VPPSO</text><path d="M269.05 390.17h10.5" stroke="#ffee00" stroke-width="0.5"/><circle cx="274.3" cy="390.17" r="1.01" fill="#ffee00"/><text x="280.75" y="391.27">NABC</text><path d="M269.05 394.48h10.5" stroke="#00ffff" stroke-width="0.5"/><rect x="273.24" y="393.43" width="2.11" height="2.11" fill="#00ffff"/><text x="280.75" y="395.58">MSEFA</text><path d="M269.05 398.8h10.5" stroke="#ff0000" stroke-width="0.5"/><rect x="273.29" y="397.79" width="2.02" height="2.02" fill="#ff0000"/><text x="280.75" y="399.9">MSESSA</text></g>
</g>
<g>
<clipPath id="c11"><rect x="349" y="336.6" width="114.7" height="90.6"/></clipPath>
<g clip-path="url(#c11)" fill="none" stroke-width="0.5" stroke-linejoin="round"><path d="M350.3 344.27L358.85 394.38L367.41 403.15L375.96 410.66L384.52 415.68L393.07 418.68L401.62 420.69L410.18 421.69L418.73 422.19L427.28 422.24L435.84 422.29L444.39 422.34L452.95 422.39L461.5 422.44L462.4 422.44" stroke="#9a9aff"/><path d="M350.3 338.01L358.85 391.87L367.41 396.13L375.96 397.39L384.52 397.89L393.07 398.14L401.62 398.39L410.18 398.64L418.73 398.89L427.28 399.14L435.84 399.39L444.39 399.64L452.95 399.89L461.5 400.14L462.4 400.17" stroke="#00e800"/><path d="M350.3 338.01L358.85 391.87L367.41 396.13L375.96 397.39L384.52 397.89L393.07 398.14L401.62 398.39L410.18 398.64L418.73 398.89L427.28 399.14L435.84 399.39L444.39 399.64L452.95 399.89L461.5 400.14" stroke="none" marker-start="url(#mGWO)" marker-mid="url(#mGWO)" marker-end="url(#mGWO)"/><path d="M350.3 343.02L358.85 386.86L367.41 395.63L375.96 401.9L384.52 405.65L393.07 407.66L401.62 408.66L410.18 409.16L418.73 409.2L427.28 409.24L435.84 409.29L444.39 409.33L452.95 409.37L461.5 409.41L462.4 409.42" stroke="#3a3a4a"/><path d="M350.3 343.02L358.85 358.05L367.41 369.33L375.96 374.34L384.52 378.6L393.07 382.61L401.62 386.36L410.18 390.12L418.73 393.63L427.28 397.14L435.84 400.14L444.39 402.65L452.95 405.15L461.5 407.66L462.4 407.91" stroke="#ff00ff"/><path d="M350.3 343.02L358.85 358.05L367.41 369.33L375.96 374.34L384.52 378.6L393.07 382.61L401.62 386.36L410.18 390.12L418.73 393.63L427.28 397.14L435.84 400.14L444.39 402.65L452.95 405.15L461.5 407.66" stroke="none" marker-start="url(#mPSO)" marker-mid="url(#mPSO)" marker-end="url(#mPSO)"/><path d="M350.3 344.27L358.85 358.05L367.41 390.62L375.96 405.65L384.52 413.17L393.07 416.93L401.62 418.93L410.18 420.18L418.73 421.19L427.28 421.69L435.84 421.75L444.39 421.81L452.95 421.88L461.5 421.94L462.4 421.94" stroke="#00f4f4"/><path d="M350.3 344.27L358.85 358.05L367.41 390.62L375.96 405.65L384.52 413.17L393.07 416.93L401.62 418.93L410.18 420.18L418.73 421.19L427.28 421.69L435.84 421.75L444.39 421.81L452.95 421.88L461.5 421.94" stroke="none" marker-start="url(#mABC)" marker-mid="url(#mABC)" marker-end="url(#mABC)"/><path d="M350.3 366.82L358.85 377.59L367.41 378.85L375.96 379.6L384.52 380.1L393.07 380.6L401.62 381.1L410.18 381.35L418.73 381.6L427.28 381.85L435.84 382.1L444.39 382.1L452.95 382.35L461.5 382.61L462.4 382.63" stroke="#000000"/><path d="M350.3 366.82L358.85 377.59L367.41 378.85L375.96 379.6L384.52 380.1L393.07 380.6L401.62 381.1L410.18 381.35L418.73 381.6L427.28 381.85L435.84 382.1L444.39 382.1L452.95 382.35L461.5 382.61" stroke="none" marker-start="url(#mFA)" marker-mid="url(#mFA)" marker-end="url(#mFA)"/><path d="M350.3 343.02L358.85 400.64L367.41 413.17L375.96 419.43L384.52 421.94L393.07 423.19L401.62 423.69L410.18 423.76L418.73 423.84L427.28 423.91L435.84 423.98L444.39 424.05L452.95 424.12L461.5 424.19L462.4 424.2" stroke="#ffff00"/><path d="M350.3 344.27L358.85 391.87L367.41 396.89L375.96 401.9L384.52 406.15L393.07 410.16L401.62 413.17L410.18 415.68L418.73 417.68L427.28 419.18L435.84 420.18L444.39 420.94L452.95 421.44L461.5 421.94L462.4 421.99" stroke="#3535ff"/><path d="M350.3 344.27L358.85 391.87L367.41 396.89L375.96 401.9L384.52 406.15L393.07 410.16L401.62 413.17L410.18 415.68L418.73 417.68L427.28 419.18L435.84 420.18L444.39 420.94L452.95 421.44L461.5 421.94" stroke="none" marker-start="url(#mLSSA)" marker-mid="url(#mLSSA)" marker-end="url(#mLSSA)"/><path d="M350.3 339.26L358.85 404.4L367.41 409.41L375.96 411.42L384.52 412.67L393.07 413.42L401.62 413.92L410.18 414.17L418.73 414.34L427.28 414.51L435.84 414.67L444.39 414.84L452.95 415.01L461.5 415.17L462.4 415.19" stroke="#2cff2c"/><path d="M350.3 339.26L358.85 404.4L367.41 409.41L375.96 411.42L384.52 412.67L393.07 413.42L401.62 413.92L410.18 414.17L418.73 414.34L427.28 414.51L435.84 414.67L444.39 414.84L452.95 415.01L461.5 415.17" stroke="none" marker-start="url(#mAGWO)" marker-mid="url(#mAGWO)" marker-end="url(#mAGWO)"/><path d="M350.3 344.27L358.85 388.12L367.41 396.89L375.96 403.15L384.52 406.41L393.07 408.16L401.62 408.91L410.18 408.95L418.73 408.98L427.28 409.02L435.84 409.05L444.39 409.09L452.95 409.13L461.5 409.16L462.4 409.16" stroke="#ff3010"/><path d="M350.3 348.03L358.85 393.13L367.41 401.9L375.96 408.16L384.52 412.67L393.07 415.68L401.62 417.68L410.18 419.18L418.73 420.18L427.28 420.94L435.84 421.44L444.39 421.69L452.95 421.81L461.5 421.94L462.4 421.95" stroke="#ff00ff"/><path d="M350.3 348.03L358.85 393.13L367.41 401.9L375.96 408.16L384.52 412.67L393.07 415.68L401.62 417.68L410.18 419.18L418.73 420.18L427.28 420.94L435.84 421.44L444.39 421.69L452.95 421.81L461.5 421.94" stroke="none" marker-start="url(#mVPPSO)" marker-mid="url(#mVPPSO)" marker-end="url(#mVPPSO)"/><path d="M350.3 344.27L358.85 396.89L367.41 404.4L375.96 409.41L384.52 413.17L393.07 416.18L401.62 418.18L410.18 419.68L418.73 420.69L427.28 421.69L435.84 422.44L444.39 422.94L452.95 423.44L461.5 423.94L462.4 423.99" stroke="#ffee00"/><path d="M350.3 344.27L358.85 396.89L367.41 404.4L375.96 409.41L384.52 413.17L393.07 416.18L401.62 418.18L410.18 419.68L418.73 420.69L427.28 421.69L435.84 422.44L444.39 422.94L452.95 423.44L461.5 423.94" stroke="none" marker-start="url(#mNABC)" marker-mid="url(#mNABC)" marker-end="url(#mNABC)"/><path d="M350.3 345.53L358.85 390.62L367.41 410.66L375.96 423.19L384.52 425.45L393.07 425.45L401.62 425.45L410.18 425.45L418.73 425.45L427.28 425.45L435.84 425.45L444.39 425.45L452.95 425.45L461.5 425.45L462.4 425.45" stroke="#00ffff"/><path d="M350.3 345.53L358.85 390.62L367.41 410.66L375.96 423.19L384.52 425.45L393.07 425.45L401.62 425.45L410.18 425.45L418.73 425.45L427.28 425.45L435.84 425.45L444.39 425.45L452.95 425.45L461.5 425.45" stroke="none" marker-start="url(#mMSEFA)" marker-mid="url(#mMSEFA)" marker-end="url(#mMSEFA)"/><path d="M350.3 355.55L358.85 413.17L367.41 425.2L375.96 425.45L384.52 425.45L393.07 425.45L401.62 425.45L410.18 425.45L418.73 425.45L427.28 425.45L435.84 425.45L444.39 425.45L452.95 425.45L461.5 425.45L462.4 425.45" stroke="#ff0000"/><path d="M350.3 355.55L358.85 413.17L367.41 425.2L375.96 425.45L384.52 425.45L393.07 425.45L401.62 425.45L410.18 425.45L418.73 425.45L427.28 425.45L435.84 425.45L444.39 425.45L452.95 425.45L461.5 425.45" stroke="none" marker-start="url(#mMSESSA)" marker-mid="url(#mMSESSA)" marker-end="url(#mMSESSA)"/></g>
<path d="M350.3 337.9V425.9H462.4" fill="none" stroke="#6a6a6a" stroke-width="0.55"/>
<path d="M350.3 337.9H462.4V425.9" fill="none" stroke="#999" stroke-width="0.45"/>
<path d="M361.31 425.9v-1.1M361.31 337.9v1.1M372.54 425.9v-1.1M372.54 337.9v1.1M383.77 425.9v-1.1M383.77 337.9v1.1M395.01 425.9v-1.1M395.01 337.9v1.1M406.24 425.9v-1.1M406.24 337.9v1.1M417.47 425.9v-1.1M417.47 337.9v1.1M428.7 425.9v-1.1M428.7 337.9v1.1M439.94 425.9v-1.1M439.94 337.9v1.1M451.17 425.9v-1.1M451.17 337.9v1.1M462.4 425.9v-1.1M462.4 337.9v1.1M350.3 339.8h1.1M462.4 339.8h-1.1M350.3 343.8h1.1M462.4 343.8h-1.1M350.3 348.4h1.1M462.4 348.4h-1.1M350.3 353.8h1.1M462.4 353.8h-1.1M350.3 359.8h1.1M462.4 359.8h-1.1M350.3 367.2h1.1M462.4 367.2h-1.1M350.3 375.8h1.1M462.4 375.8h-1.1M350.3 386.2h1.1M462.4 386.2h-1.1M350.3 399.2h1.1M462.4 399.2h-1.1M350.3 417.4h1.1M462.4 417.4h-1.1" stroke="#777" stroke-width="0.35" fill="none"/>
<g font-size="3.1" fill="#333" text-anchor="middle"><text x="361.31" y="431">50</text><text x="372.54" y="431">100</text><text x="383.77" y="431">150</text><text x="395.01" y="431">200</text><text x="406.24" y="431">250</text><text x="417.47" y="431">300</text><text x="428.7" y="431">350</text><text x="439.94" y="431">400</text><text x="451.17" y="431">450</text><text x="460.9" y="431">500</text></g>
<g font-size="3.1" fill="#333" text-anchor="end"><text x="348.8" y="341.25">2.2</text><text x="348.8" y="345.25">2</text><text x="348.8" y="349.85">1.8</text><text x="348.8" y="355.25">1.6</text><text x="348.8" y="361.25">1.4</text><text x="348.8" y="368.65">1.2</text><text x="348.8" y="377.25">1</text><text x="348.8" y="387.65">0.8</text><text x="348.8" y="400.65">0.6</text><text x="348.8" y="418.85">0.4</text></g>
<text x="352.9" y="336.9" font-size="3.1" fill="#333">×10<tspan font-size="2.2" dy="-1.3">4</tspan></text>
<text x="406.35" y="436.3" font-size="3.75" fill="#333" text-anchor="middle">Iteration</text>
<text transform="translate(342.3 381.9) rotate(-90)" font-size="3.8" fill="#333" text-anchor="middle">Fitness function</text>
<text x="406.35" y="335.9" font-size="3.9" fill="#333" text-anchor="middle">C28</text>
<rect x="432.5" y="340.7" width="27.1" height="60.1" fill="#fff" stroke="#777" stroke-width="0.4"/><g font-size="3.05" fill="#333"><path d="M433.6 342.7h10.5" stroke="#9a9aff" stroke-width="0.5"/><text x="445.3" y="343.8">SSA</text><path d="M433.6 347.02h10.5" stroke="#00e800" stroke-width="0.5"/><circle cx="438.85" cy="347.02" r="1.01" fill="#00e800"/><text x="445.3" y="348.12">GWO</text><path d="M433.6 351.33h10.5" stroke="#3a3a4a" stroke-width="0.5"/><text x="445.3" y="352.43">WOA</text><path d="M433.6 355.65h10.5" stroke="#ff00ff" stroke-width="0.5"/><rect x="437.84" y="354.63" width="2.02" height="2.02" fill="#ff00ff"/><text x="445.3" y="356.75">PSO</text><path d="M433.6 359.96h10.5" stroke="#00f4f4" stroke-width="0.5"/><circle cx="438.85" cy="359.96" r="1.06" fill="#00f4f4"/><text x="445.3" y="361.06">ABC</text><path d="M433.6 364.28h10.5" stroke="#000000" stroke-width="0.5"/><rect x="438.01" y="363.44" width="1.67" height="1.67" fill="#000000"/><text x="445.3" y="365.38">FA</text><path d="M433.6 368.59h10.5" stroke="#ffff00" stroke-width="0.5"/><text x="445.3" y="369.69">QMESSA</text><path d="M433.6 372.91h10.5" stroke="#3535ff" stroke-width="0.5"/><path d="M437.31 372.91L438.85 371.37L440.39 372.91L438.85 374.45Z" fill="#9a9aff" stroke="#3535ff" stroke-width="0.4"/><text x="445.3" y="374.01">LSSA</text><path d="M433.6 377.22h10.5" stroke="#2cff2c" stroke-width="0.5"/><rect x="437.57" y="375.95" width="2.55" height="2.55" fill="#9dff9d" stroke="#2cff2c" stroke-width="0.4"/><text x="445.3" y="378.32">AGWO</text><path d="M433.6 381.54h10.5" stroke="#ff3010" stroke-width="0.5"/><text x="445.3" y="382.64">IWOA</text><path d="M433.6 385.85h10.5" stroke="#ff00ff" stroke-width="0.5"/><circle cx="438.85" cy="385.85" r="0.88" fill="#ff00ff"/><text x="445.3" y="386.95">VPPSO</text><path d="M433.6 390.17h10.5" stroke="#ffee00" stroke-width="0.5"/><circle cx="438.85" cy="390.17" r="1.01" fill="#ffee00"/><text x="445.3" y="391.27">NABC</text><path d="M433.6 394.48h10.5" stroke="#00ffff" stroke-width="0.5"/><rect x="437.79" y="393.43" width="2.11" height="2.11" fill="#00ffff"/><text x="445.3" y="395.58">MSEFA</text><path d="M433.6 398.8h10.5" stroke="#ff0000" stroke-width="0.5"/><rect x="437.84" y="397.79" width="2.02" height="2.02" fill="#ff0000"/><text x="445.3" y="399.9">MSESSA</text></g>
</g>
<g>
<clipPath id="c12"><rect x="19.9" y="445.7" width="114.7" height="90.6"/></clipPath>
<g clip-path="url(#c12)" fill="none" stroke-width="0.5" stroke-linejoin="round"><path d="M21.2 475.82L29.75 528.43L38.31 529.69L46.86 529.94L55.42 529.96L63.97 529.99L72.52 530.01L81.08 530.04L89.63 530.06L98.18 530.09L106.74 530.11L115.29 530.14L123.85 530.16L132.4 530.19L133.3 530.19" stroke="#9a9aff"/><path d="M21.2 467.05L29.75 526.68L38.31 527.68L46.86 528.18L55.42 528.43L63.97 528.46L72.52 528.49L81.08 528.52L89.63 528.54L98.18 528.57L106.74 528.6L115.29 528.63L123.85 528.66L132.4 528.68L133.3 528.69" stroke="#00e800"/><path d="M21.2 467.05L29.75 526.68L38.31 527.68L46.86 528.18L55.42 528.43L63.97 528.46L72.52 528.49L81.08 528.52L89.63 528.54L98.18 528.57L106.74 528.6L115.29 528.63L123.85 528.66L132.4 528.68" stroke="none" marker-start="url(#mGWO)" marker-mid="url(#mGWO)" marker-end="url(#mGWO)"/><path d="M21.2 467.05L29.75 522.17L38.31 524.17L46.86 525.18L55.42 525.93L63.97 525.96L72.52 525.98L81.08 526.01L89.63 526.04L98.18 526.07L106.74 526.09L115.29 526.12L123.85 526.15L132.4 526.18L133.3 526.18" stroke="#3a3a4a"/><path d="M21.2 447.01L29.75 465.8L38.31 487.1L46.86 502.13L55.42 512.9L63.97 518.41L72.52 521.67L81.08 523.67L89.63 524.93L98.18 525.68L106.74 526.18L115.29 526.43L123.85 526.68L132.4 526.93L133.3 526.95" stroke="#ff00ff"/><path d="M21.2 447.01L29.75 465.8L38.31 487.1L46.86 502.13L55.42 512.9L63.97 518.41L72.52 521.67L81.08 523.67L89.63 524.93L98.18 525.68L106.74 526.18L115.29 526.43L123.85 526.68L132.4 526.93" stroke="none" marker-start="url(#mPSO)" marker-mid="url(#mPSO)" marker-end="url(#mPSO)"/><path d="M21.2 469.56L29.75 500.87L38.31 515.91L46.86 524.17L55.42 527.68L63.97 529.18L72.52 529.94L81.08 530.44L89.63 530.52L98.18 530.6L106.74 530.69L115.29 530.77L123.85 530.85L132.4 530.94L133.3 530.95" stroke="#00f4f4"/><path d="M21.2 469.56L29.75 500.87L38.31 515.91L46.86 524.17L55.42 527.68L63.97 529.18L72.52 529.94L81.08 530.44L89.63 530.52L98.18 530.6L106.74 530.69L115.29 530.77L123.85 530.85L132.4 530.94" stroke="none" marker-start="url(#mABC)" marker-mid="url(#mABC)" marker-end="url(#mABC)"/><path d="M21.2 515.91L29.75 522.92L38.31 524.17L46.86 524.93L55.42 525.43L63.97 525.68L72.52 525.74L81.08 525.8L89.63 525.87L98.18 525.93L106.74 525.99L115.29 526.05L123.85 526.12L132.4 526.18L133.3 526.18" stroke="#000000"/><path d="M21.2 515.91L29.75 522.92L38.31 524.17L46.86 524.93L55.42 525.43L63.97 525.68L72.52 525.74L81.08 525.8L89.63 525.87L98.18 525.93L106.74 525.99L115.29 526.05L123.85 526.12L132.4 526.18" stroke="none" marker-start="url(#mFA)" marker-mid="url(#mFA)" marker-end="url(#mFA)"/><path d="M21.2 447.51L29.75 530.94L38.31 532.19L46.86 532.69L55.42 532.72L63.97 532.74L72.52 532.77L81.08 532.79L89.63 532.82L98.18 532.84L106.74 532.87L115.29 532.89L123.85 532.92L132.4 532.94L133.3 532.95" stroke="#ffff00"/><path d="M21.2 474.57L29.75 527.18L38.31 528.93L46.86 529.94L55.42 530.44L63.97 530.69L72.52 530.72L81.08 530.75L89.63 530.78L98.18 530.81L106.74 530.84L115.29 530.88L123.85 530.91L132.4 530.94L133.3 530.94" stroke="#3535ff"/><path d="M21.2 474.57L29.75 527.18L38.31 528.93L46.86 529.94L55.42 530.44L63.97 530.69L72.52 530.72L81.08 530.75L89.63 530.78L98.18 530.81L106.74 530.84L115.29 530.88L123.85 530.91L132.4 530.94" stroke="none" marker-start="url(#mLSSA)" marker-mid="url(#mLSSA)" marker-end="url(#mLSSA)"/><path d="M21.2 468.31L29.75 528.43L38.31 530.19L46.86 530.94L55.42 531.19L63.97 531.22L72.52 531.24L81.08 531.27L89.63 531.3L98.18 531.33L106.74 531.36L115.29 531.38L123.85 531.41L132.4 531.44L133.3 531.44" stroke="#2cff2c"/><path d="M21.2 468.31L29.75 528.43L38.31 530.19L46.86 530.94L55.42 531.19L63.97 531.22L72.52 531.24L81.08 531.27L89.63 531.3L98.18 531.33L106.74 531.36L115.29 531.38L123.85 531.41L132.4 531.44" stroke="none" marker-start="url(#mAGWO)" marker-mid="url(#mAGWO)" marker-end="url(#mAGWO)"/><path d="M21.2 468.31L29.75 522.67L38.31 524.68L46.86 525.68L55.42 526.43L63.97 526.46L72.52 526.48L81.08 526.51L89.63 526.54L98.18 526.57L106.74 526.6L115.29 526.62L123.85 526.65L132.4 526.68L133.3 526.68" stroke="#ff3010"/><path d="M21.2 472.06L29.75 525.93L38.31 527.18L46.86 527.93L55.42 528.43L63.97 528.46L72.52 528.49L81.08 528.52L89.63 528.54L98.18 528.57L106.74 528.6L115.29 528.63L123.85 528.66L132.4 528.68L133.3 528.69" stroke="#ff00ff"/><path d="M21.2 472.06L29.75 525.93L38.31 527.18L46.86 527.93L55.42 528.43L63.97 528.46L72.52 528.49L81.08 528.52L89.63 528.54L98.18 528.57L106.74 528.6L115.29 528.63L123.85 528.66L132.4 528.68" stroke="none" marker-start="url(#mVPPSO)" marker-mid="url(#mVPPSO)" marker-end="url(#mVPPSO)"/><path d="M21.2 485.84L29.75 530.19L38.31 531.69L46.86 532.44L55.42 532.94L63.97 532.97L72.52 533L81.08 533.03L89.63 533.05L98.18 533.08L106.74 533.11L115.29 533.14L123.85 533.17L132.4 533.19L133.3 533.2" stroke="#ffee00"/><path d="M21.2 485.84L29.75 530.19L38.31 531.69L46.86 532.44L55.42 532.94L63.97 532.97L72.52 533L81.08 533.03L89.63 533.05L98.18 533.08L106.74 533.11L115.29 533.14L123.85 533.17L132.4 533.19" stroke="none" marker-start="url(#mNABC)" marker-mid="url(#mNABC)" marker-end="url(#mNABC)"/><path d="M21.2 507.64L29.75 529.18L38.31 530.94L46.86 531.69L55.42 532.19L63.97 532.25L72.52 532.3L81.08 532.36L89.63 532.41L98.18 532.47L106.74 532.53L115.29 532.58L123.85 532.64L132.4 532.69L133.3 532.7" stroke="#00ffff"/><path d="M21.2 507.64L29.75 529.18L38.31 530.94L46.86 531.69L55.42 532.19L63.97 532.25L72.52 532.3L81.08 532.36L89.63 532.41L98.18 532.47L106.74 532.53L115.29 532.58L123.85 532.64L132.4 532.69" stroke="none" marker-start="url(#mMSEFA)" marker-mid="url(#mMSEFA)" marker-end="url(#mMSEFA)"/><path d="M21.2 491.61L29.75 532.69L38.31 533.44L46.86 533.69L55.42 533.72L63.97 533.74L72.52 533.77L81.08 533.79L89.63 533.82L98.18 533.84L106.74 533.87L115.29 533.89L123.85 533.92L132.4 533.94L133.3 533.95" stroke="#ff0000"/><path d="M21.2 491.61L29.75 532.69L38.31 533.44L46.86 533.69L55.42 533.72L63.97 533.74L72.52 533.77L81.08 533.79L89.63 533.82L98.18 533.84L106.74 533.87L115.29 533.89L123.85 533.92L132.4 533.94" stroke="none" marker-start="url(#mMSESSA)" marker-mid="url(#mMSESSA)" marker-end="url(#mMSESSA)"/></g>
<path d="M21.2 447V535H133.3" fill="none" stroke="#6a6a6a" stroke-width="0.55"/>
<path d="M21.2 447H133.3V535" fill="none" stroke="#999" stroke-width="0.45"/>
<path d="M32.21 535v-1.1M32.21 447v1.1M43.44 535v-1.1M43.44 447v1.1M54.67 535v-1.1M54.67 447v1.1M65.91 535v-1.1M65.91 447v1.1M77.14 535v-1.1M77.14 447v1.1M88.37 535v-1.1M88.37 447v1.1M99.6 535v-1.1M99.6 447v1.1M110.84 535v-1.1M110.84 447v1.1M122.07 535v-1.1M122.07 447v1.1M133.3 535v-1.1M133.3 447v1.1M21.2 465.6h1.1M133.3 465.6h-1.1M21.2 494h1.1M133.3 494h-1.1M21.2 522.6h1.1M133.3 522.6h-1.1M21.2 457.05h0.6M133.3 457.05h-0.6M21.2 452.05h0.6M133.3 452.05h-0.6M21.2 448.5h0.6M133.3 448.5h-0.6M21.2 485.45h0.6M133.3 485.45h-0.6M21.2 480.45h0.6M133.3 480.45h-0.6M21.2 476.9h0.6M133.3 476.9h-0.6M21.2 474.15h0.6M133.3 474.15h-0.6M21.2 471.9h0.6M133.3 471.9h-0.6M21.2 470h0.6M133.3 470h-0.6M21.2 468.35h0.6M133.3 468.35h-0.6M21.2 466.9h0.6M133.3 466.9h-0.6M21.2 513.85h0.6M133.3 513.85h-0.6M21.2 508.85h0.6M133.3 508.85h-0.6M21.2 505.3h0.6M133.3 505.3h-0.6M21.2 502.55h0.6M133.3 502.55h-0.6M21.2 500.3h0.6M133.3 500.3h-0.6M21.2 498.4h0.6M133.3 498.4h-0.6M21.2 496.75h0.6M133.3 496.75h-0.6M21.2 495.3h0.6M133.3 495.3h-0.6M21.2 533.7h0.6M133.3 533.7h-0.6M21.2 530.95h0.6M133.3 530.95h-0.6M21.2 528.7h0.6M133.3 528.7h-0.6M21.2 526.8h0.6M133.3 526.8h-0.6M21.2 525.15h0.6M133.3 525.15h-0.6M21.2 523.7h0.6M133.3 523.7h-0.6" stroke="#777" stroke-width="0.35" fill="none"/>
<g font-size="3.1" fill="#333" text-anchor="middle"><text x="32.21" y="540.1">50</text><text x="43.44" y="540.1">100</text><text x="54.67" y="540.1">150</text><text x="65.91" y="540.1">200</text><text x="77.14" y="540.1">250</text><text x="88.37" y="540.1">300</text><text x="99.6" y="540.1">350</text><text x="110.84" y="540.1">400</text><text x="122.07" y="540.1">450</text><text x="131.8" y="540.1">500</text></g>
<g font-size="3.1" fill="#333" text-anchor="end"><text x="20" y="467.1">10<tspan font-size="2.2" dy="-1.3">6</tspan></text><text x="20" y="495.5">10<tspan font-size="2.2" dy="-1.3">5</tspan></text><text x="20" y="524.1">10<tspan font-size="2.2" dy="-1.3">4</tspan></text></g>
<text x="77.25" y="545.4" font-size="3.75" fill="#333" text-anchor="middle">Iteration</text>
<text transform="translate(12.3 491) rotate(-90)" font-size="3.8" fill="#333" text-anchor="middle">Fitness function</text>
<text x="77.25" y="445" font-size="3.9" fill="#333" text-anchor="middle">C29</text>
<rect x="103.4" y="449.8" width="27.1" height="60.1" fill="#fff" stroke="#777" stroke-width="0.4"/><g font-size="3.05" fill="#333"><path d="M104.5 451.8h10.5" stroke="#9a9aff" stroke-width="0.5"/><text x="116.2" y="452.9">SSA</text><path d="M104.5 456.12h10.5" stroke="#00e800" stroke-width="0.5"/><circle cx="109.75" cy="456.12" r="1.01" fill="#00e800"/><text x="116.2" y="457.22">GWO</text><path d="M104.5 460.43h10.5" stroke="#3a3a4a" stroke-width="0.5"/><text x="116.2" y="461.53">WOA</text><path d="M104.5 464.75h10.5" stroke="#ff00ff" stroke-width="0.5"/><rect x="108.74" y="463.73" width="2.02" height="2.02" fill="#ff00ff"/><text x="116.2" y="465.85">PSO</text><path d="M104.5 469.06h10.5" stroke="#00f4f4" stroke-width="0.5"/><circle cx="109.75" cy="469.06" r="1.06" fill="#00f4f4"/><text x="116.2" y="470.16">ABC</text><path d="M104.5 473.38h10.5" stroke="#000000" stroke-width="0.5"/><rect x="108.91" y="472.54" width="1.67" height="1.67" fill="#000000"/><text x="116.2" y="474.48">FA</text><path d="M104.5 477.69h10.5" stroke="#ffff00" stroke-width="0.5"/><text x="116.2" y="478.79">QMESSA</text><path d="M104.5 482.01h10.5" stroke="#3535ff" stroke-width="0.5"/><path d="M108.21 482.01L109.75 480.47L111.29 482.01L109.75 483.55Z" fill="#9a9aff" stroke="#3535ff" stroke-width="0.4"/><text x="116.2" y="483.11">LSSA</text><path d="M104.5 486.32h10.5" stroke="#2cff2c" stroke-width="0.5"/><rect x="108.47" y="485.05" width="2.55" height="2.55" fill="#9dff9d" stroke="#2cff2c" stroke-width="0.4"/><text x="116.2" y="487.42">AGWO</text><path d="M104.5 490.64h10.5" stroke="#ff3010" stroke-width="0.5"/><text x="116.2" y="491.74">IWOA</text><path d="M104.5 494.95h10.5" stroke="#ff00ff" stroke-width="0.5"/><circle cx="109.75" cy="494.95" r="0.88" fill="#ff00ff"/><text x="116.2" y="496.05">VPPSO</text><path d="M104.5 499.27h10.5" stroke="#ffee00" stroke-width="0.5"/><circle cx="109.75" cy="499.27" r="1.01" fill="#ffee00"/><text x="116.2" y="500.37">NABC</text><path d="M104.5 503.58h10.5" stroke="#00ffff" stroke-width="0.5"/><rect x="108.69" y="502.53" width="2.11" height="2.11" fill="#00ffff"/><text x="116.2" y="504.68">MSEFA</text><path d="M104.5 507.9h10.5" stroke="#ff0000" stroke-width="0.5"/><rect x="108.74" y="506.89" width="2.02" height="2.02" fill="#ff0000"/><text x="116.2" y="509">MSESSA</text></g>
</g>
<g>
<clipPath id="c13"><rect x="184.45" y="445.7" width="114.7" height="90.6"/></clipPath>
<g clip-path="url(#c13)" fill="none" stroke-width="0.5" stroke-linejoin="round"><path d="M185.75 453.27L194.3 474.57L202.86 483.34L211.41 489.6L219.97 493.36L228.52 495.86L237.07 497.62L245.63 499.12L254.18 500.37L262.73 501.38L271.29 502.13L279.84 502.88L288.4 503.63L296.95 504.13L297.85 504.18" stroke="#9a9aff"/><path d="M185.75 450.77L194.3 469.56L202.86 470.81L211.41 471.31L219.97 471.56L228.52 471.81L237.07 472.06L245.63 472.14L254.18 472.21L262.73 472.28L271.29 472.35L279.84 472.42L288.4 472.49L296.95 472.56L297.85 472.57" stroke="#00e800"/><path d="M185.75 450.77L194.3 469.56L202.86 470.81L211.41 471.31L219.97 471.56L228.52 471.81L237.07 472.06L245.63 472.14L254.18 472.21L262.73 472.28L271.29 472.35L279.84 472.42L288.4 472.49L296.95 472.56" stroke="none" marker-start="url(#mGWO)" marker-mid="url(#mGWO)" marker-end="url(#mGWO)"/><path d="M185.75 452.02L194.3 470.81L202.86 472.06L211.41 472.56L219.97 473.07L228.52 473.32L237.07 473.41L245.63 473.5L254.18 473.6L262.73 473.69L271.29 473.79L279.84 473.88L288.4 473.97L296.95 474.07L297.85 474.08" stroke="#3a3a4a"/><path d="M185.75 447.01L194.3 450.77L202.86 454.53L211.41 457.53L219.97 460.79L228.52 464.05L237.07 467.05L245.63 469.56L254.18 471.56L262.73 473.57L271.29 475.07L279.84 476.57L288.4 477.83L296.95 479.08L297.85 479.2" stroke="#ff00ff"/><path d="M185.75 447.01L194.3 450.77L202.86 454.53L211.41 457.53L219.97 460.79L228.52 464.05L237.07 467.05L245.63 469.56L254.18 471.56L262.73 473.57L271.29 475.07L279.84 476.57L288.4 477.83L296.95 479.08" stroke="none" marker-start="url(#mPSO)" marker-mid="url(#mPSO)" marker-end="url(#mPSO)"/><path d="M185.75 449.52L194.3 462.54L202.86 463.8L211.41 464.55L219.97 465.3L228.52 466.3L237.07 467.55L245.63 469.06L254.18 470.81L262.73 472.56L271.29 474.57L279.84 476.57L288.4 478.58L296.95 480.33L297.85 480.51" stroke="#00f4f4"/><path d="M185.75 449.52L194.3 462.54L202.86 463.8L211.41 464.55L219.97 465.3L228.52 466.3L237.07 467.55L245.63 469.06L254.18 470.81L262.73 472.56L271.29 474.57L279.84 476.57L288.4 478.58L296.95 480.33" stroke="none" marker-start="url(#mABC)" marker-mid="url(#mABC)" marker-end="url(#mABC)"/><path d="M185.75 457.03L194.3 462.04L202.86 463.3L211.41 464.05L219.97 464.55L228.52 464.8L237.07 465.05L245.63 465.08L254.18 465.12L262.73 465.16L271.29 465.19L279.84 465.23L288.4 465.26L296.95 465.3L297.85 465.3" stroke="#000000"/><path d="M185.75 457.03L194.3 462.04L202.86 463.3L211.41 464.05L219.97 464.55L228.52 464.8L237.07 465.05L245.63 465.08L254.18 465.12L262.73 465.16L271.29 465.19L279.84 465.23L288.4 465.26L296.95 465.3" stroke="none" marker-start="url(#mFA)" marker-mid="url(#mFA)" marker-end="url(#mFA)"/><path d="M185.75 453.27L194.3 475.82L202.86 484.59L211.41 491.61L219.97 494.61L228.52 496.62L237.07 498.37L245.63 499.87L254.18 501.13L262.73 502.13L271.29 502.88L279.84 503.63L288.4 504.13L296.95 504.63L297.85 504.68" stroke="#ffff00"/><path d="M185.75 452.02L194.3 472.06L202.86 477.07L211.41 482.08L219.97 486.34L228.52 489.6L237.07 492.11L245.63 494.11L254.18 495.61L262.73 496.87L271.29 497.87L279.84 498.62L288.4 499.12L296.95 499.62L297.85 499.67" stroke="#3535ff"/><path d="M185.75 452.02L194.3 472.06L202.86 477.07L211.41 482.08L219.97 486.34L228.52 489.6L237.07 492.11L245.63 494.11L254.18 495.61L262.73 496.87L271.29 497.87L279.84 498.62L288.4 499.12L296.95 499.62" stroke="none" marker-start="url(#mLSSA)" marker-mid="url(#mLSSA)" marker-end="url(#mLSSA)"/><path d="M185.75 451.52L194.3 470.31L202.86 471.56L211.41 472.06L219.97 472.56L228.52 472.68L237.07 472.79L245.63 472.9L254.18 473.01L262.73 473.12L271.29 473.23L279.84 473.34L288.4 473.46L296.95 473.57L297.85 473.58" stroke="#2cff2c"/><path d="M185.75 451.52L194.3 470.31L202.86 471.56L211.41 472.06L219.97 472.56L228.52 472.68L237.07 472.79L245.63 472.9L254.18 473.01L262.73 473.12L271.29 473.23L279.84 473.34L288.4 473.46L296.95 473.57" stroke="none" marker-start="url(#mAGWO)" marker-mid="url(#mAGWO)" marker-end="url(#mAGWO)"/><path d="M185.75 452.52L194.3 471.31L202.86 472.31L211.41 472.82L219.97 472.92L228.52 473.02L237.07 473.12L245.63 473.22L254.18 473.32L262.73 473.42L271.29 473.52L279.84 473.62L288.4 473.72L296.95 473.82L297.85 473.83" stroke="#ff3010"/><path d="M185.75 452.02L194.3 469.56L202.86 471.56L211.41 472.82L219.97 474.07L228.52 475.32L237.07 476.57L245.63 477.58L254.18 478.58L262.73 479.58L271.29 480.33L279.84 480.83L288.4 481.33L296.95 481.58L297.85 481.61" stroke="#ff00ff"/><path d="M185.75 452.02L194.3 469.56L202.86 471.56L211.41 472.82L219.97 474.07L228.52 475.32L237.07 476.57L245.63 477.58L254.18 478.58L262.73 479.58L271.29 480.33L279.84 480.83L288.4 481.33L296.95 481.58" stroke="none" marker-start="url(#mVPPSO)" marker-mid="url(#mVPPSO)" marker-end="url(#mVPPSO)"/><path d="M185.75 452.02L194.3 477.07L202.86 485.84L211.41 492.61L219.97 495.36L228.52 497.12L237.07 498.62L245.63 499.87L254.18 501.13L262.73 502.13L271.29 503.13L279.84 503.88L288.4 504.63L296.95 505.13L297.85 505.18" stroke="#ffee00"/><path d="M185.75 452.02L194.3 477.07L202.86 485.84L211.41 492.61L219.97 495.36L228.52 497.12L237.07 498.62L245.63 499.87L254.18 501.13L262.73 502.13L271.29 503.13L279.84 503.88L288.4 504.63L296.95 505.13" stroke="none" marker-start="url(#mNABC)" marker-mid="url(#mNABC)" marker-end="url(#mNABC)"/><path d="M185.75 450.77L194.3 454.28L202.86 457.53L211.41 461.29L219.97 464.3L228.52 467.3L237.07 470.31L245.63 472.06L254.18 473.32L262.73 474.32L271.29 475.07L279.84 475.82L288.4 476.57L296.95 477.07L297.85 477.12" stroke="#00ffff"/><path d="M185.75 450.77L194.3 454.28L202.86 457.53L211.41 461.29L219.97 464.3L228.52 467.3L237.07 470.31L245.63 472.06L254.18 473.32L262.73 474.32L271.29 475.07L279.84 475.82L288.4 476.57L296.95 477.07" stroke="none" marker-start="url(#mMSEFA)" marker-mid="url(#mMSEFA)" marker-end="url(#mMSEFA)"/><path d="M185.75 453.27L194.3 501.63L202.86 528.43L211.41 533.69L219.97 534.45L228.52 534.7L237.07 534.7L245.63 534.7L254.18 534.7L262.73 534.7L271.29 534.7L279.84 534.7L288.4 534.7L296.95 534.7L297.85 534.7" stroke="#ff0000"/><path d="M185.75 453.27L194.3 501.63L202.86 528.43L211.41 533.69L219.97 534.45L228.52 534.7L237.07 534.7L245.63 534.7L254.18 534.7L262.73 534.7L271.29 534.7L279.84 534.7L288.4 534.7L296.95 534.7" stroke="none" marker-start="url(#mMSESSA)" marker-mid="url(#mMSESSA)" marker-end="url(#mMSESSA)"/></g>
<path d="M185.75 447V535H297.85" fill="none" stroke="#6a6a6a" stroke-width="0.55"/>
<path d="M185.75 447H297.85V535" fill="none" stroke="#999" stroke-width="0.45"/>
<path d="M196.76 535v-1.1M196.76 447v1.1M207.99 535v-1.1M207.99 447v1.1M219.22 535v-1.1M219.22 447v1.1M230.46 535v-1.1M230.46 447v1.1M241.69 535v-1.1M241.69 447v1.1M252.92 535v-1.1M252.92 447v1.1M264.15 535v-1.1M264.15 447v1.1M275.39 535v-1.1M275.39 447v1.1M286.62 535v-1.1M286.62 447v1.1M297.85 535v-1.1M297.85 447v1.1M185.75 451.6h1.1M297.85 451.6h-1.1M185.75 479.2h1.1M297.85 479.2h-1.1M185.75 507h1.1M297.85 507h-1.1M185.75 534.8h1.1M297.85 534.8h-1.1" stroke="#777" stroke-width="0.35" fill="none"/>
<g font-size="3.1" fill="#333" text-anchor="middle"><text x="196.76" y="540.1">50</text><text x="207.99" y="540.1">100</text><text x="219.22" y="540.1">150</text><text x="230.46" y="540.1">200</text><text x="241.69" y="540.1">250</text><text x="252.92" y="540.1">300</text><text x="264.15" y="540.1">350</text><text x="275.39" y="540.1">400</text><text x="286.62" y="540.1">450</text><text x="296.35" y="540.1">500</text></g>
<g font-size="3.1" fill="#333" text-anchor="end"><text x="184.55" y="453.1">10<tspan font-size="2.2" dy="-1.3">10</tspan></text><text x="184.55" y="480.7">10<tspan font-size="2.2" dy="-1.3">8</tspan></text><text x="184.55" y="508.5">10<tspan font-size="2.2" dy="-1.3">6</tspan></text><text x="184.55" y="536.3">10<tspan font-size="2.2" dy="-1.3">4</tspan></text></g>
<text x="241.8" y="545.4" font-size="3.75" fill="#333" text-anchor="middle">Iteration</text>
<text transform="translate(175.7 491) rotate(-90)" font-size="3.8" fill="#333" text-anchor="middle">Fitness function</text>
<text x="241.8" y="445" font-size="3.9" fill="#333" text-anchor="middle">C30</text>
<rect x="267.95" y="449.8" width="27.1" height="60.1" fill="#fff" stroke="#777" stroke-width="0.4"/><g font-size="3.05" fill="#333"><path d="M269.05 451.8h10.5" stroke="#9a9aff" stroke-width="0.5"/><text x="280.75" y="452.9">SSA</text><path d="M269.05 456.12h10.5" stroke="#00e800" stroke-width="0.5"/><circle cx="274.3" cy="456.12" r="1.01" fill="#00e800"/><text x="280.75" y="457.22">GWO</text><path d="M269.05 460.43h10.5" stroke="#3a3a4a" stroke-width="0.5"/><text x="280.75" y="461.53">WOA</text><path d="M269.05 464.75h10.5" stroke="#ff00ff" stroke-width="0.5"/><rect x="273.29" y="463.73" width="2.02" height="2.02" fill="#ff00ff"/><text x="280.75" y="465.85">PSO</text><path d="M269.05 469.06h10.5" stroke="#00f4f4" stroke-width="0.5"/><circle cx="274.3" cy="469.06" r="1.06" fill="#00f4f4"/><text x="280.75" y="470.16">ABC</text><path d="M269.05 473.38h10.5" stroke="#000000" stroke-width="0.5"/><rect x="273.46" y="472.54" width="1.67" height="1.67" fill="#000000"/><text x="280.75" y="474.48">FA</text><path d="M269.05 477.69h10.5" stroke="#ffff00" stroke-width="0.5"/><text x="280.75" y="478.79">QMESSA</text><path d="M269.05 482.01h10.5" stroke="#3535ff" stroke-width="0.5"/><path d="M272.76 482.01L274.3 480.47L275.84 482.01L274.3 483.55Z" fill="#9a9aff" stroke="#3535ff" stroke-width="0.4"/><text x="280.75" y="483.11">LSSA</text><path d="M269.05 486.32h10.5" stroke="#2cff2c" stroke-width="0.5"/><rect x="273.02" y="485.05" width="2.55" height="2.55" fill="#9dff9d" stroke="#2cff2c" stroke-width="0.4"/><text x="280.75" y="487.42">AGWO</text><path d="M269.05 490.64h10.5" stroke="#ff3010" stroke-width="0.5"/><text x="280.75" y="491.74">IWOA</text><path d="M269.05 494.95h10.5" stroke="#ff00ff" stroke-width="0.5"/><circle cx="274.3" cy="494.95" r="0.88" fill="#ff00ff"/><text x="280.75" y="496.05">VPPSO</text><path d="M269.05 499.27h10.5" stroke="#ffee00" stroke-width="0.5"/><circle cx="274.3" cy="499.27" r="1.01" fill="#ffee00"/><text x="280.75" y="500.37">NABC</text><path d="M269.05 503.58h10.5" stroke="#00ffff" stroke-width="0.5"/><rect x="273.24" y="502.53" width="2.11" height="2.11" fill="#00ffff"/><text x="280.75" y="504.68">MSEFA</text><path d="M269.05 507.9h10.5" stroke="#ff0000" stroke-width="0.5"/><rect x="273.29" y="506.89" width="2.02" height="2.02" fill="#ff0000"/><text x="280.75" y="509">MSESSA</text></g>
</g>
</svg>
</body></html>
